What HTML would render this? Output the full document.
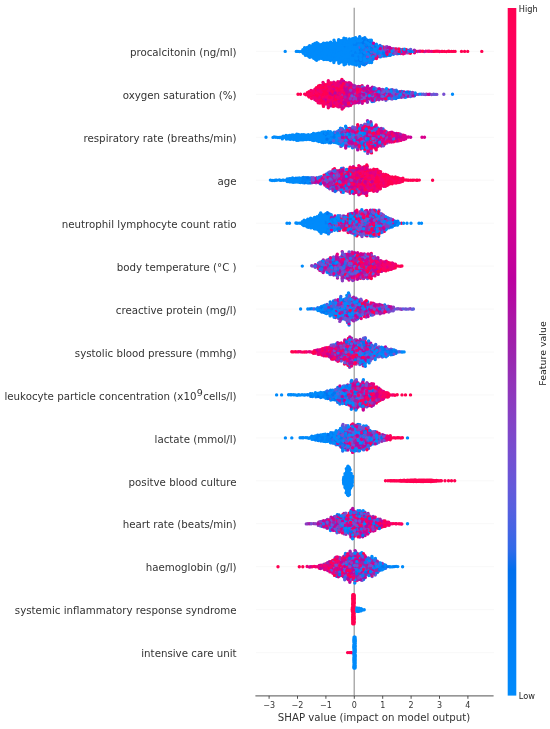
<!DOCTYPE html><html><head><meta charset="utf-8"><title>SHAP summary plot</title>
<style>html,body{margin:0;padding:0;background:#fff}svg{display:block;filter:blur(0.35px)}text{font-family:"DejaVu Sans","Liberation Sans",sans-serif;fill:#333}.yl{font-size:10.25px;text-anchor:end}.tk{font-size:8px;text-anchor:middle}.cb{font-size:8.2px;fill:#222}</style></head><body>
<svg width="550" height="729" viewBox="0 0 550 729">
<rect width="550" height="729" fill="#fff"/>
<g stroke="#f7f7f7" stroke-width="0.9">
<line x1="256" x2="494" y1="51.4" y2="51.4"/>
<line x1="256" x2="494" y1="94.3" y2="94.3"/>
<line x1="256" x2="494" y1="137.3" y2="137.3"/>
<line x1="256" x2="494" y1="180.2" y2="180.2"/>
<line x1="256" x2="494" y1="223.2" y2="223.2"/>
<line x1="256" x2="494" y1="266.1" y2="266.1"/>
<line x1="256" x2="494" y1="309.0" y2="309.0"/>
<line x1="256" x2="494" y1="352.0" y2="352.0"/>
<line x1="256" x2="494" y1="394.9" y2="394.9"/>
<line x1="256" x2="494" y1="437.9" y2="437.9"/>
<line x1="256" x2="494" y1="480.8" y2="480.8"/>
<line x1="256" x2="494" y1="523.7" y2="523.7"/>
<line x1="256" x2="494" y1="566.7" y2="566.7"/>
<line x1="256" x2="494" y1="609.6" y2="609.6"/>
<line x1="256" x2="494" y1="652.6" y2="652.6"/>
</g>
<line x1="354.2" x2="354.2" y1="7.8" y2="695.6" stroke="#999" stroke-width="1.2"/>
<g fill="none" stroke-width="3.4" stroke-linecap="round">
<path stroke="#d9008c" d="M391.9 53.0h0"/>
<path stroke="#008bfb" d="M379.5 49.9h0M328.5 48.7h0M328.8 45.9h0M327.3 45.8h0M359.9 54.1h0M320.5 51.7h0M361.3 56.5h0M356.2 63.7h0M360.9 53.0h0M327.1 55.5h0M330.0 45.2h0M321.9 57.2h0M345.7 57.0h0M352.3 64.0h0M332.0 46.2h0M357.5 46.3h0M374.6 55.6h0M308.0 53.1h0M369.9 45.8h0M308.3 56.0h0M357.9 47.5h0M352.8 52.7h0M371.2 44.5h0M337.6 55.5h0M349.1 54.0h0M314.8 47.6h0M320.5 48.2h0M407.0 49.9h0M363.0 62.0h0M345.9 47.3h0M329.0 50.2h0M342.5 54.0h0M354.4 39.6h0M376.7 57.3h0M354.2 50.4h0M311.9 54.3h0M366.4 47.6h0M354.3 53.9h0M322.1 48.5h0M337.7 56.8h0M335.4 45.5h0M347.3 41.1h0M337.1 51.4h0M335.6 48.5h0M327.2 48.7h0M352.7 51.4h0M369.7 58.4h0M316.8 52.8h0M354.5 56.5h0M354.2 43.6h0M328.3 59.6h0M334.2 43.1h0M326.4 54.1h0M329.1 43.3h0M314.9 53.7h0M383.3 48.3h0M315.3 51.4h0M363.1 38.4h0M335.3 54.6h0M342.6 59.3h0M316.6 60.2h0M368.1 48.7h0M315.3 59.3h0M308.0 51.2h0M357.7 50.1h0M393.3 51.4h0M314.8 57.7h0M335.6 57.1h0M340.5 44.4h0M347.5 59.0h0M337.4 45.9h0M354.5 55.6h0M349.7 58.3h0M340.9 50.1h0M347.4 57.7h0M320.2 45.0h0M388.5 55.4h0M344.1 52.8h0M362.9 48.4h0M333.8 52.9h0M327.0 42.9h0M364.6 43.8h0M352.4 57.1h0M320.4 46.4h0M383.2 51.3h0M354.3 51.4h0M318.4 57.5h0M302.9 49.6h0M360.7 42.1h0M339.5 54.0h0M318.6 54.7h0M318.2 43.6h0M340.2 62.2h0M342.4 43.4h0M313.7 58.2h0M366.5 43.3h0M352.2 50.1h0M334.0 40.3h0M354.6 63.2h0M338.9 63.2h0M325.0 43.4h0M356.1 47.3h0M376.5 49.9h0M347.2 46.1h0M361.3 39.5h0M359.3 58.3h0M305.3 55.3h0M334.0 58.4h0M352.8 47.5h0M342.6 50.4h0M297.9 51.4h0M371.5 42.9h0M334.2 50.2h0"/>
<path stroke="#ff0051" d="M442.6 51.4h0M383.3 46.9h0M436.1 51.2h0M428.0 51.2h0M455.1 51.4h0M385.1 52.7h0"/>
<path stroke="#0081f7" d="M359.5 43.7h0M367.8 55.2h0M386.2 55.9h0M366.8 51.5h0M355.9 59.5h0M376.6 48.6h0"/>
<path stroke="#0076f1" d="M357.6 59.5h0M362.7 39.7h0M367.8 45.9h0M364.4 63.7h0M376.3 54.1h0"/>
<path stroke="#e7007e" d="M386.7 49.9h0M403.4 53.8h0M414.5 52.7h0M405.3 53.1h0"/>
<path stroke="#f30070" d="M408.6 52.8h0"/>
<path stroke="#fc0061" d="M388.1 51.4h0"/>
<path stroke="#5b5ddd" d="M373.3 51.3h0M393.4 48.6h0M374.5 56.7h0"/>
<path stroke="#306ae9" d="M388.5 54.0h0M362.8 45.6h0M361.2 62.1h0M390.5 52.7h0M374.9 47.2h0M371.1 47.6h0"/>
<path stroke="#8a3cc0" d="M417.3 51.5h0M384.9 54.4h0M424.2 51.6h0M395.7 51.5h0M383.6 54.6h0"/>
<path stroke="#9d22ac" d="M400.8 51.4h0M409.3 50.1h0M400.3 53.5h0"/>
<path stroke="#764ed0" d="M368.0 47.3h0"/>
<path stroke="#306ae9" d="M373.1 52.7h0M366.1 55.6h0M371.5 45.7h0M366.3 40.6h0M376.7 55.9h0M366.0 56.9h0M378.2 55.0h0M364.3 47.0h0"/>
<path stroke="#e7007e" d="M402.2 53.6h0"/>
<path stroke="#5b5ddd" d="M410.7 49.4h0M391.3 54.1h0M378.4 49.7h0M381.4 48.4h0M383.2 49.7h0"/>
<path stroke="#0076f1" d="M369.9 55.9h0M380.0 54.0h0M366.1 63.5h0M390.3 55.3h0M381.8 51.2h0M376.4 47.1h0"/>
<path stroke="#fc0061" d="M384.7 48.5h0M371.2 54.0h0"/>
<path stroke="#d9008c" d="M388.7 48.8h0"/>
<path stroke="#008bfb" d="M329.0 51.3h0M358.0 39.3h0M342.2 42.2h0M371.3 58.3h0M409.0 51.5h0M351.2 44.0h0M350.9 54.4h0M357.9 44.8h0M350.8 45.5h0M324.2 45.9h0M342.8 46.2h0M333.4 48.7h0M371.0 56.7h0M334.1 54.1h0M316.8 47.2h0M335.6 60.1h0M323.4 56.7h0M362.9 49.9h0M354.6 52.5h0M346.0 45.7h0M285.2 51.4h0M337.5 49.9h0M369.6 51.4h0M330.5 60.5h0M306.7 55.0h0M335.6 51.5h0M313.1 54.3h0M342.5 52.7h0M327.2 57.2h0M349.2 64.1h0M339.5 52.7h0M355.7 40.3h0M361.2 63.5h0M315.1 45.0h0M337.4 52.7h0M347.7 48.6h0M311.9 48.4h0M346.1 38.8h0M349.2 40.2h0M364.8 56.7h0M338.9 56.6h0M364.4 62.0h0M311.6 56.9h0M325.7 52.6h0M343.9 38.2h0M364.6 46.0h0M335.5 50.0h0M332.4 52.8h0M343.9 46.0h0M321.6 51.6h0M332.2 55.5h0M321.7 44.4h0M369.3 54.1h0M313.0 45.9h0M340.9 40.6h0M328.5 47.4h0M342.7 44.7h0M364.7 39.1h0M338.8 61.7h0M355.7 37.7h0M325.5 57.7h0M334.1 55.5h0M333.9 47.1h0M347.3 61.7h0M316.8 42.6h0M356.0 51.2h0M354.7 48.7h0M359.2 63.5h0M340.9 51.4h0M357.7 52.6h0M338.4 51.3h0M332.1 59.6h0M308.8 49.8h0M334.1 57.0h0M337.3 47.5h0M359.3 56.7h0M369.7 57.0h0M345.7 44.6h0M406.9 51.5h0M368.5 41.7h0M333.7 44.4h0M349.5 55.7h0M352.3 44.6h0M351.1 51.6h0M351.0 48.6h0M332.3 54.0h0M349.5 42.9h0M332.1 56.7h0M315.2 49.8h0M339.2 46.0h0M371.4 42.1h0M359.6 55.5h0M324.1 44.4h0M332.3 43.5h0M326.9 51.5h0M334.0 59.4h0M330.2 50.2h0M312.0 55.6h0M328.5 58.2h0M321.8 54.1h0M303.3 51.2h0M337.2 58.0h0M307.1 53.3h0M345.7 61.5h0M325.5 49.0h0M308.2 48.1h0M335.3 42.6h0M309.8 55.9h0M359.8 44.4h0M347.5 60.4h0"/>
<path stroke="#0081f7" d="M364.4 64.7h0M402.2 51.6h0M355.9 56.6h0M344.0 47.4h0M366.4 54.1h0M373.2 48.9h0M362.5 59.9h0M362.5 51.7h0M356.4 65.0h0"/>
<path stroke="#8a3cc0" d="M379.8 47.2h0M387.9 52.8h0"/>
<path stroke="#764ed0" d="M371.7 55.3h0M407.2 52.8h0M371.2 59.6h0M396.6 49.0h0"/>
<path stroke="#ff0051" d="M405.7 49.5h0M433.1 51.4h0M386.7 54.6h0M402.5 49.4h0M467.7 51.4h0M415.7 51.1h0"/>
<path stroke="#9d22ac" d="M383.5 56.0h0"/>
<path stroke="#f30070" d="M378.3 56.4h0M429.3 51.3h0"/>
<path stroke="#b30aa3" d="M405.7 51.4h0M389.7 47.5h0M381.2 54.5h0"/>
<path stroke="#8a3cc0" d="M396.4 51.1h0M385.5 47.1h0M397.1 53.7h0"/>
<path stroke="#d9008c" d="M386.7 48.3h0M403.6 51.4h0M372.9 47.1h0"/>
<path stroke="#5b5ddd" d="M372.7 46.4h0M371.7 60.9h0M373.0 49.8h0"/>
<path stroke="#764ed0" d="M388.4 50.0h0M367.3 50.0h0M392.1 50.0h0"/>
<path stroke="#008bfb" d="M380.3 56.9h0M349.4 62.5h0M357.7 43.2h0M364.5 51.3h0M316.6 50.0h0M345.7 51.3h0M344.2 55.3h0M346.4 58.7h0M359.4 49.0h0M343.7 42.3h0M354.6 46.3h0M347.6 52.8h0M321.6 55.8h0M323.5 43.2h0M357.7 54.0h0M330.3 55.7h0M351.0 60.3h0M357.8 57.9h0M339.2 48.8h0M332.5 50.0h0M310.1 46.9h0M310.2 51.4h0M343.9 63.0h0M339.1 59.3h0M350.8 52.8h0M315.1 46.3h0M377.8 48.0h0M337.1 48.6h0M393.4 54.3h0M343.9 62.1h0M335.7 44.2h0M374.7 50.0h0M313.0 44.5h0M320.5 56.2h0M362.6 41.3h0M337.0 43.4h0M342.3 61.8h0M357.2 55.5h0M323.7 52.9h0M318.9 51.4h0M368.1 44.6h0M325.2 55.2h0M367.9 58.1h0M349.2 41.6h0M340.9 59.6h0M390.5 54.1h0M347.7 42.5h0M354.5 60.3h0M308.5 46.9h0M366.5 58.1h0M330.9 46.9h0M371.4 40.3h0M352.5 42.7h0M375.0 48.8h0M372.9 44.7h0M307.2 51.4h0M325.6 45.9h0M364.7 54.4h0M318.5 45.3h0M345.9 40.1h0M344.1 48.9h0M344.1 64.7h0M354.4 41.0h0M347.9 47.2h0M318.8 49.6h0M342.1 57.8h0M325.3 54.2h0M373.2 53.8h0M350.7 57.2h0M318.6 52.9h0M339.4 57.9h0M354.6 57.7h0M332.3 44.8h0M364.7 49.1h0M321.7 50.0h0M342.2 60.5h0M320.7 52.9h0M346.1 48.6h0M329.0 55.4h0M380.1 53.1h0M313.4 51.1h0M314.9 43.4h0M327.3 52.9h0M315.2 56.4h0M325.6 56.7h0M327.0 50.1h0M323.1 54.2h0M311.9 52.8h0M309.9 48.4h0M345.6 54.2h0M318.8 59.1h0M356.1 50.2h0M340.4 45.9h0M361.4 51.2h0M351.3 55.9h0M333.8 61.0h0M330.2 48.2h0M330.2 57.6h0M342.5 51.6h0M361.6 44.6h0M320.6 49.6h0M318.6 48.4h0M384.5 51.3h0M313.1 48.6h0M358.8 51.2h0M354.5 59.0h0M325.0 59.4h0M357.5 60.6h0M361.1 58.0h0M321.7 58.4h0M330.5 54.5h0M350.6 61.3h0M340.7 60.7h0"/>
<path stroke="#306ae9" d="M364.3 50.0h0"/>
<path stroke="#e7007e" d="M425.9 51.3h0M391.7 48.7h0"/>
<path stroke="#ff0051" d="M449.6 51.4h0M453.3 51.4h0M410.4 53.2h0M464.6 51.4h0"/>
<path stroke="#0076f1" d="M366.4 59.1h0M367.6 40.3h0M369.8 43.0h0M359.5 49.8h0M384.7 55.7h0M364.6 42.1h0M398.8 53.6h0"/>
<path stroke="#0081f7" d="M368.0 51.3h0M367.7 62.3h0M364.5 55.6h0M369.5 47.3h0M371.5 52.6h0M350.8 50.0h0M357.9 56.8h0M359.2 39.3h0M358.0 42.0h0M361.0 49.8h0M359.7 59.7h0"/>
<path stroke="#306ae9" d="M376.8 53.1h0M364.7 44.8h0M366.2 48.8h0M380.0 45.5h0"/>
<path stroke="#9d22ac" d="M414.0 51.4h0M378.5 51.2h0M393.4 52.7h0"/>
<path stroke="#8a3cc0" d="M387.0 46.6h0M376.4 45.8h0"/>
<path stroke="#e7007e" d="M386.9 52.9h0M431.3 51.4h0"/>
<path stroke="#008bfb" d="M360.0 62.0h0M326.9 44.4h0M340.5 43.5h0M349.1 47.1h0M310.4 50.0h0M330.8 52.8h0M356.1 54.2h0M304.4 53.1h0M353.1 45.8h0M366.4 50.0h0M315.2 48.8h0M352.6 61.3h0M321.9 52.8h0M349.6 60.0h0M328.8 54.0h0M350.7 47.0h0M344.1 53.8h0M347.3 43.6h0M355.8 62.4h0M369.9 49.9h0M357.5 48.8h0M342.5 56.7h0M323.7 48.6h0M320.2 54.4h0M349.4 39.0h0M356.3 38.9h0M354.6 64.5h0M344.2 39.7h0M340.8 58.0h0M374.8 44.4h0M349.4 44.6h0M339.2 47.4h0M349.5 48.6h0M352.8 60.1h0M317.0 44.2h0M303.3 53.2h0M323.6 47.3h0M342.4 40.8h0M344.1 44.8h0M349.0 52.7h0M344.1 59.3h0M316.9 54.3h0M351.0 58.6h0M330.8 43.9h0M349.4 49.8h0M359.6 46.0h0M313.9 56.7h0M313.2 50.0h0M412.5 51.6h0M340.6 48.6h0M363.3 55.7h0M335.7 47.0h0M343.9 57.8h0M327.0 59.5h0M336.1 52.5h0M323.8 50.2h0M345.8 41.8h0M331.9 47.6h0M313.6 47.2h0M309.9 52.9h0M361.3 54.0h0M354.6 38.3h0M352.5 38.6h0M338.7 39.6h0M370.1 48.6h0M331.8 51.8h0M361.3 43.3h0M311.7 49.9h0M340.7 55.5h0M348.9 51.1h0M314.7 55.4h0M317.2 58.6h0M365.7 39.1h0M338.5 40.8h0M308.4 54.6h0M339.2 60.8h0M332.2 57.8h0M345.7 43.1h0M362.8 44.3h0M360.9 47.5h0M352.1 48.7h0M381.5 52.8h0M379.5 51.3h0M338.6 50.2h0M328.8 44.6h0M340.7 47.5h0M345.5 52.9h0M340.7 56.7h0M381.7 56.0h0M334.0 46.2h0M352.5 54.2h0M351.1 39.9h0M400.3 49.5h0M350.5 63.1h0M331.7 48.6h0M310.3 54.3h0M352.7 39.9h0M376.4 51.5h0M325.4 50.2h0M330.3 51.4h0M356.1 45.9h0M327.2 47.1h0M354.4 62.0h0"/>
<path stroke="#ff0051" d="M461.5 51.4h0M399.1 51.5h0M444.5 51.4h0M434.4 51.4h0M398.9 48.9h0M395.3 49.0h0M446.4 51.6h0M437.9 51.2h0M420.8 51.3h0M481.8 51.4h0"/>
<path stroke="#f30070" d="M374.6 58.2h0"/>
<path stroke="#0076f1" d="M366.4 45.9h0M368.2 52.8h0M359.8 60.8h0M363.0 64.2h0M369.6 41.5h0M383.5 53.3h0M369.9 52.9h0M368.3 61.0h0M375.4 45.9h0M360.8 60.8h0"/>
<path stroke="#764ed0" d="M393.8 49.9h0M367.5 56.8h0M394.9 53.5h0M374.6 54.1h0"/>
<path stroke="#0081f7" d="M362.8 62.9h0M355.8 43.0h0M366.4 44.7h0M362.8 53.1h0M364.8 37.7h0M352.7 55.5h0M355.9 44.4h0M355.9 60.8h0M359.7 64.8h0M359.8 42.1h0M390.3 50.0h0M355.7 52.8h0"/>
<path stroke="#d9008c" d="M419.2 51.3h0"/>
<path stroke="#b30aa3" d="M386.9 51.5h0"/>
<path stroke="#5b5ddd" d="M360.1 47.2h0M372.9 57.8h0"/>
<path stroke="#0076f1" d="M410.5 51.6h0M363.1 54.5h0M371.4 48.6h0M359.7 36.8h0M363.1 42.8h0M364.7 40.7h0"/>
<path stroke="#ff0051" d="M390.1 51.2h0M451.6 51.4h0M422.8 51.3h0M441.6 51.4h0M448.4 51.2h0"/>
<path stroke="#8a3cc0" d="M385.2 49.7h0"/>
<path stroke="#5b5ddd" d="M371.4 51.5h0M379.7 55.5h0M370.1 61.1h0M381.2 50.1h0"/>
<path stroke="#fc0061" d="M439.6 51.5h0"/>
<path stroke="#306ae9" d="M381.7 46.8h0M366.3 62.0h0"/>
<path stroke="#f30070" d="M376.5 58.6h0"/>
<path stroke="#764ed0" d="M374.6 52.7h0M366.1 52.6h0"/>
<path stroke="#0081f7" d="M361.7 48.7h0M363.1 58.6h0M354.4 44.7h0M363.1 57.0h0M359.7 52.5h0M373.0 59.2h0M357.9 62.1h0M356.1 42.1h0M371.4 49.9h0M377.9 52.9h0M367.8 59.4h0"/>
<path stroke="#9d22ac" d="M414.3 50.1h0M372.9 55.5h0"/>
<path stroke="#c70098" d="M373.5 43.3h0M380.3 48.5h0M390.3 48.8h0"/>
<path stroke="#008bfb" d="M344.2 60.6h0M354.6 42.2h0M335.3 58.7h0M296.3 51.4h0M313.7 55.4h0M358.0 63.2h0M360.1 38.0h0M340.8 42.1h0M313.6 52.9h0M359.4 40.7h0M328.6 52.7h0M360.8 40.5h0M369.9 40.1h0M364.7 52.8h0M361.0 55.1h0M305.2 51.2h0M321.7 45.5h0M342.6 47.4h0M316.7 45.6h0M311.8 46.1h0M373.2 56.7h0M404.2 49.3h0M304.6 47.8h0M344.5 40.8h0M377.9 46.2h0M367.7 43.1h0M335.5 55.6h0M318.4 56.1h0M338.7 44.7h0M342.8 49.1h0M364.8 60.7h0M337.1 44.5h0M354.4 47.4h0M349.6 45.8h0M348.0 54.1h0M323.7 51.3h0M317.1 55.7h0M348.6 61.1h0M357.7 51.4h0M301.5 51.5h0M359.5 66.3h0M334.3 51.4h0M338.7 55.2h0M309.7 57.3h0M329.0 57.0h0M369.6 62.5h0M339.0 42.4h0M330.6 42.2h0M344.2 51.6h0M344.6 56.8h0M371.6 62.5h0M375.1 51.3h0M356.0 48.6h0M364.8 59.5h0M347.3 44.8h0M321.8 46.9h0M357.7 40.8h0M352.3 41.6h0M306.6 47.8h0M316.7 51.4h0M349.4 57.1h0M362.9 47.2h0M323.7 58.4h0M333.9 62.5h0M299.4 51.6h0M345.5 50.1h0M345.7 64.0h0M361.2 46.1h0M342.9 55.4h0M366.3 60.8h0M337.8 59.5h0M347.6 50.0h0M344.3 50.1h0M392.0 51.3h0M352.7 58.5h0M312.2 51.3h0M325.5 51.4h0M356.0 55.2h0M348.1 55.4h0M340.3 52.8h0M365.7 41.9h0M364.6 58.4h0M367.9 54.1h0M376.4 44.3h0M356.4 58.4h0M320.6 57.7h0M346.2 59.6h0M334.3 41.9h0M327.0 58.4h0M352.9 62.6h0M360.7 59.5h0M345.7 62.7h0M351.1 42.7h0M325.0 47.5h0M306.2 49.3h0M305.2 49.5h0M337.4 54.3h0M346.1 55.8h0M311.7 47.2h0M323.7 55.8h0M317.3 48.5h0M323.7 59.6h0M315.2 52.6h0M316.9 57.1h0M347.3 56.8h0M369.5 44.4h0M340.7 54.0h0M309.6 45.6h0M338.9 43.7h0M318.8 46.7h0M325.5 44.7h0M344.0 43.4h0M351.0 41.1h0M369.5 59.9h0M347.7 51.3h0M330.2 58.9h0"/>
<path stroke="#b30aa3" d="M388.4 47.6h0"/>
<path stroke="#0076f1" d="M415.1 94.2h0M392.9 93.1h0"/>
<path stroke="#306ae9" d="M409.5 94.5h0M356.8 102.0h0"/>
<path stroke="#8a3cc0" d="M347.1 105.3h0M370.4 98.7h0M401.2 92.7h0M352.1 98.2h0"/>
<path stroke="#b30aa3" d="M355.3 96.9h0M353.4 95.8h0M365.5 89.8h0M370.3 88.5h0M348.5 105.9h0M377.4 92.5h0M399.4 92.8h0M360.7 97.3h0M365.8 97.2h0M360.8 91.4h0M353.9 98.4h0M375.8 92.9h0M408.0 92.0h0"/>
<path stroke="#d9008c" d="M358.3 95.6h0M345.0 87.2h0M342.3 106.2h0M314.8 99.6h0M391.0 94.2h0M377.5 89.1h0M346.6 90.1h0M345.5 91.4h0M340.1 81.8h0M340.5 102.6h0M343.4 84.8h0M372.2 92.8h0M338.8 83.2h0M373.9 91.4h0"/>
<path stroke="#0081f7" d="M375.9 91.6h0M404.6 94.2h0M355.2 87.0h0"/>
<path stroke="#764ed0" d="M433.6 94.2h0M360.4 94.2h0M348.3 92.8h0M355.5 91.5h0"/>
<path stroke="#e7007e" d="M319.8 95.8h0M322.7 90.1h0M348.6 100.0h0M331.7 87.1h0M343.3 103.4h0M323.5 83.7h0M356.9 94.4h0M323.0 93.0h0M345.6 82.7h0M324.7 100.9h0M341.6 105.2h0M341.8 99.5h0"/>
<path stroke="#5b5ddd" d="M360.5 102.0h0M374.1 94.0h0M385.9 100.3h0M358.9 100.9h0M391.3 93.1h0M377.5 99.4h0"/>
<path stroke="#f30070" d="M328.3 80.7h0M320.0 98.7h0M343.5 107.6h0M331.6 104.3h0M333.0 93.2h0M332.1 100.2h0M314.9 89.2h0M321.8 91.5h0M319.7 89.9h0M319.7 88.8h0M318.3 98.7h0M327.3 87.4h0M340.4 101.2h0M338.4 91.5h0M341.7 83.7h0M331.8 84.4h0M326.7 98.4h0M343.3 94.6h0M330.2 91.4h0M328.1 97.0h0"/>
<path stroke="#fc0061" d="M324.8 95.7h0M311.3 92.3h0M323.3 105.2h0M321.6 90.0h0M318.2 102.8h0M365.5 99.1h0M338.7 88.8h0M338.4 104.1h0M323.0 86.2h0M362.1 97.2h0M336.5 85.7h0M316.4 89.3h0M343.8 98.4h0M360.4 88.4h0M338.6 105.5h0M324.7 97.0h0M335.4 91.5h0M309.9 95.9h0M340.3 95.6h0M340.2 106.5h0"/>
<path stroke="#c70098" d="M357.1 99.3h0M349.0 84.6h0M341.6 98.4h0M343.4 104.9h0M362.3 89.7h0M322.9 84.9h0M367.6 86.3h0M356.9 88.2h0M330.0 105.9h0M349.1 98.7h0M342.0 82.3h0"/>
<path stroke="#9d22ac" d="M401.5 91.4h0M358.5 94.1h0M386.0 95.8h0M370.0 96.7h0M384.4 97.1h0"/>
<path stroke="#008bfb" d="M383.7 95.6h0M406.2 96.9h0M381.1 92.7h0M408.0 94.4h0M402.7 91.8h0M411.6 95.8h0M452.5 94.3h0"/>
<path stroke="#ff0051" d="M363.8 93.0h0M330.9 85.6h0M328.3 107.7h0M321.4 95.8h0M330.4 90.1h0M335.3 87.5h0M331.8 101.6h0M311.2 96.0h0M314.6 95.9h0M349.0 90.1h0M341.8 88.8h0M333.4 99.6h0M324.9 102.4h0M324.9 90.1h0M330.1 87.2h0M354.3 94.4h0"/>
<path stroke="#0081f7" d="M372.1 101.6h0M392.6 91.3h0"/>
<path stroke="#008bfb" d="M392.5 94.3h0M394.8 96.1h0M405.0 97.3h0"/>
<path stroke="#ff0051" d="M348.8 97.4h0M336.8 104.7h0M309.5 93.1h0M318.5 85.9h0M345.3 93.0h0M331.9 95.5h0M336.5 90.1h0M323.5 106.4h0M323.0 99.4h0M352.0 89.0h0M341.9 79.4h0M309.0 91.6h0M342.0 84.9h0M344.6 88.8h0M323.1 101.0h0M330.2 82.9h0M318.2 87.5h0M328.4 95.9h0M316.3 94.2h0M333.3 91.8h0M328.5 94.5h0"/>
<path stroke="#f30070" d="M360.4 92.8h0M326.5 90.2h0M324.6 94.4h0M387.8 92.7h0M346.8 98.4h0M337.9 81.8h0M338.0 102.9h0M319.7 101.8h0M326.8 91.9h0M343.8 91.6h0M318.2 91.8h0M313.1 92.8h0M373.8 96.9h0M367.5 95.8h0M333.3 105.1h0M321.8 94.3h0M317.9 92.8h0"/>
<path stroke="#5b5ddd" d="M395.1 94.4h0M379.5 96.8h0M370.8 99.9h0"/>
<path stroke="#764ed0" d="M416.3 94.4h0M394.5 90.5h0M374.4 93.3h0M387.6 97.1h0"/>
<path stroke="#b30aa3" d="M355.1 95.5h0M340.2 93.1h0M369.3 98.6h0M387.7 89.9h0M355.3 90.2h0M367.6 98.5h0M360.4 100.0h0M332.9 84.8h0M392.8 96.9h0M367.5 90.1h0M358.6 102.7h0M384.2 94.6h0"/>
<path stroke="#9d22ac" d="M389.5 95.6h0M360.8 99.0h0M401.2 97.3h0M355.6 88.6h0M399.7 91.6h0M370.8 94.1h0M382.5 99.3h0"/>
<path stroke="#c70098" d="M369.4 89.8h0M345.5 101.6h0M348.4 101.4h0M380.8 97.4h0M364.1 97.1h0M372.6 96.8h0M359.1 93.1h0M347.3 94.4h0M370.6 95.8h0M343.9 99.9h0M375.7 97.2h0M345.2 94.3h0M352.3 99.8h0M340.3 83.5h0M333.3 98.4h0"/>
<path stroke="#fc0061" d="M330.3 102.9h0M327.9 85.1h0M318.6 94.4h0M336.4 101.5h0M330.0 104.3h0M320.0 94.5h0M324.6 88.8h0M350.5 88.8h0M333.6 86.2h0M318.3 99.9h0M351.8 102.5h0M338.3 98.3h0M321.4 88.4h0M319.8 100.2h0M326.4 84.7h0M324.8 92.9h0M342.1 109.0h0M345.5 85.7h0"/>
<path stroke="#8a3cc0" d="M412.9 94.3h0M369.2 91.6h0M389.7 92.9h0M392.3 89.7h0M343.2 106.3h0M343.4 101.0h0"/>
<path stroke="#306ae9" d="M363.9 87.6h0M373.9 101.3h0M351.9 86.4h0"/>
<path stroke="#e7007e" d="M340.1 87.4h0M335.6 86.2h0M328.4 91.7h0M335.1 88.8h0M367.5 89.0h0M358.3 90.2h0M351.6 100.9h0M338.3 86.2h0M348.7 96.0h0M362.1 85.7h0M336.6 87.2h0M333.4 97.2h0M345.0 84.4h0M327.9 93.2h0M338.7 87.6h0"/>
<path stroke="#d9008c" d="M350.4 83.3h0M388.8 90.1h0M374.4 98.3h0M391.0 96.9h0M342.3 107.8h0M342.2 91.7h0M328.3 106.4h0M343.8 90.4h0M352.3 103.5h0M351.0 95.7h0M333.2 83.3h0M340.4 91.7h0M352.1 85.0h0"/>
<path stroke="#e7007e" d="M353.7 89.7h0M335.2 84.9h0M341.8 102.5h0M357.3 91.1h0M355.5 94.2h0M348.4 86.9h0M326.3 103.9h0M362.3 93.1h0M323.5 89.2h0M353.9 93.0h0M315.0 92.5h0M367.4 94.5h0M330.2 95.7h0M339.3 84.6h0"/>
<path stroke="#8a3cc0" d="M411.4 94.1h0M392.4 98.7h0M362.6 91.6h0M378.7 92.9h0M387.9 98.7h0"/>
<path stroke="#fc0061" d="M304.6 94.1h0M336.9 95.6h0M333.2 101.1h0M333.8 94.4h0M312.8 91.0h0M323.3 95.7h0M319.4 87.3h0M330.1 98.4h0M308.5 96.1h0M356.8 97.1h0M311.6 98.6h0M348.7 94.4h0M326.4 86.2h0M316.4 99.3h0M326.6 102.2h0M357.1 86.6h0M325.1 99.7h0M350.3 86.2h0M387.7 94.5h0"/>
<path stroke="#d9008c" d="M403.3 94.3h0M353.7 101.6h0M334.5 98.5h0M338.5 93.1h0M375.7 95.7h0M333.4 95.8h0"/>
<path stroke="#0076f1" d="M414.5 95.8h0M410.0 92.2h0M396.0 91.5h0M395.9 98.5h0M377.7 90.9h0"/>
<path stroke="#f30070" d="M327.8 86.4h0M316.3 100.6h0M347.1 87.6h0M358.6 91.6h0M321.8 85.6h0M331.8 98.7h0M328.2 82.3h0M343.2 95.5h0M325.3 98.2h0M373.8 95.8h0M352.0 87.5h0M328.3 90.3h0M357.3 100.5h0"/>
<path stroke="#9d22ac" d="M397.8 94.3h0M371.4 93.0h0M386.1 91.6h0M374.5 90.4h0M429.8 94.3h0M377.1 96.2h0M336.6 100.1h0M362.4 98.5h0M381.1 98.5h0M381.1 89.8h0"/>
<path stroke="#b30aa3" d="M381.0 91.5h0M358.8 86.4h0M360.3 95.7h0M369.0 92.8h0M379.3 90.2h0M408.1 96.3h0M365.8 100.4h0M350.4 91.5h0M404.3 92.0h0M362.2 94.7h0M367.0 92.8h0"/>
<path stroke="#764ed0" d="M421.5 94.3h0M355.9 99.6h0M380.7 94.2h0M431.7 94.6h0M363.3 91.5h0"/>
<path stroke="#306ae9" d="M376.1 98.4h0M396.0 95.8h0"/>
<path stroke="#c70098" d="M326.3 99.9h0M382.6 91.1h0M331.7 105.8h0M334.8 104.1h0M350.4 101.4h0M379.2 88.7h0M358.8 99.7h0M352.2 92.7h0M367.6 96.8h0M362.3 103.2h0M347.4 104.0h0M332.1 94.2h0M353.8 88.7h0M350.8 92.9h0"/>
<path stroke="#ff0051" d="M333.1 103.8h0M323.1 104.0h0M340.3 88.7h0M348.7 88.5h0M350.3 94.2h0M336.9 88.5h0M340.3 96.9h0M333.5 87.4h0M318.1 97.1h0M335.4 95.8h0M329.9 93.8h0M335.2 97.3h0M333.0 90.0h0M360.3 86.8h0M309.2 97.0h0M315.1 94.4h0M343.6 92.9h0M321.8 98.6h0M318.1 88.8h0M298.0 94.3h0M321.7 97.3h0M323.1 91.8h0M319.8 93.0h0"/>
<path stroke="#5b5ddd" d="M386.1 90.1h0M384.1 90.0h0M396.4 92.6h0M423.4 94.2h0M392.1 96.2h0M404.4 93.4h0M354.2 97.3h0M411.6 92.9h0M410.4 96.6h0M362.2 86.9h0"/>
<path stroke="#0081f7" d="M398.8 97.4h0M386.1 97.2h0"/>
<path stroke="#b30aa3" d="M389.4 94.3h0M362.6 88.9h0M367.0 101.3h0M372.3 98.7h0M367.2 99.9h0"/>
<path stroke="#c70098" d="M364.4 95.8h0M355.7 102.7h0M403.9 95.7h0M372.3 91.7h0M328.6 103.4h0M346.9 93.1h0M367.2 87.6h0"/>
<path stroke="#9d22ac" d="M401.2 95.7h0M365.6 91.2h0M367.4 102.2h0M365.8 94.4h0M379.3 94.4h0M377.4 97.3h0M426.6 94.3h0M396.2 94.5h0M358.7 87.5h0"/>
<path stroke="#e7007e" d="M340.8 99.8h0M352.2 90.4h0M375.9 90.0h0M328.5 87.7h0M387.4 95.8h0M343.4 89.0h0M343.7 82.2h0M351.9 96.9h0M338.8 95.7h0M336.8 83.1h0M363.9 99.8h0M339.5 98.3h0M314.7 97.6h0M375.7 94.2h0M329.9 85.9h0M338.6 106.9h0"/>
<path stroke="#764ed0" d="M443.8 94.3h0M418.3 94.4h0M365.9 95.6h0M364.2 98.2h0M391.5 98.9h0"/>
<path stroke="#8a3cc0" d="M384.2 98.6h0M354.9 86.0h0M402.9 96.9h0M353.9 99.8h0M355.2 93.1h0M389.4 91.7h0M362.3 95.7h0M353.9 87.1h0"/>
<path stroke="#f30070" d="M337.0 84.2h0M341.9 101.0h0M369.3 94.4h0M325.0 103.9h0M342.3 103.9h0M309.9 94.4h0M321.8 101.3h0M328.7 89.0h0M328.3 105.2h0M345.7 95.8h0M311.0 90.4h0M321.8 92.9h0M375.5 100.0h0M334.5 105.5h0M345.3 98.5h0M336.6 106.0h0M363.8 90.5h0M314.6 91.0h0M327.1 95.7h0M335.5 90.5h0M313.0 94.6h0M348.3 104.5h0M360.4 89.7h0M316.2 97.6h0"/>
<path stroke="#008bfb" d="M394.4 98.3h0M386.5 88.8h0M415.2 92.9h0"/>
<path stroke="#d9008c" d="M329.9 101.3h0M331.5 103.0h0M341.7 80.8h0M369.5 97.3h0M326.9 101.1h0M372.1 90.1h0M333.5 89.1h0M382.7 94.5h0M382.2 97.8h0M355.2 101.4h0M358.5 97.0h0M350.7 85.1h0M347.0 97.0h0M346.7 99.8h0"/>
<path stroke="#306ae9" d="M374.2 100.0h0M396.2 90.1h0M380.7 95.8h0"/>
<path stroke="#5b5ddd" d="M375.8 88.7h0M386.1 94.3h0M362.2 100.1h0M435.1 94.4h0M372.6 95.8h0"/>
<path stroke="#0076f1" d="M386.1 92.8h0M397.6 97.3h0M390.9 89.9h0"/>
<path stroke="#ff0051" d="M326.6 93.2h0M332.0 92.7h0M321.9 102.8h0M326.4 88.7h0M316.4 87.7h0M307.3 92.6h0M300.5 94.3h0M320.0 85.5h0M328.0 102.1h0M340.5 103.8h0M333.4 106.4h0M385.7 98.7h0M338.6 90.2h0M340.4 89.9h0M306.0 94.7h0M336.3 94.5h0M346.9 102.7h0M335.7 94.4h0M312.7 96.3h0M325.1 86.1h0M326.4 94.2h0M324.9 84.6h0M328.3 100.9h0M316.5 91.0h0"/>
<path stroke="#fc0061" d="M364.1 100.9h0M333.4 102.5h0M311.4 94.3h0M335.0 101.3h0M317.8 95.8h0M338.5 100.2h0M323.1 102.4h0M308.1 94.4h0M357.2 92.5h0M341.9 92.9h0M329.6 84.4h0M316.4 92.8h0M331.8 97.4h0"/>
<path stroke="#d9008c" d="M353.7 91.5h0M362.1 101.5h0M354.1 102.9h0M343.5 97.1h0M332.1 89.9h0M334.9 102.7h0M340.1 105.2h0M350.4 102.4h0M384.2 92.9h0M349.0 82.8h0M365.5 88.2h0M341.8 94.4h0M343.5 86.3h0M346.6 101.0h0M323.3 98.5h0M333.8 82.3h0M345.5 100.2h0M338.5 101.3h0M378.8 98.2h0"/>
<path stroke="#764ed0" d="M341.4 95.7h0M382.5 92.6h0M436.8 94.4h0M393.8 92.6h0M425.2 94.5h0M350.4 103.9h0M406.2 94.6h0M397.8 95.9h0"/>
<path stroke="#306ae9" d="M399.8 94.3h0M396.0 97.1h0M365.8 93.0h0"/>
<path stroke="#fc0061" d="M341.7 97.0h0M328.6 83.6h0M328.6 100.0h0M342.1 90.1h0M321.2 87.2h0M336.8 91.4h0M350.6 87.7h0M325.1 87.8h0M323.1 97.0h0M337.1 98.7h0M320.0 103.1h0M347.0 85.7h0M331.3 82.9h0"/>
<path stroke="#e7007e" d="M350.6 105.4h0M318.0 90.1h0M349.8 97.2h0M357.0 95.9h0M331.3 88.4h0M336.7 97.3h0M347.1 83.3h0M338.2 84.5h0M319.1 97.3h0"/>
<path stroke="#c70098" d="M350.5 99.8h0M346.8 95.7h0M363.8 94.4h0M330.3 93.2h0M389.3 97.2h0M348.9 85.7h0M377.6 94.5h0M372.5 100.2h0M345.4 89.9h0M345.3 103.3h0M428.5 94.4h0M343.8 102.4h0M346.9 91.8h0M338.3 94.2h0M372.6 88.7h0M343.4 87.6h0M343.5 81.3h0"/>
<path stroke="#f30070" d="M370.7 91.8h0M326.9 97.0h0M358.3 89.0h0M313.1 97.6h0M330.1 100.0h0M319.9 91.5h0M330.2 88.6h0M345.4 105.9h0M323.0 82.4h0M335.1 83.2h0M328.4 98.6h0M318.0 101.2h0M339.9 94.3h0M340.6 86.3h0M337.9 97.1h0M336.7 92.9h0M336.7 103.0h0"/>
<path stroke="#9d22ac" d="M391.4 95.7h0M379.0 99.8h0M345.1 97.0h0M354.1 85.8h0M347.1 84.8h0M372.2 94.3h0"/>
<path stroke="#b30aa3" d="M345.5 104.4h0M348.7 91.7h0M379.0 95.5h0M372.4 87.2h0M359.0 98.1h0M366.8 91.5h0M352.0 94.3h0M371.1 90.0h0M335.1 93.0h0M346.9 88.7h0M351.9 91.8h0M364.0 88.9h0M413.0 95.9h0"/>
<path stroke="#0081f7" d="M399.3 95.9h0"/>
<path stroke="#8a3cc0" d="M382.6 89.4h0M355.5 98.4h0M412.6 92.5h0M350.3 98.7h0M350.6 90.3h0M397.8 92.7h0"/>
<path stroke="#5b5ddd" d="M384.0 91.6h0M351.9 95.9h0M382.5 96.4h0M387.5 91.5h0M374.4 87.7h0"/>
<path stroke="#008bfb" d="M400.7 94.4h0M378.9 91.7h0M391.0 91.2h0M369.4 95.7h0M389.3 98.3h0M419.9 94.1h0"/>
<path stroke="#ff0051" d="M341.7 87.6h0M329.8 97.3h0M357.5 89.7h0M325.1 91.6h0M323.0 87.7h0M348.8 103.2h0M342.0 86.2h0M317.1 95.9h0M332.0 91.4h0M343.4 83.6h0M321.5 100.4h0M323.2 94.2h0M335.4 99.8h0"/>
<path stroke="#0076f1" d="M397.5 91.6h0M373.9 89.0h0M406.6 92.1h0"/>
<path stroke="#e7007e" d="M356.1 134.6h0M376.1 134.3h0M384.8 142.1h0M364.4 129.4h0M361.1 137.1h0M391.8 137.2h0M340.3 138.7h0"/>
<path stroke="#fc0061" d="M376.2 149.9h0M398.4 135.7h0"/>
<path stroke="#9d22ac" d="M374.8 135.7h0M347.4 135.7h0M369.5 133.2h0M367.7 123.7h0M356.0 131.9h0M374.6 126.9h0"/>
<path stroke="#764ed0" d="M338.8 135.7h0M355.8 130.7h0M363.1 135.9h0M373.3 132.3h0M376.4 146.0h0"/>
<path stroke="#b30aa3" d="M383.4 134.4h0M363.1 146.6h0M389.5 142.0h0"/>
<path stroke="#306ae9" d="M335.2 139.3h0M345.9 131.7h0M342.3 128.6h0M345.6 138.4h0M364.2 141.3h0"/>
<path stroke="#f30070" d="M367.7 140.2h0M371.2 149.0h0M391.7 138.9h0M374.9 134.8h0M354.0 144.1h0"/>
<path stroke="#0081f7" d="M324.5 134.8h0M321.8 142.2h0M321.8 140.7h0M359.9 137.1h0M310.0 139.6h0M323.6 137.5h0M325.2 137.1h0M357.7 145.7h0M315.0 140.1h0M379.6 134.1h0"/>
<path stroke="#0076f1" d="M354.4 134.9h0M330.6 136.1h0M381.3 129.8h0M357.8 138.6h0M339.0 143.8h0M372.9 143.6h0"/>
<path stroke="#8a3cc0" d="M356.2 141.1h0M361.1 125.4h0M347.9 128.7h0M361.3 145.0h0M368.0 141.5h0M340.9 146.4h0M367.7 129.0h0"/>
<path stroke="#5b5ddd" d="M365.6 141.6h0M337.2 141.5h0M363.1 144.0h0M338.6 141.4h0M369.8 141.7h0M354.4 133.1h0M388.5 138.5h0M341.1 143.2h0M347.5 145.7h0M374.5 131.8h0"/>
<path stroke="#008bfb" d="M312.0 137.2h0M308.2 139.3h0M296.3 135.8h0M374.7 146.8h0M325.6 131.9h0M330.2 132.9h0M316.9 133.8h0M352.9 128.3h0M315.7 138.7h0M335.6 142.6h0M284.4 137.3h0M314.9 134.0h0M329.2 138.6h0M358.7 143.2h0M313.5 138.9h0M330.4 141.5h0M378.0 138.7h0M320.3 141.4h0M277.9 137.5h0M305.0 139.5h0M331.9 136.0h0M338.8 142.8h0M371.1 126.8h0M294.8 139.0h0M351.0 145.6h0M298.0 134.4h0M355.8 146.7h0M346.1 129.4h0M312.0 134.4h0M298.1 140.2h0M279.5 137.5h0M345.9 143.8h0M313.4 133.5h0M324.6 138.5h0M296.7 134.3h0M339.3 137.4h0M369.8 150.6h0M289.5 139.0h0M365.0 150.9h0M301.5 136.0h0M341.0 144.7h0M291.1 137.5h0M371.2 133.4h0M347.0 132.9h0M345.9 134.6h0"/>
<path stroke="#ff0051" d="M379.8 135.9h0M362.8 145.7h0M376.7 132.7h0M371.6 141.2h0M391.8 140.7h0M372.7 140.9h0M378.2 140.3h0M388.1 136.0h0M376.7 142.7h0M376.1 148.3h0M356.0 138.7h0M371.5 152.9h0"/>
<path stroke="#c70098" d="M400.2 139.0h0M410.7 137.3h0M393.7 133.2h0"/>
<path stroke="#d9008c" d="M342.4 141.2h0M390.3 132.5h0M347.5 144.4h0M369.3 125.3h0M396.6 133.4h0M357.8 133.1h0M408.6 137.0h0M391.9 132.1h0M366.3 134.4h0M403.9 139.6h0M363.1 138.7h0"/>
<path stroke="#c70098" d="M390.0 140.3h0M379.6 140.4h0M402.0 137.5h0M381.7 144.5h0M397.0 139.7h0M359.5 141.1h0"/>
<path stroke="#b30aa3" d="M376.4 139.8h0M365.9 135.8h0M388.2 137.4h0M350.8 136.0h0"/>
<path stroke="#764ed0" d="M344.2 141.8h0M355.7 128.2h0M364.4 125.2h0M364.6 142.7h0M376.4 127.5h0"/>
<path stroke="#0081f7" d="M357.8 126.3h0M330.4 137.0h0M330.5 138.5h0M325.5 135.9h0M361.0 131.1h0M361.2 146.5h0M360.7 133.2h0M342.6 130.1h0"/>
<path stroke="#d9008c" d="M356.1 133.5h0M343.7 140.1h0M376.0 126.0h0M383.8 144.5h0M424.5 137.3h0"/>
<path stroke="#8a3cc0" d="M366.0 148.7h0M338.8 140.0h0M370.2 129.3h0M381.6 140.1h0M348.8 135.9h0M368.1 134.4h0M368.2 130.4h0M364.6 148.2h0M376.0 141.4h0M373.3 129.5h0M384.5 134.0h0M342.0 143.4h0"/>
<path stroke="#f30070" d="M370.9 150.3h0M388.5 139.9h0M398.7 138.8h0M398.4 140.9h0M398.3 137.1h0"/>
<path stroke="#ff0051" d="M371.1 134.9h0M351.0 144.5h0M364.6 146.6h0M369.6 148.0h0M379.7 131.1h0M383.9 137.3h0M371.2 132.1h0M357.7 124.8h0"/>
<path stroke="#9d22ac" d="M381.5 146.1h0M344.4 137.3h0M354.6 138.6h0M384.6 137.4h0M350.7 128.5h0M371.1 129.4h0"/>
<path stroke="#fc0061" d="M374.6 142.7h0M386.7 138.9h0M364.5 137.2h0M385.2 132.3h0M388.4 141.6h0"/>
<path stroke="#008bfb" d="M325.4 140.0h0M335.5 134.0h0M341.2 134.4h0M299.7 135.0h0M332.1 141.6h0M345.7 146.7h0M381.7 135.8h0M320.2 133.3h0M310.0 137.3h0M330.4 131.7h0M330.4 134.6h0M324.9 141.1h0M354.3 130.4h0M313.9 140.5h0M373.3 136.0h0M303.2 139.7h0M299.8 137.3h0M308.3 134.8h0M354.2 141.5h0M372.7 130.4h0M337.3 143.1h0M338.9 130.5h0M323.7 132.0h0M331.9 138.5h0M286.4 137.5h0M340.7 140.5h0M342.3 145.5h0M335.8 135.2h0M300.9 137.4h0M296.6 140.2h0M296.5 137.2h0M304.5 137.5h0M328.3 137.0h0M322.6 134.1h0M306.1 135.3h0M288.3 137.6h0M366.1 137.2h0M333.8 142.4h0M306.7 137.6h0M275.9 137.2h0M351.0 132.9h0M301.8 134.8h0M328.9 142.8h0M290.7 139.3h0M318.0 135.9h0"/>
<path stroke="#e7007e" d="M368.0 147.0h0M376.4 136.0h0M361.1 142.6h0M393.7 141.7h0M369.4 126.6h0M390.4 137.3h0M403.5 135.1h0M359.3 127.4h0"/>
<path stroke="#5b5ddd" d="M381.2 134.3h0M360.8 139.9h0M359.4 130.3h0M372.8 145.3h0M357.8 139.9h0M349.2 132.5h0M347.3 143.3h0"/>
<path stroke="#306ae9" d="M378.3 135.6h0M383.1 128.9h0M376.9 130.5h0M345.9 135.8h0M376.4 138.7h0M355.4 142.7h0M340.5 135.7h0M340.8 132.8h0"/>
<path stroke="#0076f1" d="M352.6 129.9h0M362.9 126.3h0M371.0 137.5h0M374.9 140.2h0M339.2 133.2h0"/>
<path stroke="#9d22ac" d="M347.6 141.5h0M366.3 133.1h0"/>
<path stroke="#f30070" d="M360.9 149.1h0M376.1 124.9h0M378.2 134.3h0M398.6 133.7h0"/>
<path stroke="#5b5ddd" d="M360.8 127.8h0M352.7 127.0h0M364.3 132.0h0M371.2 124.4h0M381.7 138.6h0M337.1 131.6h0M350.9 131.6h0"/>
<path stroke="#e7007e" d="M349.4 128.4h0M342.8 135.9h0M391.6 142.0h0M376.2 147.4h0M352.1 144.5h0M379.7 137.3h0M364.5 145.3h0"/>
<path stroke="#0076f1" d="M346.1 137.2h0M377.8 142.8h0M323.6 133.4h0M327.0 135.6h0M381.3 143.1h0M325.3 134.5h0M332.0 140.0h0"/>
<path stroke="#fc0061" d="M396.8 135.9h0M379.6 145.0h0M400.8 140.4h0"/>
<path stroke="#0081f7" d="M332.3 137.2h0M337.5 135.7h0M357.7 130.6h0M323.5 142.5h0M369.6 145.4h0M334.2 135.8h0M357.4 137.5h0M323.3 140.0h0M328.9 134.2h0"/>
<path stroke="#d9008c" d="M357.5 129.3h0M379.5 132.8h0M422.0 137.3h0M385.1 138.9h0M364.5 130.8h0M369.8 149.1h0M342.8 131.6h0"/>
<path stroke="#ff0051" d="M361.2 136.0h0M357.6 141.5h0M371.4 147.8h0M367.2 137.4h0M371.2 146.6h0M368.2 126.5h0M364.6 149.3h0M374.8 148.0h0M352.2 135.9h0M361.0 134.9h0M389.9 135.8h0"/>
<path stroke="#008bfb" d="M349.1 146.1h0M300.0 139.9h0M287.9 138.8h0M359.5 136.1h0M301.6 138.9h0M353.9 145.5h0M331.8 133.1h0M338.6 134.5h0M371.5 135.8h0M320.4 136.0h0M304.9 135.2h0M311.5 138.9h0M316.9 135.6h0M349.0 129.8h0M352.5 147.8h0M325.6 142.3h0M316.5 137.1h0M361.4 147.7h0M283.2 136.2h0M312.4 140.2h0M337.1 134.5h0M366.2 143.1h0M357.5 148.5h0M293.5 139.6h0M286.0 135.5h0M313.7 135.7h0M347.7 140.2h0M330.7 139.7h0M333.8 138.8h0M293.0 134.9h0M343.7 143.4h0M335.3 140.9h0M318.4 133.2h0M306.5 139.5h0M320.2 139.9h0M340.2 137.2h0M298.5 137.5h0M371.4 125.5h0M342.2 144.6h0"/>
<path stroke="#306ae9" d="M361.4 141.0h0M378.2 128.3h0M354.2 137.2h0M343.7 133.0h0M382.9 130.2h0"/>
<path stroke="#8a3cc0" d="M354.0 146.9h0M378.2 144.7h0M359.8 134.5h0M357.5 147.1h0"/>
<path stroke="#b30aa3" d="M374.9 137.1h0M381.4 132.7h0M386.9 134.3h0M345.8 145.4h0M397.0 134.7h0M352.8 140.4h0M378.1 141.8h0M393.1 140.0h0M388.0 134.6h0"/>
<path stroke="#c70098" d="M354.3 131.9h0M367.8 132.9h0M364.6 134.7h0M362.8 131.8h0M373.2 137.0h0M396.8 141.1h0M374.4 127.9h0M376.3 144.3h0M369.7 139.8h0M363.1 139.8h0"/>
<path stroke="#764ed0" d="M371.1 151.4h0M352.6 146.1h0M367.7 149.7h0M367.9 148.5h0M374.5 141.4h0M362.5 141.1h0M359.4 138.7h0M355.9 129.5h0M349.5 144.2h0M383.4 131.8h0M360.9 126.5h0M339.0 132.0h0M364.6 139.6h0"/>
<path stroke="#f30070" d="M344.0 138.5h0M359.3 147.0h0M357.8 127.4h0M362.8 130.5h0M375.0 143.8h0M386.9 136.0h0M393.6 137.4h0"/>
<path stroke="#008bfb" d="M318.0 134.4h0M371.3 139.9h0M322.1 138.8h0M345.7 130.5h0M296.4 138.7h0M345.6 126.2h0M337.4 138.7h0M308.5 137.1h0M322.1 132.3h0M349.0 140.2h0M328.5 135.9h0M328.1 131.4h0M350.5 141.5h0M323.8 138.7h0M318.7 138.5h0M350.5 137.2h0M301.9 139.7h0M354.3 135.7h0M324.0 141.2h0M297.8 135.8h0M340.5 128.1h0M320.3 137.5h0M317.1 140.7h0M322.0 135.8h0M323.5 136.3h0M291.5 135.1h0M315.3 137.6h0M357.9 134.6h0M352.4 134.4h0M371.1 122.9h0M266.0 137.3h0M318.3 137.3h0M371.3 130.9h0M337.3 136.9h0M328.3 141.8h0M311.7 135.8h0M326.9 137.2h0M334.1 132.1h0M310.3 135.1h0"/>
<path stroke="#0081f7" d="M378.3 137.3h0M362.5 142.8h0M346.2 127.8h0M352.2 138.9h0M340.9 131.1h0"/>
<path stroke="#d9008c" d="M402.1 135.1h0M386.7 140.0h0M395.4 139.2h0M400.4 136.0h0M405.1 135.6h0M374.9 133.3h0M376.4 137.5h0M368.2 152.3h0"/>
<path stroke="#8a3cc0" d="M385.0 140.5h0M359.5 144.4h0M354.7 142.9h0M374.4 138.8h0M367.7 153.4h0M386.9 143.0h0M386.4 137.2h0"/>
<path stroke="#764ed0" d="M350.7 134.5h0M341.1 129.7h0M366.5 126.0h0M341.8 138.6h0M357.7 135.8h0M352.7 137.4h0M342.4 140.4h0M395.2 137.4h0M364.8 124.2h0M383.5 145.8h0M367.9 124.9h0M356.5 136.0h0"/>
<path stroke="#c70098" d="M367.6 135.8h0M396.1 138.9h0M385.1 135.7h0M383.4 138.7h0M370.0 144.0h0M389.6 138.5h0M345.7 148.1h0"/>
<path stroke="#ff0051" d="M362.6 128.8h0M370.9 144.9h0M369.7 142.7h0M349.3 142.9h0M369.5 128.1h0M369.5 138.8h0M369.6 135.9h0M373.1 140.2h0M368.0 145.3h0"/>
<path stroke="#e7007e" d="M361.0 132.1h0M367.9 151.2h0M386.8 133.0h0M366.5 146.2h0M383.4 132.9h0M372.9 134.6h0M373.0 128.2h0"/>
<path stroke="#0076f1" d="M347.1 131.5h0M383.3 142.9h0M366.2 140.3h0M334.0 134.0h0M374.8 145.4h0M345.4 141.0h0M365.8 130.2h0"/>
<path stroke="#306ae9" d="M362.5 137.3h0M359.4 131.6h0"/>
<path stroke="#9d22ac" d="M342.0 132.8h0M364.2 135.9h0M380.0 143.5h0M347.5 138.5h0M364.8 138.7h0M391.6 135.7h0M400.3 134.2h0M344.2 135.6h0"/>
<path stroke="#b30aa3" d="M342.3 137.4h0M395.0 133.6h0M357.8 144.2h0M351.0 140.1h0M376.2 131.5h0M364.6 143.7h0M347.3 137.4h0M366.5 127.2h0M368.1 131.8h0M350.3 142.9h0M349.2 131.4h0"/>
<path stroke="#5b5ddd" d="M335.5 132.4h0M339.1 138.4h0M345.8 142.9h0"/>
<path stroke="#fc0061" d="M378.5 133.0h0M378.1 131.4h0M364.8 126.5h0M347.4 130.3h0"/>
<path stroke="#c70098" d="M400.1 137.0h0M373.2 146.6h0M370.0 137.2h0M379.3 129.5h0M361.4 129.5h0M352.0 141.5h0M396.9 137.4h0M349.3 138.8h0M359.3 140.1h0M381.8 131.5h0M379.5 138.9h0"/>
<path stroke="#8a3cc0" d="M350.5 138.9h0M352.3 133.1h0M369.4 134.6h0M354.7 128.9h0M344.6 131.1h0"/>
<path stroke="#b30aa3" d="M389.8 134.2h0M349.1 141.8h0M352.9 143.3h0M367.5 120.8h0M362.8 127.9h0M356.0 139.8h0M357.7 149.9h0M345.7 133.4h0"/>
<path stroke="#764ed0" d="M369.5 123.8h0M354.8 127.6h0M374.4 130.5h0M370.1 130.2h0"/>
<path stroke="#9d22ac" d="M351.0 130.2h0M366.1 131.6h0M355.9 137.3h0M355.5 145.0h0M370.8 121.7h0M381.2 128.4h0M367.3 142.8h0"/>
<path stroke="#ff0051" d="M394.9 141.1h0M381.8 137.4h0M368.1 127.7h0M369.7 131.9h0M373.5 133.1h0M357.7 131.8h0M392.2 133.9h0"/>
<path stroke="#e7007e" d="M381.4 142.0h0M404.9 137.1h0M393.3 134.4h0"/>
<path stroke="#fc0061" d="M378.1 129.7h0M371.5 138.6h0M384.9 143.7h0M364.0 127.6h0"/>
<path stroke="#d9008c" d="M407.2 137.1h0M383.2 141.7h0M352.7 131.2h0M383.1 140.1h0M401.4 139.8h0M371.0 128.2h0M395.1 135.5h0M403.8 137.2h0M378.0 146.3h0M405.7 138.7h0"/>
<path stroke="#008bfb" d="M359.8 133.1h0M274.1 137.0h0M273.0 137.4h0M366.6 147.6h0M302.8 137.0h0M294.6 135.5h0M354.1 140.1h0M320.4 138.7h0M322.3 137.3h0M345.6 140.1h0M289.4 135.4h0M347.6 134.3h0M303.7 134.8h0M335.3 137.3h0M318.8 141.6h0M328.7 140.2h0M298.3 138.7h0M362.9 134.6h0M366.0 144.4h0M327.5 141.0h0M293.1 137.4h0M281.2 137.2h0M294.5 137.0h0M313.5 137.1h0M283.1 137.2h0M282.3 138.9h0M325.6 133.2h0M349.2 137.1h0M332.0 134.3h0M362.6 133.1h0M289.8 137.2h0M318.4 140.1h0M379.7 142.2h0M316.7 138.9h0M286.3 139.1h0M314.9 135.9h0M328.5 133.0h0M368.1 122.0h0M287.7 136.0h0M362.5 148.0h0M337.2 140.0h0M320.7 134.8h0"/>
<path stroke="#5b5ddd" d="M393.6 138.9h0M333.5 140.7h0M372.9 138.5h0M372.9 142.3h0M383.3 136.1h0M344.3 134.2h0M340.7 141.6h0"/>
<path stroke="#306ae9" d="M366.4 138.6h0M386.3 131.7h0M357.4 142.5h0M374.7 129.4h0M376.3 128.9h0M371.3 143.5h0"/>
<path stroke="#0076f1" d="M342.7 134.6h0M334.0 137.1h0M366.3 128.9h0M327.0 139.3h0M330.6 142.8h0M349.7 134.5h0M368.1 138.7h0M361.1 144.1h0"/>
<path stroke="#f30070" d="M359.7 145.6h0M371.2 142.7h0M369.8 146.9h0M361.1 138.8h0M393.2 135.8h0M367.6 144.0h0M355.9 143.6h0M388.4 132.9h0M386.6 141.6h0M384.9 130.9h0"/>
<path stroke="#0081f7" d="M327.3 133.4h0M337.6 133.1h0M359.5 128.8h0M364.6 133.4h0"/>
<path stroke="#c70098" d="M353.3 182.8h0M373.9 184.4h0M360.7 189.7h0M360.6 180.3h0M341.4 181.6h0M353.3 166.7h0M324.4 182.0h0M351.6 185.5h0"/>
<path stroke="#ff0051" d="M377.1 180.2h0M385.5 180.2h0M377.5 189.9h0M369.0 171.8h0M337.1 177.7h0M356.3 171.2h0M379.0 182.9h0M392.8 178.6h0M390.7 180.3h0M388.9 181.6h0M356.4 186.7h0M363.3 192.1h0M370.4 186.2h0M367.3 169.1h0M370.4 175.6h0M343.4 177.7h0M395.6 181.9h0M397.7 177.8h0M354.8 182.8h0M398.9 178.2h0M382.3 174.6h0M378.9 177.4h0M351.6 168.0h0M432.6 180.2h0M343.2 169.6h0M414.1 180.1h0M353.4 181.8h0M370.3 174.5h0M353.6 173.6h0M360.0 178.7h0M353.2 189.4h0M339.6 170.5h0M372.3 173.5h0M374.1 181.6h0M357.0 190.4h0"/>
<path stroke="#f30070" d="M355.1 173.6h0M358.1 175.0h0M375.3 180.3h0M356.5 182.7h0M377.2 172.0h0M326.2 181.5h0M375.4 174.2h0M365.0 180.5h0M364.0 172.2h0M377.3 174.7h0M366.9 177.4h0M363.6 182.9h0M378.7 180.4h0M376.7 182.9h0M370.6 189.0h0M343.6 174.9h0"/>
<path stroke="#e7007e" d="M362.2 191.2h0M358.3 180.3h0M346.5 190.9h0M366.9 183.1h0M365.6 188.4h0M361.9 184.4h0M375.7 177.2h0M334.9 185.8h0M383.6 184.5h0M367.3 166.4h0M353.7 185.4h0M382.6 178.7h0M351.6 188.4h0M331.3 186.9h0"/>
<path stroke="#8a3cc0" d="M339.7 173.5h0M331.6 179.0h0"/>
<path stroke="#0076f1" d="M341.6 190.8h0M342.9 189.7h0"/>
<path stroke="#5b5ddd" d="M350.2 186.0h0M316.1 182.8h0M311.3 177.7h0"/>
<path stroke="#0081f7" d="M336.4 181.6h0M327.9 187.4h0M299.3 180.2h0M304.3 181.6h0M306.3 182.3h0"/>
<path stroke="#9d22ac" d="M330.0 174.5h0M336.6 173.3h0M347.3 179.3h0M345.2 184.7h0M356.7 173.6h0M333.0 190.6h0M355.3 189.8h0"/>
<path stroke="#008bfb" d="M346.5 186.0h0M287.2 181.6h0M279.3 180.0h0M336.3 178.7h0M294.2 182.0h0M287.8 180.3h0"/>
<path stroke="#306ae9" d="M311.0 182.9h0M328.0 181.8h0"/>
<path stroke="#fc0061" d="M385.7 181.6h0M383.4 180.4h0M387.7 183.5h0M373.9 170.6h0M361.6 170.8h0M394.4 182.7h0M363.6 173.4h0M377.2 187.1h0M374.8 184.6h0M390.6 177.2h0M358.6 166.9h0M360.3 190.9h0M358.8 165.7h0M393.9 180.2h0M392.6 180.3h0M353.2 176.4h0M343.5 186.9h0"/>
<path stroke="#764ed0" d="M324.4 178.4h0M341.5 177.6h0M328.1 183.0h0M334.6 181.6h0M326.6 175.7h0M348.8 171.8h0"/>
<path stroke="#b30aa3" d="M353.1 172.4h0M323.3 180.2h0M360.5 172.2h0M336.8 190.0h0M363.5 181.5h0M353.6 192.2h0M367.0 180.3h0M351.6 176.0h0M360.2 169.2h0M337.9 181.9h0"/>
<path stroke="#d9008c" d="M348.3 177.5h0M358.6 173.9h0M345.1 187.2h0M353.2 186.9h0M363.5 176.3h0M355.4 177.4h0M334.7 184.4h0M349.9 189.0h0M376.7 184.6h0M335.1 188.5h0M339.9 188.6h0M323.3 181.7h0M338.4 177.2h0"/>
<path stroke="#ff0051" d="M387.0 181.9h0M402.9 178.3h0M417.4 180.3h0M365.6 190.9h0M320.0 181.9h0M358.4 181.4h0M385.4 178.6h0M363.6 174.9h0M363.8 177.5h0M359.7 177.4h0M378.9 184.6h0M394.0 177.7h0M374.0 174.8h0M382.0 182.9h0M390.6 181.7h0M377.4 170.6h0M402.5 181.4h0M392.2 183.8h0M355.0 170.9h0M389.1 176.4h0M364.9 176.3h0M377.1 169.5h0"/>
<path stroke="#d9008c" d="M368.6 184.4h0M363.8 169.5h0M375.7 187.7h0M353.7 188.4h0M357.2 172.5h0M373.7 179.0h0M353.3 191.1h0M345.2 174.7h0M375.4 172.9h0M361.9 177.2h0"/>
<path stroke="#5b5ddd" d="M336.6 182.9h0M326.0 183.5h0M336.8 180.3h0M343.3 182.7h0M329.5 175.9h0M326.2 185.0h0"/>
<path stroke="#b30aa3" d="M353.3 169.5h0M346.3 177.6h0M360.3 168.1h0M319.9 183.2h0M340.1 183.0h0M341.6 180.4h0M355.8 176.0h0"/>
<path stroke="#f30070" d="M338.2 174.3h0M380.5 184.4h0M368.7 181.7h0M374.2 182.9h0M358.7 185.5h0M347.0 184.5h0M365.1 192.3h0M368.9 170.6h0M366.4 185.8h0M363.2 186.8h0M329.8 180.2h0M355.0 172.2h0M353.3 178.8h0M380.6 178.5h0M386.3 177.0h0M367.2 181.8h0M399.4 180.2h0M382.1 177.6h0M355.2 174.8h0"/>
<path stroke="#764ed0" d="M338.1 189.2h0M321.4 182.1h0M350.5 168.7h0M348.5 170.6h0M324.7 180.3h0M326.4 180.1h0M338.0 184.7h0"/>
<path stroke="#0081f7" d="M328.1 175.8h0M302.6 180.4h0"/>
<path stroke="#008bfb" d="M283.8 180.2h0M270.4 180.1h0M282.5 180.1h0M274.2 180.5h0M289.1 180.4h0M293.8 180.1h0M300.5 182.5h0M297.7 180.3h0M341.4 171.0h0"/>
<path stroke="#8a3cc0" d="M362.1 180.1h0M336.4 172.1h0M329.7 188.8h0M340.2 175.7h0M331.2 185.7h0M351.8 181.7h0M311.4 180.2h0M315.8 181.4h0M350.1 187.5h0"/>
<path stroke="#e7007e" d="M372.2 187.4h0M345.2 188.6h0M360.4 182.9h0M371.9 179.8h0M380.6 177.4h0M361.8 188.5h0M349.9 184.9h0M333.2 177.4h0M333.0 169.7h0M370.3 169.9h0M363.4 178.8h0M350.0 183.0h0M343.1 171.9h0M358.6 170.7h0"/>
<path stroke="#c70098" d="M334.9 173.4h0M365.9 174.9h0M341.9 172.6h0M332.8 178.8h0M331.7 181.7h0M377.1 191.2h0M343.5 185.7h0"/>
<path stroke="#9d22ac" d="M331.4 174.5h0M350.1 193.3h0M329.7 185.7h0M338.4 186.4h0M358.8 188.2h0M335.2 176.0h0M329.3 177.4h0M331.6 184.1h0"/>
<path stroke="#306ae9" d="M333.4 174.3h0M326.2 174.3h0M334.9 182.8h0M316.7 177.7h0M340.1 187.0h0M319.9 178.6h0M326.0 178.8h0"/>
<path stroke="#0076f1" d="M305.9 177.8h0M320.7 183.9h0M333.2 180.2h0M345.0 185.8h0"/>
<path stroke="#fc0061" d="M386.1 184.9h0M350.3 176.0h0M363.2 170.9h0M371.8 170.5h0M351.8 177.7h0M373.7 176.0h0M324.1 175.1h0M383.4 178.7h0M385.6 174.5h0M356.7 185.4h0M396.0 183.1h0M368.6 189.9h0M341.7 178.6h0M382.4 176.0h0M366.9 184.4h0"/>
<path stroke="#5b5ddd" d="M318.2 180.3h0M354.7 179.2h0"/>
<path stroke="#9d22ac" d="M331.2 177.7h0M343.2 168.1h0M362.5 167.8h0M341.9 188.2h0M345.3 178.8h0M316.2 178.9h0M340.1 184.4h0M338.2 171.3h0M331.3 172.0h0M361.6 173.7h0"/>
<path stroke="#f30070" d="M349.6 177.2h0M346.7 173.5h0M361.8 192.8h0M342.0 175.1h0M369.9 190.4h0M367.3 191.2h0M380.3 180.2h0M368.4 187.2h0M363.8 167.0h0M374.2 185.7h0M351.3 169.3h0M337.9 183.1h0M377.5 173.3h0M359.1 193.5h0M381.1 181.4h0M346.4 180.5h0M380.8 183.0h0M361.9 174.9h0"/>
<path stroke="#e7007e" d="M350.2 170.1h0M341.6 192.1h0M343.3 176.1h0M345.0 181.6h0M358.2 176.1h0M324.8 185.0h0M372.1 178.6h0M350.2 181.9h0M368.8 188.5h0M358.5 184.2h0M336.8 170.6h0M367.5 178.8h0M374.9 189.0h0M368.6 180.5h0M360.2 184.4h0"/>
<path stroke="#ff0051" d="M349.9 171.6h0M365.6 170.9h0M365.4 172.3h0M366.7 195.5h0M355.2 186.0h0M368.5 178.6h0M391.6 181.9h0M390.8 183.5h0M354.7 184.2h0M372.2 184.3h0M341.4 184.5h0M348.5 180.3h0M353.0 168.4h0M358.4 182.9h0M353.6 184.4h0M365.7 184.5h0M397.4 180.2h0M388.8 184.2h0M380.4 188.7h0M356.8 179.9h0M365.2 166.7h0M370.7 178.8h0M378.4 186.1h0M348.4 188.5h0"/>
<path stroke="#c70098" d="M346.4 172.2h0M318.0 182.3h0M328.0 184.6h0M358.8 194.7h0M356.6 188.1h0M314.7 182.3h0M355.3 187.0h0M340.0 180.2h0M356.9 179.0h0M316.0 180.1h0M361.9 179.0h0M363.8 168.3h0M322.9 178.8h0"/>
<path stroke="#d9008c" d="M365.5 185.4h0M370.5 177.5h0M334.6 180.3h0M373.9 172.0h0M375.5 175.7h0M363.5 187.9h0M365.6 169.5h0M362.3 169.3h0M360.4 176.2h0M359.9 192.4h0M329.9 181.5h0"/>
<path stroke="#306ae9" d="M328.1 173.0h0M335.1 191.6h0"/>
<path stroke="#764ed0" d="M343.7 190.8h0"/>
<path stroke="#0076f1" d="M309.4 182.9h0M356.6 189.5h0M304.4 182.9h0M307.9 178.8h0M343.5 173.6h0M335.6 190.3h0M307.9 180.3h0M335.0 187.2h0"/>
<path stroke="#8a3cc0" d="M338.2 178.6h0M326.5 186.4h0M341.5 182.8h0M340.6 174.8h0M321.7 180.1h0M338.1 172.6h0"/>
<path stroke="#b30aa3" d="M329.5 187.3h0M347.2 187.1h0M348.4 175.8h0"/>
<path stroke="#fc0061" d="M379.0 178.8h0M372.1 177.2h0M389.0 177.7h0M373.6 188.7h0M377.4 176.1h0M371.8 183.1h0M373.6 191.2h0M368.3 174.6h0M375.5 169.8h0M349.8 190.1h0M400.8 180.1h0M343.1 184.4h0M400.6 182.0h0M384.3 177.4h0M356.9 168.5h0M366.6 193.9h0M374.0 186.8h0M387.3 180.1h0M358.6 172.1h0M380.4 173.1h0"/>
<path stroke="#008bfb" d="M297.7 178.1h0M301.4 178.1h0M336.7 185.6h0M299.2 178.0h0M318.0 178.5h0M340.0 177.3h0M294.0 178.7h0M272.1 180.5h0M321.3 176.6h0M304.2 180.2h0"/>
<path stroke="#0081f7" d="M304.7 179.0h0M295.9 178.2h0M307.7 182.9h0"/>
<path stroke="#fc0061" d="M377.3 188.6h0M383.6 181.5h0M388.9 178.8h0M345.0 173.4h0M348.5 169.3h0M380.8 176.1h0M382.2 184.3h0M350.1 167.3h0M390.9 178.6h0M395.8 180.6h0M340.1 185.6h0M365.4 168.2h0M371.8 174.4h0M371.7 188.6h0M359.0 169.5h0M372.0 176.0h0M401.0 178.7h0"/>
<path stroke="#d9008c" d="M373.5 190.0h0M347.9 183.4h0M374.8 186.0h0M323.5 183.0h0M364.9 193.5h0M370.1 182.9h0M356.6 184.2h0M333.1 172.9h0M339.5 178.7h0M341.7 176.4h0M314.6 178.1h0M366.7 167.8h0M367.4 170.7h0"/>
<path stroke="#764ed0" d="M362.2 181.7h0M345.0 171.9h0M340.0 190.0h0M328.5 178.8h0"/>
<path stroke="#5b5ddd" d="M326.2 177.1h0"/>
<path stroke="#9d22ac" d="M335.1 179.0h0M354.8 169.3h0M358.5 178.7h0M353.4 180.4h0M351.8 170.8h0M357.2 181.6h0M312.7 182.6h0"/>
<path stroke="#8a3cc0" d="M370.6 182.0h0M336.7 176.2h0M366.7 188.9h0M328.4 180.5h0M338.6 187.5h0M348.8 189.8h0M348.3 191.4h0M338.0 175.9h0"/>
<path stroke="#0081f7" d="M309.3 180.1h0M309.2 178.0h0"/>
<path stroke="#ff0051" d="M351.8 183.0h0M354.9 168.1h0M368.7 176.2h0M392.3 176.9h0M387.6 175.3h0M358.5 186.7h0M352.2 190.1h0M346.6 174.9h0M371.8 190.1h0M366.8 173.2h0M350.3 191.8h0M408.7 180.3h0M367.2 171.6h0M382.6 181.6h0M355.3 180.3h0M356.1 176.3h0M361.9 176.2h0M366.8 165.0h0M378.8 181.9h0M406.0 180.0h0M375.5 178.7h0M377.0 185.7h0M416.3 180.2h0M387.4 185.3h0M388.8 180.1h0M365.6 186.9h0M395.4 178.6h0M397.2 182.5h0M334.5 168.8h0M380.6 185.8h0M419.3 180.1h0M384.0 175.9h0M410.8 180.3h0"/>
<path stroke="#306ae9" d="M333.3 186.2h0"/>
<path stroke="#e7007e" d="M383.7 186.4h0M371.8 185.9h0M363.8 189.5h0M363.7 184.4h0M372.3 171.6h0M363.7 190.9h0M360.0 174.6h0M347.0 182.8h0M360.1 170.7h0M370.2 187.7h0M379.1 171.3h0M358.7 177.6h0M368.4 173.3h0M349.9 173.0h0"/>
<path stroke="#f30070" d="M362.1 172.0h0M382.3 180.2h0M366.8 190.1h0M380.6 174.3h0M368.6 183.3h0M378.9 189.0h0M323.2 177.4h0M379.4 175.8h0M334.8 174.7h0M365.7 177.6h0M373.6 177.6h0M375.8 183.0h0M344.5 182.8h0M358.7 190.6h0M351.8 184.3h0"/>
<path stroke="#008bfb" d="M293.0 182.3h0M286.1 180.3h0M302.7 182.6h0M290.7 178.6h0M303.8 177.7h0M287.2 178.9h0M341.5 168.4h0M333.3 187.8h0M352.3 192.6h0M292.7 180.3h0M300.8 180.1h0M333.4 175.8h0M290.9 181.8h0M275.5 180.2h0M276.8 180.3h0M292.6 178.0h0M328.1 174.6h0"/>
<path stroke="#c70098" d="M320.9 178.4h0M356.9 169.6h0M343.0 170.9h0M345.4 180.1h0M329.7 173.1h0M343.4 180.3h0M348.7 173.0h0M358.9 168.4h0M353.6 193.5h0M351.5 179.1h0"/>
<path stroke="#b30aa3" d="M324.9 183.8h0M333.4 181.9h0M336.1 186.9h0M351.6 187.1h0"/>
<path stroke="#e7007e" d="M366.8 187.2h0M368.6 177.6h0M384.0 183.1h0M378.9 174.5h0M355.2 188.1h0M368.6 185.8h0M375.4 171.4h0M343.3 188.5h0M353.6 177.5h0M327.8 186.1h0M373.4 173.4h0M351.9 174.7h0"/>
<path stroke="#f30070" d="M365.4 173.7h0M351.5 172.3h0M363.4 180.4h0M380.3 187.5h0M346.5 181.6h0M353.7 174.8h0M360.1 166.6h0M375.6 190.6h0M373.9 180.3h0M319.9 180.2h0M361.5 186.0h0M356.8 192.3h0"/>
<path stroke="#ff0051" d="M351.6 173.3h0M365.2 189.8h0M363.7 185.3h0M361.9 183.0h0M377.0 181.8h0M403.9 180.0h0M370.5 184.7h0M360.2 173.6h0M365.4 178.9h0M377.1 177.3h0M355.0 190.9h0M395.4 177.0h0M377.2 178.9h0M385.3 175.7h0M336.4 184.1h0M346.8 171.1h0M402.6 180.0h0M341.6 173.7h0M357.1 178.0h0M375.3 181.8h0M350.4 178.9h0M341.6 185.4h0M373.7 169.2h0M370.1 171.7h0M389.1 182.5h0M412.7 180.3h0M378.7 172.8h0M379.0 187.5h0M407.5 180.1h0"/>
<path stroke="#0076f1" d="M307.8 177.6h0"/>
<path stroke="#008bfb" d="M343.2 192.4h0M349.9 174.3h0M289.4 181.7h0M346.5 169.5h0M289.3 178.8h0M341.8 189.4h0M296.1 180.2h0M280.8 180.4h0M295.9 182.0h0M291.1 180.2h0M299.5 182.4h0M307.5 181.6h0M297.3 182.0h0"/>
<path stroke="#b30aa3" d="M363.0 193.1h0M348.5 178.7h0M314.4 180.1h0M333.2 184.7h0M329.9 183.1h0M345.2 177.4h0M343.6 178.8h0M355.0 181.3h0M348.6 187.1h0M344.9 176.1h0"/>
<path stroke="#8a3cc0" d="M332.6 183.3h0M358.6 189.5h0M334.7 177.4h0M324.7 176.9h0M350.3 180.0h0M351.4 180.3h0M331.2 180.3h0M346.5 189.7h0"/>
<path stroke="#fc0061" d="M383.3 174.1h0M382.0 185.6h0M387.2 176.9h0M385.7 183.3h0M370.0 180.1h0M398.9 182.6h0M367.2 174.6h0M360.1 185.4h0M385.5 186.3h0M367.3 175.9h0M359.9 188.5h0M360.3 193.8h0M380.6 171.7h0M387.6 178.8h0"/>
<path stroke="#d9008c" d="M336.9 188.5h0M355.1 192.5h0M348.6 185.9h0M357.0 175.2h0M327.9 177.3h0M365.2 183.0h0M360.2 186.9h0M338.6 180.3h0M361.9 187.3h0M370.4 172.7h0"/>
<path stroke="#5b5ddd" d="M313.4 180.0h0M330.1 178.8h0M333.1 171.5h0M329.7 171.9h0M330.9 188.3h0"/>
<path stroke="#0081f7" d="M303.1 178.8h0M306.2 180.1h0M352.2 191.4h0M302.2 181.7h0M346.4 176.2h0M303.3 177.5h0"/>
<path stroke="#c70098" d="M340.0 172.1h0M341.8 169.6h0M365.2 181.7h0M343.2 181.4h0M361.9 190.1h0M372.1 181.8h0M348.4 174.4h0M331.7 173.5h0M366.7 192.7h0M341.6 187.1h0M360.1 181.7h0"/>
<path stroke="#764ed0" d="M336.9 175.0h0M334.9 171.8h0M313.1 177.8h0M359.0 192.1h0"/>
<path stroke="#9d22ac" d="M353.2 170.9h0M348.6 181.5h0M331.5 182.9h0M331.4 176.0h0M330.0 184.7h0M332.8 188.9h0"/>
<path stroke="#306ae9" d="M319.3 177.2h0M348.9 184.3h0M339.4 181.6h0M346.5 188.3h0M334.9 170.5h0"/>
<path stroke="#764ed0" d="M370.6 221.9h0M382.4 215.6h0M379.0 210.3h0"/>
<path stroke="#0076f1" d="M393.9 223.2h0M343.1 217.5h0M327.4 212.7h0M354.9 220.4h0M350.3 213.7h0M327.3 223.4h0"/>
<path stroke="#0081f7" d="M355.0 226.1h0M378.7 236.2h0M361.8 209.8h0M338.0 217.2h0M325.9 227.3h0M356.9 223.2h0M327.9 229.9h0M333.0 220.7h0M368.7 217.5h0M390.8 220.4h0M336.7 223.0h0M352.2 233.1h0M379.2 231.8h0M378.9 224.5h0"/>
<path stroke="#9d22ac" d="M357.5 234.6h0M346.6 224.4h0M370.4 218.9h0M360.1 212.9h0M339.9 217.6h0M350.2 217.7h0"/>
<path stroke="#f30070" d="M346.3 227.4h0M363.6 224.8h0"/>
<path stroke="#5b5ddd" d="M346.7 217.7h0M382.2 223.1h0M360.4 220.5h0M387.6 217.8h0M328.0 216.8h0M352.1 231.8h0M348.6 224.6h0"/>
<path stroke="#008bfb" d="M333.2 219.1h0M311.0 227.9h0M319.5 214.9h0M302.3 221.8h0M326.6 228.7h0M324.3 221.7h0M368.9 220.1h0M365.7 225.7h0M340.2 227.6h0M377.7 223.3h0M319.6 226.0h0M320.7 227.5h0M312.6 220.4h0M307.4 221.8h0M369.0 228.7h0M315.6 224.7h0M362.0 219.1h0M326.5 232.4h0M379.2 226.1h0M363.9 219.1h0M355.5 214.4h0M392.6 224.6h0M386.1 221.4h0M321.1 221.8h0M421.5 223.2h0M337.9 230.5h0M317.6 218.3h0M389.2 227.8h0M312.4 223.1h0M341.8 220.4h0M306.1 223.0h0M355.4 229.0h0M312.6 227.2h0M326.2 230.0h0M319.3 216.6h0M365.4 213.5h0M363.7 212.3h0M331.4 216.3h0M380.4 217.7h0M339.9 221.6h0M373.7 221.8h0M319.1 221.8h0M370.3 228.8h0M312.7 218.9h0M351.9 220.5h0M369.9 217.4h0M373.7 218.9h0M322.3 219.0h0M329.6 217.8h0M325.9 213.8h0M327.5 232.2h0M321.1 233.2h0M339.6 218.8h0M334.7 221.7h0M326.1 215.2h0"/>
<path stroke="#306ae9" d="M336.7 220.2h0M359.9 217.3h0M345.1 227.4h0M396.1 221.4h0M367.1 213.2h0"/>
<path stroke="#ff0051" d="M353.3 225.8h0M384.3 231.4h0M363.5 223.2h0M369.1 224.3h0M339.6 230.3h0M345.3 224.6h0M378.9 234.3h0M358.5 228.4h0M356.8 235.9h0M372.0 233.2h0M370.5 227.4h0M380.3 221.7h0"/>
<path stroke="#c70098" d="M382.5 225.9h0M372.4 217.5h0M350.3 228.3h0"/>
<path stroke="#b30aa3" d="M391.1 226.0h0M373.4 217.5h0M378.5 219.0h0M361.7 232.5h0M355.1 212.6h0M358.4 226.1h0M375.4 217.8h0"/>
<path stroke="#8a3cc0" d="M370.8 212.9h0M377.2 224.6h0M373.8 224.5h0M385.5 228.1h0M381.0 223.1h0M333.2 223.1h0M348.7 227.2h0M353.8 217.4h0"/>
<path stroke="#d9008c" d="M384.1 216.5h0M392.5 222.9h0M375.9 227.3h0M352.0 227.4h0M331.1 224.3h0M376.0 211.9h0"/>
<path stroke="#e7007e" d="M380.4 216.2h0M343.2 227.4h0M365.2 231.5h0"/>
<path stroke="#fc0061" d="M381.9 230.6h0M354.9 223.0h0M374.0 231.6h0"/>
<path stroke="#8a3cc0" d="M368.6 231.6h0M343.2 218.8h0M363.4 231.2h0M353.5 221.5h0M348.4 228.4h0M332.9 228.6h0M382.6 232.1h0"/>
<path stroke="#ff0051" d="M361.9 228.4h0M340.8 219.1h0M346.5 223.3h0M375.6 232.9h0M377.2 230.4h0M371.7 234.4h0M365.3 214.8h0"/>
<path stroke="#e7007e" d="M384.3 229.9h0M335.0 215.9h0"/>
<path stroke="#0076f1" d="M344.9 220.4h0M379.2 220.5h0M365.8 235.3h0M336.5 218.9h0"/>
<path stroke="#0081f7" d="M353.2 228.9h0M346.9 229.8h0M370.4 233.1h0M343.7 224.7h0M348.4 216.7h0M389.2 219.9h0M353.5 215.9h0M343.2 228.8h0M361.9 211.1h0"/>
<path stroke="#c70098" d="M370.4 210.2h0M363.6 214.0h0M370.8 223.1h0M361.6 217.9h0"/>
<path stroke="#9d22ac" d="M372.4 218.9h0M360.2 214.6h0M360.3 224.7h0"/>
<path stroke="#008bfb" d="M316.1 222.0h0M324.2 216.2h0M327.4 225.8h0M311.0 220.1h0M331.5 228.4h0M313.9 220.3h0M307.5 220.3h0M324.6 220.4h0M372.4 236.1h0M356.6 228.5h0M314.2 227.4h0M319.8 220.4h0M309.2 225.7h0M304.1 223.2h0M336.4 221.6h0M312.2 224.5h0M365.3 228.7h0M378.7 217.3h0M351.8 222.0h0M334.3 227.3h0M316.2 217.4h0M295.9 223.0h0M321.0 224.5h0M365.9 223.1h0M307.5 227.0h0M325.7 220.6h0M381.0 220.3h0M350.0 216.5h0M323.0 217.5h0M314.2 223.1h0M324.5 231.7h0M367.2 221.8h0M339.7 223.2h0M356.8 217.4h0M353.8 213.4h0M321.0 220.2h0M362.4 234.0h0M299.1 223.1h0M387.3 222.7h0M319.7 223.2h0M323.1 227.5h0M302.7 222.9h0M382.3 224.6h0M310.8 226.5h0M381.2 232.6h0M319.6 217.6h0M321.5 228.7h0M318.1 229.7h0M289.5 223.2h0M322.9 220.4h0M380.6 231.4h0M354.8 224.5h0M319.6 229.9h0M305.4 225.8h0M309.2 220.5h0M308.6 227.3h0M356.4 220.3h0M377.1 225.9h0M382.5 229.1h0M333.1 224.6h0M316.2 218.8h0"/>
<path stroke="#b30aa3" d="M381.1 224.3h0M357.4 225.9h0M345.1 225.7h0M355.8 218.8h0M349.6 224.9h0M380.1 229.9h0M374.1 227.5h0M351.7 230.3h0M345.3 230.0h0M363.8 215.2h0"/>
<path stroke="#fc0061" d="M343.5 230.1h0M377.1 217.5h0"/>
<path stroke="#764ed0" d="M392.1 221.7h0M359.0 217.8h0M376.8 220.0h0M348.8 220.5h0"/>
<path stroke="#f30070" d="M377.2 233.0h0M372.5 222.9h0M360.1 230.4h0M375.5 224.6h0M365.5 219.3h0"/>
<path stroke="#306ae9" d="M375.7 219.0h0M348.4 221.9h0M373.8 236.0h0M372.3 210.2h0M367.0 227.8h0M362.0 225.8h0M354.6 215.9h0M380.5 219.1h0M343.1 223.1h0M343.5 220.4h0M330.1 229.6h0M341.3 224.3h0M368.8 230.2h0M386.2 224.9h0"/>
<path stroke="#5b5ddd" d="M367.2 214.6h0M341.7 222.0h0M340.2 224.9h0M361.5 227.1h0M357.3 227.5h0M346.9 216.5h0"/>
<path stroke="#d9008c" d="M371.9 215.8h0"/>
<path stroke="#9d22ac" d="M341.7 227.2h0M375.7 231.7h0M353.3 220.5h0M362.0 216.4h0M377.4 214.8h0M383.8 219.4h0M339.5 226.1h0"/>
<path stroke="#764ed0" d="M354.9 233.3h0M351.6 214.6h0M380.9 215.0h0M355.2 227.7h0M376.0 223.1h0M343.1 216.0h0M338.2 226.2h0M385.3 223.1h0"/>
<path stroke="#306ae9" d="M377.2 221.7h0M387.2 224.4h0M370.6 214.7h0M331.4 231.4h0M365.1 227.1h0M375.8 221.7h0"/>
<path stroke="#0081f7" d="M379.1 214.5h0M353.5 214.6h0M331.3 223.0h0M380.5 227.3h0M326.3 231.4h0M326.1 221.6h0M329.6 221.6h0M394.4 221.0h0M340.3 220.3h0M375.6 230.0h0M350.1 229.7h0M397.8 221.3h0"/>
<path stroke="#5b5ddd" d="M365.8 216.3h0M389.0 226.3h0M349.9 227.2h0M365.2 233.9h0M361.8 223.3h0M329.7 228.5h0"/>
<path stroke="#8a3cc0" d="M382.3 220.1h0M360.1 211.7h0M373.5 233.2h0M375.6 234.2h0M358.9 227.4h0M349.7 225.7h0M375.8 235.7h0"/>
<path stroke="#0076f1" d="M378.7 221.7h0M372.1 231.5h0M329.4 214.0h0M364.0 220.6h0M394.3 225.4h0M390.4 223.4h0M346.1 220.5h0"/>
<path stroke="#d9008c" d="M348.5 214.3h0M355.1 230.2h0M335.2 229.0h0M365.5 210.9h0M367.5 223.0h0"/>
<path stroke="#c70098" d="M382.6 227.5h0M367.0 235.9h0M356.1 214.6h0M372.1 226.0h0"/>
<path stroke="#ff0051" d="M354.8 217.3h0M351.6 224.4h0M348.6 225.7h0M358.7 216.0h0M344.8 228.7h0M370.4 231.9h0M348.1 232.5h0M358.8 231.6h0"/>
<path stroke="#fc0061" d="M375.8 220.4h0"/>
<path stroke="#b30aa3" d="M372.4 222.0h0M358.4 223.2h0M357.0 213.3h0M344.4 216.1h0M356.9 219.1h0M372.2 224.5h0M371.9 220.3h0"/>
<path stroke="#f30070" d="M363.4 232.4h0M357.1 211.8h0M360.0 223.2h0"/>
<path stroke="#008bfb" d="M316.2 226.0h0M355.1 235.0h0M329.6 231.4h0M324.7 227.4h0M328.4 233.9h0M324.3 224.5h0M321.2 226.0h0M316.1 229.0h0M324.4 218.7h0M307.1 226.1h0M373.6 216.2h0M321.0 218.9h0M314.3 221.6h0M315.9 220.2h0M326.4 217.9h0M348.2 217.8h0M387.6 221.8h0M392.4 226.8h0M309.1 223.1h0M390.7 221.9h0M329.5 220.5h0M322.9 223.3h0M309.3 221.7h0M324.6 223.3h0M384.1 220.5h0M329.3 216.7h0M336.5 228.7h0M326.1 219.2h0M338.1 221.4h0M362.1 220.1h0M311.1 223.0h0M357.1 215.8h0M329.6 223.3h0M375.5 213.3h0M314.3 228.8h0M322.8 216.5h0M307.8 223.0h0M311.2 224.9h0M307.6 224.7h0M367.2 220.1h0M363.7 225.9h0M326.2 224.3h0M317.2 224.7h0M346.6 219.0h0M378.4 216.2h0M321.1 217.2h0M367.1 234.4h0M338.2 227.9h0M317.9 221.3h0M375.7 226.0h0M411.0 223.2h0M334.5 230.3h0"/>
<path stroke="#e7007e" d="M368.3 213.2h0M366.7 210.5h0M345.2 222.9h0M383.7 224.9h0M382.0 214.3h0M358.2 220.3h0"/>
<path stroke="#8a3cc0" d="M366.8 233.2h0M366.8 230.0h0M362.0 236.5h0M387.7 227.2h0M384.5 223.3h0M358.5 215.0h0M382.1 219.0h0M365.4 217.8h0M350.5 232.5h0M338.6 223.0h0"/>
<path stroke="#d9008c" d="M341.6 223.1h0M359.6 231.6h0M392.7 219.7h0M331.5 229.8h0M352.0 213.4h0M351.7 218.8h0"/>
<path stroke="#306ae9" d="M389.0 218.5h0M353.3 224.6h0M365.5 222.1h0M346.8 221.9h0M386.9 228.4h0"/>
<path stroke="#0081f7" d="M326.2 223.0h0M338.4 220.3h0M329.6 219.3h0M356.6 230.4h0M328.1 224.6h0M327.6 215.3h0M328.1 219.1h0M327.9 228.3h0M333.0 217.4h0M323.1 229.9h0"/>
<path stroke="#c70098" d="M348.3 223.0h0M368.7 225.9h0"/>
<path stroke="#0076f1" d="M368.8 221.8h0M375.4 210.4h0M370.9 230.3h0M327.7 214.2h0M339.9 229.0h0M391.1 227.0h0M360.3 233.4h0"/>
<path stroke="#fc0061" d="M371.5 230.3h0"/>
<path stroke="#ff0051" d="M348.3 219.1h0M368.5 232.9h0M338.1 224.6h0M334.4 226.1h0M348.3 215.3h0M334.4 224.6h0M378.6 211.8h0M373.7 225.7h0M367.3 217.3h0M379.1 233.0h0"/>
<path stroke="#008bfb" d="M385.9 229.7h0M419.0 223.2h0M333.3 227.2h0M323.1 221.9h0M321.3 223.2h0M323.2 224.5h0M319.1 219.2h0M387.4 219.0h0M326.7 225.7h0M331.2 214.8h0M326.8 216.4h0M297.2 223.2h0M377.4 227.4h0M318.1 226.2h0M303.7 225.5h0M287.0 223.2h0M312.4 226.0h0M361.7 230.1h0M327.8 226.9h0M360.2 216.0h0M336.1 227.2h0M350.3 220.6h0M336.7 224.5h0M327.6 218.0h0M324.8 228.9h0M304.1 220.3h0M329.9 227.1h0M323.1 228.8h0M316.3 223.0h0M330.0 215.3h0M385.6 220.1h0M331.4 220.6h0M332.8 226.1h0M370.4 226.0h0M331.4 221.9h0M317.2 216.8h0M310.4 221.9h0M307.8 219.3h0M334.6 223.0h0M344.7 217.3h0M314.3 224.7h0M322.9 225.6h0M305.6 220.9h0M314.3 226.1h0M320.9 230.3h0M324.9 217.3h0M379.2 227.5h0M310.6 218.3h0M366.9 218.9h0M317.8 223.0h0M371.9 227.5h0M380.7 226.0h0M320.8 216.0h0M322.5 215.0h0M317.4 219.6h0"/>
<path stroke="#764ed0" d="M348.7 231.1h0M336.7 225.8h0M361.8 212.4h0M344.7 219.1h0M352.9 223.0h0M378.8 230.5h0M389.2 224.8h0M384.1 217.9h0M377.3 218.7h0M376.9 213.2h0"/>
<path stroke="#5b5ddd" d="M390.9 219.0h0M340.0 215.7h0M346.7 225.8h0M361.6 214.9h0M383.9 225.8h0M358.8 224.7h0M368.7 218.7h0"/>
<path stroke="#f30070" d="M375.5 216.2h0M374.0 210.1h0M373.6 223.3h0"/>
<path stroke="#b30aa3" d="M367.3 211.8h0M373.7 214.6h0M331.5 217.7h0M350.3 231.5h0M368.9 214.6h0"/>
<path stroke="#9d22ac" d="M351.9 226.0h0M370.8 211.5h0M380.7 228.7h0M378.9 222.8h0M358.7 221.7h0M341.6 226.1h0M354.9 221.4h0M343.0 226.1h0"/>
<path stroke="#b30aa3" d="M385.5 218.5h0M383.8 228.6h0M355.5 211.5h0M331.2 225.9h0M329.8 224.2h0M370.7 220.2h0M374.0 228.9h0M369.2 216.2h0M334.6 217.7h0M363.9 227.1h0"/>
<path stroke="#e7007e" d="M370.3 234.8h0"/>
<path stroke="#0081f7" d="M333.0 221.5h0M363.9 221.6h0M331.4 227.2h0M334.8 218.9h0M331.9 219.2h0M359.7 226.0h0M376.8 216.1h0M351.5 229.1h0M397.5 223.1h0M370.5 236.0h0"/>
<path stroke="#d9008c" d="M384.2 227.3h0M372.2 214.6h0M366.9 231.6h0"/>
<path stroke="#306ae9" d="M390.8 224.5h0M329.6 225.7h0M365.9 224.6h0M329.3 232.5h0M370.5 216.0h0M367.3 224.6h0"/>
<path stroke="#c70098" d="M374.0 230.2h0M353.5 233.1h0M361.7 231.3h0M344.8 221.9h0"/>
<path stroke="#fc0061" d="M374.2 211.8h0M356.8 210.3h0M361.9 213.9h0M378.7 228.8h0"/>
<path stroke="#ff0051" d="M378.7 213.4h0M401.5 223.2h0M373.9 234.5h0M357.3 231.8h0M346.5 228.7h0M363.8 217.8h0M365.2 232.9h0M367.3 215.9h0M372.1 228.8h0"/>
<path stroke="#0076f1" d="M350.1 214.9h0M396.2 224.9h0M375.3 228.6h0M352.2 217.4h0M372.2 213.2h0M338.0 228.9h0M350.0 219.0h0M396.0 223.2h0M360.4 218.7h0"/>
<path stroke="#8a3cc0" d="M387.4 220.6h0M353.3 227.5h0M387.6 225.9h0M369.1 227.4h0M386.1 226.3h0M369.0 223.3h0"/>
<path stroke="#f30070" d="M363.7 216.2h0M370.1 224.5h0M360.2 221.5h0M358.8 219.1h0M351.5 223.1h0"/>
<path stroke="#9d22ac" d="M367.3 226.0h0M364.2 230.1h0M353.7 230.5h0M356.8 224.6h0M365.5 230.0h0M366.9 228.9h0"/>
<path stroke="#5b5ddd" d="M382.2 217.6h0M382.3 221.6h0M361.9 235.3h0M380.9 213.6h0M377.5 229.0h0M360.2 228.8h0M389.4 221.7h0M353.7 231.9h0"/>
<path stroke="#008bfb" d="M314.1 218.8h0M338.4 218.7h0M334.8 220.3h0M343.2 221.6h0M336.8 217.6h0M302.5 224.5h0M319.4 231.3h0M309.0 224.4h0M338.0 215.7h0M355.2 231.9h0M324.6 214.7h0M327.6 220.2h0M309.2 219.4h0M385.7 216.6h0M356.3 221.7h0M399.3 223.3h0M317.8 227.7h0M350.0 221.8h0M328.1 221.8h0M328.3 231.0h0M353.6 219.0h0M376.0 214.8h0M348.2 229.6h0M397.6 225.0h0M322.8 231.4h0M300.6 223.2h0M324.6 226.1h0M377.3 231.5h0M384.0 221.8h0M319.3 227.2h0M314.5 217.4h0M363.6 228.7h0M319.6 224.1h0M324.7 230.3h0M403.6 223.2h0M316.2 227.6h0M320.7 213.0h0M388.9 222.9h0M351.3 216.2h0M349.9 223.0h0M321.2 214.7h0M320.8 231.7h0M407.0 223.2h0M318.8 228.8h0M312.9 221.7h0"/>
<path stroke="#764ed0" d="M365.3 212.3h0M372.4 211.7h0M357.0 233.1h0M383.6 215.2h0M358.8 229.8h0M360.4 234.6h0M362.1 221.6h0M374.3 220.3h0M373.6 213.0h0M363.7 233.8h0M365.3 220.5h0M360.4 227.4h0M361.9 224.6h0"/>
<path stroke="#ff0051" d="M369.5 258.9h0M389.8 264.5h0M386.7 269.2h0M379.9 270.3h0M352.4 267.1h0M342.5 276.6h0M354.1 262.2h0M351.1 267.4h0M369.8 255.9h0M388.1 268.0h0M384.8 265.7h0"/>
<path stroke="#9d22ac" d="M320.2 266.0h0M363.7 278.5h0M349.3 260.3h0M325.1 261.9h0M366.4 256.2h0M367.6 270.3h0M323.7 266.2h0"/>
<path stroke="#d9008c" d="M354.7 256.9h0M388.7 266.1h0M364.4 262.1h0M389.9 269.4h0M379.6 263.2h0M368.0 266.3h0M378.4 267.2h0M356.4 259.3h0M347.4 272.9h0M367.0 260.6h0M349.5 266.3h0M357.3 256.6h0M355.7 256.6h0M364.2 276.7h0"/>
<path stroke="#e7007e" d="M378.2 266.1h0M360.8 268.8h0M340.4 258.9h0M358.9 265.9h0M379.7 269.0h0M361.2 256.6h0M336.8 256.8h0M347.0 268.7h0M355.4 266.2h0M362.8 272.8h0"/>
<path stroke="#fc0061" d="M385.1 264.6h0M372.9 261.5h0"/>
<path stroke="#f30070" d="M374.7 268.7h0M374.4 264.9h0M383.2 266.2h0M362.4 267.1h0M388.4 264.3h0M346.1 273.5h0M377.8 259.2h0M386.3 261.3h0M371.2 274.5h0"/>
<path stroke="#008bfb" d="M335.3 260.3h0M332.2 257.9h0M327.0 262.7h0M321.9 261.4h0M330.3 260.2h0M318.5 263.2h0M350.7 278.1h0M342.2 264.6h0"/>
<path stroke="#5b5ddd" d="M335.2 261.7h0M335.6 264.6h0M337.2 260.6h0M357.8 268.8h0M350.8 266.2h0M328.5 264.7h0M330.1 274.6h0M349.3 274.3h0M357.6 260.8h0"/>
<path stroke="#306ae9" d="M338.9 263.3h0M359.2 273.8h0M345.5 264.8h0M321.6 265.9h0M359.4 264.8h0M350.4 259.2h0M330.0 263.3h0"/>
<path stroke="#8a3cc0" d="M336.9 274.3h0M352.5 276.6h0M333.4 269.0h0M364.4 260.8h0M362.3 258.3h0M349.1 257.9h0M348.7 273.1h0M372.4 269.2h0M367.6 274.1h0M376.1 261.0h0"/>
<path stroke="#c70098" d="M361.3 267.5h0M340.9 269.3h0M329.0 266.0h0M323.6 269.0h0M323.2 272.6h0M353.9 279.8h0M381.5 264.1h0M381.5 262.5h0M350.4 264.8h0M356.1 267.7h0M376.0 265.0h0M344.1 273.3h0M379.5 266.2h0"/>
<path stroke="#764ed0" d="M361.3 263.3h0M328.7 267.5h0M352.5 279.3h0M318.3 264.7h0M352.4 272.7h0M318.3 268.8h0M349.2 267.4h0M344.2 269.3h0"/>
<path stroke="#0076f1" d="M330.4 270.4h0M344.4 274.9h0M343.6 256.0h0"/>
<path stroke="#b30aa3" d="M361.1 260.5h0M345.9 267.6h0M323.3 259.9h0M315.3 264.6h0M369.8 270.4h0M325.4 263.5h0M354.0 264.9h0M349.4 269.0h0M355.8 258.1h0M347.2 265.9h0M343.7 263.3h0M345.6 254.4h0M331.9 273.1h0"/>
<path stroke="#0076f1" d="M346.0 255.8h0M328.7 259.4h0M333.7 266.1h0M347.0 271.6h0"/>
<path stroke="#5b5ddd" d="M374.6 256.6h0M362.5 269.0h0M362.9 260.6h0M338.8 261.7h0M335.9 270.4h0M362.8 262.0h0M342.3 260.5h0M340.8 260.1h0"/>
<path stroke="#f30070" d="M368.2 263.2h0M382.7 267.6h0M369.6 276.2h0M354.1 270.1h0M371.3 253.5h0M347.4 255.5h0M366.4 277.4h0M347.5 259.5h0M364.7 268.8h0"/>
<path stroke="#ff0051" d="M376.6 268.8h0M361.5 264.7h0M358.0 266.1h0M391.9 264.4h0M339.0 270.4h0M359.6 270.1h0M357.4 267.1h0M372.6 256.9h0"/>
<path stroke="#0081f7" d="M371.6 268.7h0M356.5 264.7h0"/>
<path stroke="#9d22ac" d="M367.5 255.3h0M331.9 263.5h0M357.7 259.5h0M333.7 275.0h0M371.6 256.5h0M371.1 271.8h0M360.8 274.4h0M359.4 262.0h0"/>
<path stroke="#8a3cc0" d="M332.4 264.8h0M371.2 255.0h0M376.7 266.2h0M352.6 265.9h0M357.3 263.3h0M335.5 273.3h0M330.8 267.7h0M363.0 278.2h0"/>
<path stroke="#306ae9" d="M320.0 264.8h0M355.8 275.6h0M340.9 264.7h0M336.8 264.8h0M326.7 264.5h0M356.1 270.3h0M324.8 270.1h0M332.1 266.1h0"/>
<path stroke="#c70098" d="M361.1 257.8h0M364.5 264.8h0M330.5 273.3h0M350.5 262.4h0M347.8 267.4h0M336.9 263.6h0M346.0 268.9h0"/>
<path stroke="#fc0061" d="M400.3 266.2h0M376.8 271.3h0M359.4 254.4h0M369.8 271.7h0M383.2 261.9h0M368.9 257.6h0M371.1 258.0h0M328.7 263.3h0M393.2 263.6h0M385.2 269.0h0M347.0 263.3h0"/>
<path stroke="#008bfb" d="M352.3 255.9h0M359.1 268.8h0M333.6 270.7h0M329.0 272.9h0M362.9 271.4h0M345.7 260.6h0"/>
<path stroke="#d9008c" d="M374.9 270.2h0M357.6 252.8h0M376.4 267.3h0M366.3 263.3h0M370.9 276.1h0M364.3 265.9h0M365.0 263.4h0M358.2 274.1h0M373.1 267.4h0M366.5 257.6h0M386.3 266.3h0M372.8 275.3h0M385.0 263.1h0"/>
<path stroke="#e7007e" d="M371.2 267.4h0M392.2 262.9h0M365.9 259.3h0M337.2 259.6h0M362.4 274.0h0M386.5 262.9h0M367.8 257.8h0M395.0 266.0h0M354.1 278.4h0M379.6 262.0h0"/>
<path stroke="#b30aa3" d="M347.4 277.0h0M368.0 273.1h0M342.0 265.9h0M338.7 260.6h0M337.5 278.1h0M375.0 272.9h0M378.1 272.7h0M340.8 266.3h0M335.4 257.4h0M354.4 257.9h0M328.6 271.6h0"/>
<path stroke="#764ed0" d="M323.6 262.9h0M357.5 277.9h0M321.7 271.0h0M369.7 273.3h0M332.0 274.3h0M364.8 275.6h0M345.7 257.3h0M328.7 262.2h0M352.8 268.5h0M342.4 256.9h0M340.7 263.4h0"/>
<path stroke="#b30aa3" d="M336.8 271.3h0M334.0 261.6h0M323.7 270.6h0M381.5 271.4h0M352.9 271.2h0M376.3 272.9h0M344.1 270.7h0M362.8 270.2h0M376.3 273.9h0M342.2 251.6h0M326.8 267.5h0M335.5 258.8h0M378.1 260.6h0M321.6 262.8h0"/>
<path stroke="#fc0061" d="M391.4 269.3h0M364.3 256.6h0M352.3 277.7h0M373.0 262.8h0M388.1 262.4h0"/>
<path stroke="#ff0051" d="M401.9 266.0h0M357.7 264.8h0M385.8 270.9h0M362.3 263.0h0M358.1 270.1h0M347.4 258.2h0M369.7 261.7h0M360.6 278.3h0M383.2 263.5h0M379.7 271.5h0M381.5 265.9h0M358.8 275.0h0"/>
<path stroke="#306ae9" d="M342.1 267.6h0M327.0 261.5h0M357.2 262.1h0M333.5 258.5h0M338.7 268.9h0"/>
<path stroke="#c70098" d="M366.2 268.8h0M327.3 270.9h0M352.1 263.5h0M333.6 264.4h0M358.9 258.4h0M364.3 255.6h0M377.9 257.8h0M353.6 267.3h0M371.2 263.3h0M364.2 259.2h0M372.9 270.8h0"/>
<path stroke="#e7007e" d="M367.9 264.5h0M361.1 270.2h0M379.5 267.5h0M374.9 259.5h0M366.0 273.2h0M391.7 267.7h0"/>
<path stroke="#764ed0" d="M354.3 275.9h0M360.8 271.6h0M348.8 270.3h0M319.9 262.1h0M359.4 260.8h0M362.6 256.5h0M354.3 268.7h0"/>
<path stroke="#d9008c" d="M339.0 267.8h0M323.6 267.7h0M359.3 256.8h0M371.5 264.6h0M351.4 275.4h0M374.6 260.5h0M369.5 254.5h0M375.0 262.0h0M325.0 264.7h0M349.0 280.1h0M344.0 262.0h0M378.2 274.4h0M354.1 277.1h0M386.9 267.6h0M364.4 254.0h0M320.1 267.4h0M333.3 267.5h0"/>
<path stroke="#5b5ddd" d="M364.4 257.9h0M359.5 267.2h0M344.2 257.6h0M354.2 265.9h0M367.6 256.5h0M367.5 278.6h0M330.2 264.5h0M357.6 272.7h0M313.0 266.1h0M354.2 255.1h0M356.0 271.5h0M342.2 271.4h0"/>
<path stroke="#008bfb" d="M343.8 276.3h0M366.1 265.9h0M331.9 260.6h0M323.5 264.5h0M338.8 274.6h0"/>
<path stroke="#8a3cc0" d="M339.0 264.6h0M351.2 261.0h0M361.1 259.1h0M373.5 272.2h0M311.7 265.8h0M367.9 275.9h0M362.3 255.2h0M374.6 257.8h0M339.1 271.8h0"/>
<path stroke="#0076f1" d="M333.6 263.1h0M343.9 264.4h0"/>
<path stroke="#0081f7" d="M354.2 253.8h0M350.5 257.0h0M345.5 258.8h0"/>
<path stroke="#9d22ac" d="M370.8 270.3h0M366.4 271.8h0M352.5 259.5h0M345.4 270.4h0M337.0 266.1h0M347.1 264.7h0M338.7 258.9h0M349.2 256.2h0M345.8 266.3h0M360.8 275.8h0M352.6 264.6h0M347.2 256.9h0"/>
<path stroke="#f30070" d="M318.4 267.7h0M386.0 264.5h0M351.0 272.8h0M344.2 260.6h0"/>
<path stroke="#fc0061" d="M389.9 262.9h0M398.6 266.1h0M385.1 270.4h0M361.6 266.2h0M362.5 275.6h0M376.3 259.6h0"/>
<path stroke="#c70098" d="M339.0 257.7h0M350.4 276.5h0M354.1 259.3h0M347.6 262.0h0M356.0 274.4h0M359.2 276.8h0M343.9 277.6h0M359.4 263.6h0M350.6 268.8h0"/>
<path stroke="#306ae9" d="M340.3 273.6h0M366.3 267.4h0M328.3 268.6h0M345.4 263.2h0M349.0 264.9h0M333.4 259.9h0M373.2 264.5h0"/>
<path stroke="#5b5ddd" d="M345.5 276.2h0M342.2 279.3h0M349.1 252.0h0M345.8 277.9h0M340.8 257.3h0M355.8 262.1h0M349.1 253.4h0"/>
<path stroke="#d9008c" d="M342.4 275.5h0M384.7 261.9h0M342.2 261.8h0M376.1 263.3h0M366.2 262.0h0M335.3 266.3h0M347.4 254.1h0M319.9 270.4h0M378.1 270.0h0"/>
<path stroke="#9d22ac" d="M380.3 260.7h0M364.4 270.2h0M327.3 266.1h0M354.5 274.2h0M349.1 259.0h0M337.3 267.4h0M374.5 263.3h0M356.0 260.6h0M376.5 258.5h0M350.3 254.5h0M342.1 278.1h0"/>
<path stroke="#0081f7" d="M327.1 272.3h0M335.7 263.2h0M337.2 275.5h0M342.3 274.1h0"/>
<path stroke="#0076f1" d="M337.2 270.2h0M322.0 267.4h0M332.2 268.6h0"/>
<path stroke="#8a3cc0" d="M338.7 266.2h0M352.0 251.9h0M331.9 270.0h0M367.9 268.6h0M328.7 270.3h0M328.6 260.8h0M369.4 260.6h0M330.8 271.6h0M369.6 266.0h0M352.7 280.5h0M330.6 268.8h0"/>
<path stroke="#008bfb" d="M342.6 258.2h0M344.1 271.9h0M354.4 271.4h0M343.7 267.7h0"/>
<path stroke="#e7007e" d="M356.4 268.8h0M377.8 268.7h0M339.1 273.4h0M378.4 263.6h0M381.2 260.9h0M367.5 261.9h0M379.7 264.6h0M367.6 277.1h0M359.3 272.7h0M393.6 266.2h0M381.3 267.8h0M360.9 253.8h0"/>
<path stroke="#b30aa3" d="M337.2 258.1h0M350.8 271.3h0M342.1 263.6h0M367.9 259.0h0M357.4 279.2h0M370.9 277.2h0M342.2 255.4h0M336.8 255.6h0M340.6 270.5h0M366.5 276.0h0M364.2 271.5h0M352.4 260.7h0"/>
<path stroke="#ff0051" d="M388.2 270.0h0M352.7 270.0h0M355.5 263.4h0M357.5 275.2h0M381.5 269.4h0M370.9 259.4h0M374.6 274.4h0M376.8 262.2h0"/>
<path stroke="#f30070" d="M333.6 272.1h0M352.5 254.4h0M373.1 260.0h0M366.0 270.3h0M368.2 267.8h0M391.8 266.1h0M385.0 267.4h0M369.8 274.9h0M374.5 266.2h0M349.1 261.7h0M377.6 262.2h0M383.5 264.6h0M343.7 259.0h0M393.5 268.2h0M390.0 266.1h0"/>
<path stroke="#764ed0" d="M366.2 274.7h0M351.0 274.0h0M320.2 263.1h0M349.4 278.8h0M373.0 258.5h0M335.5 267.5h0"/>
<path stroke="#f30070" d="M395.4 264.3h0M390.1 268.1h0M356.9 276.8h0M371.4 260.3h0"/>
<path stroke="#b30aa3" d="M362.4 259.2h0M349.2 255.2h0M369.6 265.0h0M340.5 272.0h0M357.8 253.9h0M348.9 277.4h0M373.0 266.3h0M354.6 252.7h0M376.6 269.9h0M352.7 275.1h0"/>
<path stroke="#0076f1" d="M330.5 266.1h0M359.4 271.3h0M359.4 255.6h0M331.7 262.0h0M352.7 256.9h0"/>
<path stroke="#008bfb" d="M332.1 259.4h0M323.1 261.3h0M349.1 271.9h0M302.3 266.1h0M336.9 262.2h0M331.8 267.5h0M320.3 269.0h0"/>
<path stroke="#c70098" d="M316.7 266.2h0M374.5 271.5h0M354.1 263.6h0M360.3 254.9h0M362.6 254.2h0M359.3 277.7h0M347.4 278.2h0M361.2 272.9h0"/>
<path stroke="#8a3cc0" d="M326.8 260.2h0M342.3 270.0h0M345.8 271.9h0M326.7 269.2h0M315.2 267.3h0M351.0 270.2h0M361.2 277.2h0M364.8 274.0h0M340.9 275.0h0M347.3 274.0h0M330.5 259.0h0M354.3 273.0h0M342.4 280.8h0"/>
<path stroke="#9d22ac" d="M337.4 272.9h0M318.2 266.2h0M357.5 258.2h0M348.9 276.1h0M362.9 265.9h0M352.7 258.1h0M330.4 262.0h0M325.0 268.7h0M369.7 263.1h0M354.4 260.7h0M364.5 272.8h0M350.8 255.4h0"/>
<path stroke="#306ae9" d="M344.2 266.1h0M350.6 258.3h0M337.9 268.8h0M321.7 269.3h0M345.5 261.8h0M335.2 271.7h0M331.9 271.7h0M315.3 266.0h0"/>
<path stroke="#fc0061" d="M352.7 262.1h0M383.6 270.4h0M371.2 261.9h0M369.7 267.4h0M383.6 268.8h0"/>
<path stroke="#ff0051" d="M364.0 267.3h0M378.0 271.5h0M359.6 259.3h0M367.5 271.7h0M357.4 255.5h0M371.3 278.5h0M369.7 277.8h0M371.5 273.1h0M371.1 266.1h0M374.4 267.4h0M395.2 267.9h0M345.5 274.6h0M361.1 262.0h0M396.9 265.9h0M369.2 268.8h0"/>
<path stroke="#5b5ddd" d="M325.2 265.8h0M352.4 273.9h0M373.2 274.0h0M357.3 271.6h0M365.9 254.8h0M335.6 269.0h0M351.1 263.8h0M355.7 273.1h0M342.2 268.8h0M322.4 264.5h0M347.2 275.7h0"/>
<path stroke="#e7007e" d="M342.0 259.4h0M330.4 257.7h0M374.9 275.9h0M347.6 270.1h0M362.6 264.9h0M352.4 252.7h0M368.0 254.0h0M337.3 254.2h0"/>
<path stroke="#0081f7" d="M342.9 254.3h0M335.6 274.8h0"/>
<path stroke="#d9008c" d="M333.9 273.7h0M366.4 264.4h0M366.0 260.4h0M340.7 261.6h0M325.4 267.6h0M378.1 264.6h0M363.0 276.8h0"/>
<path stroke="#764ed0" d="M333.6 257.0h0M349.3 263.5h0M342.6 252.7h0M340.5 267.5h0M344.1 254.8h0M337.5 276.8h0M342.6 272.6h0M347.1 260.7h0"/>
<path stroke="#fc0061" d="M360.8 310.5h0M347.4 318.7h0M357.8 314.3h0M357.6 312.1h0M357.3 302.3h0"/>
<path stroke="#306ae9" d="M406.7 309.1h0M317.8 307.7h0M385.2 310.3h0M332.0 313.4h0M333.8 314.5h0"/>
<path stroke="#0081f7" d="M314.6 308.9h0M328.7 306.3h0M349.1 325.1h0M340.6 298.1h0M349.3 303.6h0M330.2 306.1h0"/>
<path stroke="#e7007e" d="M347.5 305.1h0M381.6 309.3h0M373.0 303.3h0M352.2 298.2h0M342.6 301.3h0"/>
<path stroke="#c70098" d="M372.7 313.5h0M374.3 304.0h0M353.9 304.9h0M352.8 310.5h0M359.3 306.0h0M329.9 309.1h0M365.8 311.7h0M393.1 309.1h0M364.3 305.9h0"/>
<path stroke="#ff0051" d="M354.2 314.5h0M361.0 305.1h0M362.8 309.2h0M357.6 309.1h0"/>
<path stroke="#b30aa3" d="M381.5 305.3h0M360.6 314.5h0M355.7 313.3h0M355.6 308.6h0M386.4 311.6h0M350.8 309.0h0"/>
<path stroke="#5b5ddd" d="M342.1 304.8h0M345.9 312.0h0M313.2 308.9h0M337.0 303.4h0M335.6 302.1h0M384.6 307.6h0M359.4 303.4h0M371.6 313.5h0M347.5 297.1h0"/>
<path stroke="#764ed0" d="M327.0 309.1h0M362.5 305.1h0M359.0 316.0h0M376.3 306.3h0M376.2 309.0h0M349.1 318.5h0M327.0 312.0h0M405.3 309.0h0M342.1 314.0h0M338.4 303.7h0M359.2 317.5h0M339.0 302.5h0M366.4 314.5h0"/>
<path stroke="#9d22ac" d="M367.3 303.2h0M350.7 300.5h0M401.7 309.3h0M347.1 300.7h0M353.8 320.9h0M367.6 313.2h0M350.7 306.2h0M348.7 317.1h0M381.6 311.1h0M366.1 317.1h0"/>
<path stroke="#8a3cc0" d="M343.9 317.5h0M356.1 319.7h0M410.2 308.8h0M349.0 311.6h0"/>
<path stroke="#d9008c" d="M377.5 307.5h0"/>
<path stroke="#008bfb" d="M316.6 309.0h0M324.9 310.2h0M362.7 310.4h0M320.4 307.4h0M300.6 309.0h0M330.6 304.9h0M333.8 315.7h0M333.5 301.0h0M342.3 303.8h0M325.5 306.5h0M338.6 314.3h0"/>
<path stroke="#0076f1" d="M333.6 302.4h0M346.0 302.2h0M336.7 306.2h0M352.5 315.8h0M347.3 299.5h0M331.9 311.9h0M335.2 309.1h0M338.7 313.3h0M359.3 301.8h0"/>
<path stroke="#d9008c" d="M377.8 308.7h0M364.0 314.9h0"/>
<path stroke="#5b5ddd" d="M330.2 312.9h0M345.4 307.6h0M366.2 316.0h0M366.1 306.4h0"/>
<path stroke="#0076f1" d="M363.8 312.1h0M359.1 313.4h0M384.7 305.0h0M345.7 305.3h0M371.1 315.0h0M342.2 316.7h0M344.0 302.3h0M342.1 307.8h0"/>
<path stroke="#e7007e" d="M373.0 306.0h0M360.9 302.2h0M371.3 306.2h0"/>
<path stroke="#306ae9" d="M389.6 308.9h0M371.0 304.8h0M386.6 306.8h0M340.8 296.5h0M355.9 303.3h0M327.0 307.4h0"/>
<path stroke="#ff0051" d="M367.9 310.6h0M376.3 311.7h0M347.2 310.5h0M350.9 311.7h0M377.9 310.5h0"/>
<path stroke="#008bfb" d="M340.5 314.7h0M340.0 317.3h0M333.5 307.7h0M354.5 298.2h0M348.9 305.1h0M374.6 310.7h0M311.5 308.8h0M323.7 310.7h0M336.8 311.8h0M333.6 305.3h0M367.6 301.6h0M340.7 311.7h0M340.5 302.4h0M348.9 294.3h0M366.0 313.2h0"/>
<path stroke="#b30aa3" d="M384.5 309.2h0M336.9 308.9h0M331.6 304.6h0M344.0 314.4h0"/>
<path stroke="#764ed0" d="M333.2 313.0h0M379.8 312.0h0M361.5 300.6h0M369.5 313.4h0M353.8 316.0h0M328.8 311.8h0M340.9 304.9h0M359.2 310.6h0M335.4 307.8h0"/>
<path stroke="#c70098" d="M350.3 301.7h0M383.9 312.8h0M379.6 310.5h0M374.1 314.1h0M369.4 305.1h0M369.3 311.8h0M381.7 312.9h0"/>
<path stroke="#f30070" d="M382.7 305.9h0M347.5 306.5h0M378.0 306.3h0"/>
<path stroke="#9d22ac" d="M364.2 313.3h0M382.9 309.2h0M369.3 307.9h0M349.2 306.6h0M380.0 313.8h0M343.8 305.0h0M383.0 312.1h0M344.1 311.9h0M354.2 317.1h0M341.0 303.6h0"/>
<path stroke="#8a3cc0" d="M372.5 309.1h0M367.5 311.9h0M338.4 309.1h0M357.2 303.6h0M337.0 301.7h0M352.1 307.7h0M360.9 313.3h0M353.8 319.4h0M372.8 304.8h0M338.7 318.6h0M347.2 298.2h0M376.8 307.6h0"/>
<path stroke="#0081f7" d="M325.1 311.6h0M352.4 300.7h0M338.9 315.7h0M351.0 304.8h0M369.8 310.4h0M345.6 301.2h0M352.7 317.4h0M354.2 303.8h0M357.8 315.6h0"/>
<path stroke="#d9008c" d="M364.1 310.6h0M350.8 313.5h0M342.5 310.6h0"/>
<path stroke="#764ed0" d="M354.2 301.2h0M391.9 310.7h0M340.7 320.1h0M347.4 302.3h0M346.9 313.2h0M350.6 317.6h0M384.7 306.2h0M367.9 307.4h0M408.4 309.1h0"/>
<path stroke="#9d22ac" d="M379.5 304.4h0M335.5 317.6h0M352.6 302.2h0"/>
<path stroke="#f30070" d="M359.3 300.3h0M350.7 314.7h0M346.3 316.9h0M377.4 304.9h0M371.0 303.0h0M352.1 303.5h0"/>
<path stroke="#306ae9" d="M330.1 311.9h0M328.6 313.0h0M326.7 306.0h0M344.2 310.4h0M330.5 307.6h0M348.8 297.2h0M352.1 318.5h0M353.8 299.9h0M350.6 316.1h0M338.8 311.7h0M360.7 316.1h0"/>
<path stroke="#0081f7" d="M330.4 310.4h0"/>
<path stroke="#0076f1" d="M323.4 306.0h0M321.7 312.0h0M330.2 302.0h0M309.8 308.9h0M347.1 314.3h0"/>
<path stroke="#8a3cc0" d="M388.1 306.1h0M370.9 312.2h0M396.7 308.9h0M338.5 307.7h0M369.3 306.1h0M360.9 303.4h0M366.3 303.7h0M335.3 300.3h0M340.7 310.5h0"/>
<path stroke="#008bfb" d="M353.9 312.9h0M318.6 309.1h0M347.5 322.6h0M356.0 302.4h0M342.2 299.9h0M349.1 301.0h0M360.8 317.1h0M386.2 307.7h0M339.1 310.3h0M355.8 311.4h0M323.5 307.4h0M349.1 299.9h0M355.9 300.9h0M307.8 309.0h0M350.8 319.0h0M347.5 309.3h0M330.2 315.9h0M336.9 316.3h0M366.0 302.5h0M336.9 314.9h0M345.7 298.7h0M337.2 310.7h0M343.7 315.7h0M324.9 305.2h0M345.4 306.2h0M335.4 310.5h0"/>
<path stroke="#c70098" d="M344.0 309.0h0M358.8 312.0h0M374.2 307.3h0M335.6 314.8h0M371.0 310.8h0M338.8 300.9h0M361.1 306.4h0M388.1 310.5h0"/>
<path stroke="#5b5ddd" d="M354.2 318.1h0M333.4 310.6h0M351.9 299.4h0M354.2 307.9h0M340.3 309.3h0"/>
<path stroke="#b30aa3" d="M386.8 310.4h0M370.9 309.1h0"/>
<path stroke="#fc0061" d="M364.2 316.5h0M374.7 312.6h0M342.2 302.2h0"/>
<path stroke="#e7007e" d="M376.7 310.2h0M347.5 321.1h0"/>
<path stroke="#ff0051" d="M366.0 304.9h0M359.1 309.3h0M364.4 304.7h0M364.7 301.9h0"/>
<path stroke="#764ed0" d="M360.9 299.3h0M386.6 309.0h0M373.4 307.7h0M345.2 313.1h0M388.2 307.6h0M356.1 298.3h0M389.6 311.3h0M366.0 309.0h0M382.7 310.5h0M398.1 308.8h0M349.2 319.8h0M379.4 307.4h0M372.7 315.1h0M335.5 306.3h0"/>
<path stroke="#b30aa3" d="M364.3 303.1h0M355.6 318.3h0M376.3 304.9h0M336.7 304.8h0M360.7 309.0h0M366.2 307.7h0"/>
<path stroke="#0081f7" d="M355.8 314.6h0M338.6 317.1h0M331.6 307.5h0M321.8 310.6h0M320.3 310.9h0M326.6 313.6h0M319.9 309.0h0"/>
<path stroke="#306ae9" d="M358.7 314.7h0M357.7 318.8h0M357.5 299.6h0M346.7 317.2h0M342.0 311.7h0M388.1 309.2h0"/>
<path stroke="#d9008c" d="M364.6 307.4h0"/>
<path stroke="#fc0061" d="M384.8 311.7h0M335.0 316.3h0"/>
<path stroke="#008bfb" d="M321.5 306.4h0M353.9 302.2h0M340.3 316.0h0M344.1 299.5h0M343.5 318.9h0M342.1 315.5h0M346.9 303.4h0M333.4 309.0h0M368.1 308.8h0M328.3 305.3h0M325.3 313.1h0M328.5 308.9h0M349.0 322.3h0M337.5 313.6h0M332.2 310.4h0M352.2 314.4h0M367.6 306.1h0M348.4 315.7h0M332.2 314.6h0M345.8 314.2h0M321.5 308.9h0"/>
<path stroke="#9d22ac" d="M353.7 297.2h0M362.5 313.2h0M377.4 312.9h0M328.7 307.6h0M359.0 307.5h0M345.7 315.5h0M347.1 311.7h0M360.5 311.9h0"/>
<path stroke="#ff0051" d="M362.4 303.7h0"/>
<path stroke="#5b5ddd" d="M345.3 318.3h0M335.2 304.8h0M345.2 310.6h0M394.8 309.1h0M357.1 313.1h0M345.7 319.8h0M353.8 310.1h0M413.4 309.0h0M412.1 309.3h0M343.8 303.5h0"/>
<path stroke="#c70098" d="M369.6 309.2h0M391.4 307.0h0M379.8 305.9h0M349.0 323.8h0M338.0 299.6h0"/>
<path stroke="#e7007e" d="M340.1 313.3h0"/>
<path stroke="#8a3cc0" d="M400.1 309.0h0M340.2 300.7h0M383.3 307.3h0M339.8 321.4h0M355.3 317.1h0M342.1 318.0h0M354.1 311.7h0"/>
<path stroke="#0076f1" d="M349.1 310.5h0M326.8 310.5h0M331.8 309.0h0M323.6 312.2h0M321.8 307.8h0M353.0 309.0h0M349.1 313.3h0M343.9 300.8h0"/>
<path stroke="#8a3cc0" d="M362.8 311.8h0M388.7 312.0h0M381.1 306.9h0M356.1 306.4h0M393.5 307.2h0M331.9 306.0h0"/>
<path stroke="#d9008c" d="M367.5 315.0h0M340.8 306.2h0"/>
<path stroke="#0076f1" d="M345.7 308.9h0M357.4 304.9h0M357.2 310.4h0M340.4 307.6h0M379.7 309.0h0"/>
<path stroke="#0081f7" d="M352.2 312.0h0M362.7 306.5h0M328.7 310.2h0"/>
<path stroke="#e7007e" d="M354.2 306.4h0M361.2 318.5h0"/>
<path stroke="#c70098" d="M372.8 310.3h0M347.5 315.8h0M355.7 315.7h0M335.8 311.7h0M389.7 306.7h0M377.9 311.6h0M368.1 316.5h0M357.2 317.2h0M349.1 307.8h0M366.1 310.7h0M356.0 299.4h0M374.6 305.7h0"/>
<path stroke="#5b5ddd" d="M327.0 304.4h0M339.0 306.2h0M348.9 321.1h0M403.1 308.9h0M352.6 306.3h0M362.5 314.5h0M348.7 298.4h0M331.7 303.2h0M371.0 307.3h0M355.8 307.8h0M345.7 299.9h0M350.8 303.4h0"/>
<path stroke="#008bfb" d="M335.6 303.0h0M325.5 307.3h0M350.5 307.5h0M359.5 304.8h0M330.0 314.5h0M350.3 299.0h0M344.1 307.9h0M349.3 314.4h0M340.6 299.8h0M356.9 300.8h0M357.4 306.5h0M349.1 309.3h0M343.9 312.8h0M323.5 309.2h0M330.5 303.6h0M333.6 311.5h0M364.2 309.0h0M335.6 313.4h0M345.5 303.6h0M346.8 295.5h0M348.5 293.0h0M342.1 309.0h0M318.0 310.5h0M334.1 317.2h0M352.4 313.3h0M344.2 306.3h0"/>
<path stroke="#ff0051" d="M355.7 310.0h0M372.8 312.0h0M350.0 310.4h0M366.3 300.7h0"/>
<path stroke="#b30aa3" d="M357.8 307.5h0M361.3 307.7h0"/>
<path stroke="#306ae9" d="M325.3 309.0h0M353.9 308.8h0M362.4 307.9h0M333.5 303.6h0M333.8 306.3h0M336.9 307.6h0M349.3 302.0h0"/>
<path stroke="#9d22ac" d="M352.4 320.1h0M367.4 304.7h0M340.8 318.7h0M352.5 305.2h0M342.1 312.5h0M391.6 309.0h0M338.5 304.7h0"/>
<path stroke="#764ed0" d="M347.1 319.9h0M376.6 312.9h0M342.3 306.5h0M347.7 307.9h0M393.3 310.8h0M356.0 305.1h0M374.3 309.1h0M349.5 295.8h0"/>
<path stroke="#fc0061" d="M374.0 357.7h0M358.0 352.0h0"/>
<path stroke="#8a3cc0" d="M349.6 367.3h0M356.8 358.7h0M353.1 361.6h0M379.1 352.3h0M354.9 347.9h0M356.2 364.0h0M360.2 348.0h0"/>
<path stroke="#f30070" d="M344.8 341.1h0M342.8 356.9h0M342.5 344.4h0"/>
<path stroke="#5b5ddd" d="M348.5 343.9h0M351.5 355.7h0M373.3 347.8h0M359.6 350.6h0M359.8 364.6h0M354.6 358.8h0M348.3 362.8h0"/>
<path stroke="#b30aa3" d="M336.0 354.7h0M349.5 361.7h0M336.3 353.3h0M336.3 360.0h0M337.6 342.6h0M355.2 339.9h0M358.3 354.7h0M363.6 358.8h0M351.7 345.0h0M360.5 346.3h0M336.1 345.1h0M339.8 359.1h0"/>
<path stroke="#0081f7" d="M387.4 353.9h0M356.6 360.5h0M368.9 345.3h0M368.7 356.1h0"/>
<path stroke="#764ed0" d="M370.1 352.0h0M358.5 360.1h0M371.5 350.9h0M355.2 357.0h0M370.5 358.2h0M336.2 351.9h0M388.7 354.3h0M333.2 349.3h0M366.7 359.4h0M353.1 346.7h0M361.8 351.6h0"/>
<path stroke="#008bfb" d="M370.3 359.5h0M354.7 345.3h0M372.2 352.0h0M361.9 361.9h0M404.1 351.9h0M375.3 355.1h0M383.7 350.4h0M386.2 350.2h0M366.7 344.6h0M380.5 348.2h0M336.3 344.0h0M365.5 358.6h0M375.2 359.6h0M361.4 342.0h0M366.6 361.0h0"/>
<path stroke="#9d22ac" d="M344.5 349.0h0M329.5 356.8h0M361.8 349.1h0M345.1 361.5h0M355.0 356.0h0M349.6 342.3h0M368.4 350.9h0"/>
<path stroke="#c70098" d="M344.4 343.8h0M355.4 346.9h0M368.8 342.5h0M364.8 341.6h0"/>
<path stroke="#d9008c" d="M336.0 346.8h0M370.6 356.8h0M338.0 346.6h0M346.8 359.3h0M358.4 343.9h0M348.4 359.9h0M363.9 339.5h0M325.7 347.9h0M353.3 343.8h0"/>
<path stroke="#306ae9" d="M351.7 364.5h0M378.7 353.7h0M380.3 350.7h0M354.9 353.2h0M346.6 347.7h0M367.1 350.7h0M341.2 344.2h0M338.1 345.2h0"/>
<path stroke="#e7007e" d="M334.5 348.2h0M315.1 353.2h0M346.3 354.8h0M330.9 356.3h0M363.3 365.7h0M333.5 350.5h0M356.5 361.5h0M356.0 362.6h0"/>
<path stroke="#ff0051" d="M341.5 354.8h0M327.4 355.7h0M320.6 354.1h0M351.5 340.9h0M346.6 344.8h0M321.9 355.0h0M293.3 351.9h0M304.1 352.0h0"/>
<path stroke="#0076f1" d="M354.9 350.6h0M389.2 352.2h0M382.0 350.3h0M365.1 361.2h0M377.4 353.5h0"/>
<path stroke="#764ed0" d="M349.4 356.4h0M348.0 350.6h0M382.4 357.0h0M373.6 351.8h0M339.9 347.7h0M363.7 353.3h0M368.4 346.4h0"/>
<path stroke="#8a3cc0" d="M356.4 353.7h0M370.4 344.4h0M389.2 349.7h0M356.5 340.0h0M363.3 352.0h0M373.6 346.1h0M379.0 347.0h0M368.8 360.2h0"/>
<path stroke="#f30070" d="M359.1 362.8h0M361.6 356.1h0M334.4 352.0h0M337.9 361.2h0M348.4 351.9h0M354.3 354.9h0"/>
<path stroke="#9d22ac" d="M341.5 359.7h0M339.9 350.6h0M351.5 354.6h0M330.8 347.8h0M368.5 353.3h0M355.0 352.1h0M360.2 361.5h0M349.9 365.5h0"/>
<path stroke="#d9008c" d="M329.5 352.0h0M337.9 352.0h0M370.6 350.3h0M364.9 357.3h0M348.2 339.8h0M317.9 352.0h0"/>
<path stroke="#306ae9" d="M363.5 354.5h0M351.3 349.5h0M395.8 350.7h0M365.3 344.2h0M365.2 356.2h0M348.1 342.6h0"/>
<path stroke="#0076f1" d="M360.1 358.0h0M375.4 345.9h0M353.6 349.3h0M384.1 354.9h0M370.4 349.0h0"/>
<path stroke="#5b5ddd" d="M363.5 338.2h0M362.1 347.8h0M348.1 353.3h0M371.8 346.4h0M368.6 343.8h0M346.8 362.0h0M368.6 354.7h0"/>
<path stroke="#ff0051" d="M348.0 365.2h0M351.5 363.1h0M353.2 357.4h0M324.0 350.2h0M327.7 351.9h0M330.1 353.5h0M343.1 350.5h0M322.5 351.8h0M346.2 357.6h0M343.1 359.4h0M350.2 345.1h0M305.8 351.9h0M339.8 349.1h0M348.0 361.2h0M343.0 351.9h0"/>
<path stroke="#0081f7" d="M394.1 349.9h0M375.7 348.9h0M395.8 353.4h0M381.5 347.3h0"/>
<path stroke="#b30aa3" d="M332.8 357.7h0M325.7 350.2h0M372.2 353.4h0M339.6 343.5h0M353.3 363.1h0M344.7 346.6h0M360.1 342.6h0M358.8 350.5h0M370.7 343.1h0M366.9 343.0h0M344.4 354.7h0"/>
<path stroke="#008bfb" d="M380.6 354.4h0M365.4 351.9h0M391.3 353.5h0M383.4 353.4h0M358.3 346.3h0M387.6 355.6h0M373.9 355.1h0M386.1 356.8h0M392.3 349.6h0M375.8 347.6h0"/>
<path stroke="#e7007e" d="M346.8 360.6h0M337.8 350.7h0M341.6 352.1h0M331.6 359.0h0M345.2 351.9h0M354.3 341.6h0M334.3 356.5h0"/>
<path stroke="#c70098" d="M351.8 347.8h0M353.0 360.2h0M348.0 357.5h0"/>
<path stroke="#fc0061" d="M312.2 352.3h0M322.5 348.8h0M365.1 362.4h0M321.1 352.0h0M332.9 346.2h0M302.1 352.1h0M351.8 359.0h0"/>
<path stroke="#9d22ac" d="M344.9 350.6h0M345.0 360.1h0M366.9 357.9h0M363.9 360.2h0M360.0 340.9h0"/>
<path stroke="#0076f1" d="M378.8 348.7h0M361.7 340.9h0M373.3 350.3h0M392.6 351.9h0M397.7 352.0h0M365.3 349.4h0"/>
<path stroke="#764ed0" d="M360.2 343.7h0M353.1 342.1h0M330.5 353.5h0M351.6 339.4h0M376.9 347.2h0M391.0 349.1h0M353.5 341.0h0M375.5 353.4h0"/>
<path stroke="#f30070" d="M314.3 350.8h0M365.2 342.8h0M310.6 351.9h0M367.2 346.3h0M298.6 351.7h0M327.6 350.0h0M375.3 356.5h0M329.5 347.1h0M346.5 363.5h0M351.4 342.3h0"/>
<path stroke="#fc0061" d="M344.4 353.4h0M325.9 352.1h0M335.8 358.4h0M347.5 358.8h0"/>
<path stroke="#c70098" d="M331.3 346.4h0M365.2 345.6h0M343.0 348.6h0M361.5 358.9h0M341.5 358.1h0M350.2 357.4h0M362.9 350.8h0"/>
<path stroke="#5b5ddd" d="M367.2 353.2h0M359.6 354.8h0M348.0 345.1h0M361.9 343.4h0M361.5 345.0h0"/>
<path stroke="#0081f7" d="M363.7 356.1h0M348.1 348.1h0M392.8 354.5h0M385.8 349.0h0M384.1 347.6h0M366.5 347.8h0"/>
<path stroke="#ff0051" d="M337.9 357.4h0M344.5 364.1h0M330.9 349.2h0M339.5 352.0h0M339.8 360.6h0M324.1 354.0h0M322.7 350.5h0M327.1 347.8h0"/>
<path stroke="#008bfb" d="M363.5 346.8h0M373.8 349.2h0M361.6 353.5h0M378.5 355.2h0M356.8 343.6h0M359.7 360.4h0M351.8 346.7h0M374.2 353.3h0M368.6 341.0h0M358.6 353.4h0M368.9 347.9h0M384.1 352.0h0M361.5 355.0h0M372.3 349.2h0"/>
<path stroke="#b30aa3" d="M339.5 357.6h0M334.3 349.2h0M337.8 343.8h0M366.7 356.4h0M342.7 347.1h0M365.3 350.5h0M365.3 360.1h0"/>
<path stroke="#8a3cc0" d="M329.8 350.3h0M376.9 356.7h0M372.0 358.7h0M351.6 338.1h0"/>
<path stroke="#e7007e" d="M357.0 345.2h0M315.8 350.5h0M359.6 349.2h0M358.9 349.4h0M319.2 351.9h0M322.5 353.3h0M373.6 356.4h0"/>
<path stroke="#306ae9" d="M342.6 353.9h0M333.0 344.9h0M375.7 344.4h0M365.4 354.9h0M349.9 364.5h0M385.5 351.9h0M378.7 350.5h0"/>
<path stroke="#d9008c" d="M350.0 360.4h0M353.4 347.8h0M349.9 353.3h0M358.2 341.1h0M330.9 350.7h0M353.2 345.2h0M343.1 358.2h0M339.4 353.5h0M346.1 353.2h0M323.8 355.7h0M375.5 350.1h0M357.1 346.6h0"/>
<path stroke="#fc0061" d="M339.3 344.8h0M351.5 357.3h0M356.9 356.3h0"/>
<path stroke="#f30070" d="M306.8 351.9h0M364.9 340.1h0M297.0 351.9h0M317.9 354.1h0M353.0 358.9h0"/>
<path stroke="#ff0051" d="M315.3 351.9h0M348.4 338.5h0M344.8 342.2h0M295.3 351.8h0M335.9 356.0h0M341.4 350.2h0M313.4 353.3h0M334.7 353.1h0M330.6 352.0h0M339.4 356.4h0M291.8 351.8h0M344.6 358.7h0M313.8 352.0h0M363.7 343.8h0M343.0 345.9h0M325.9 355.9h0M331.0 354.6h0"/>
<path stroke="#764ed0" d="M371.9 348.3h0M370.2 353.5h0M351.5 360.5h0M344.6 347.7h0"/>
<path stroke="#c70098" d="M354.6 344.1h0M353.1 354.6h0M356.6 357.2h0M356.7 349.3h0M337.8 347.8h0M346.7 346.4h0M341.2 353.6h0M332.7 354.7h0M351.4 353.4h0"/>
<path stroke="#8a3cc0" d="M344.2 345.2h0M347.8 356.1h0M368.7 349.3h0M334.7 354.9h0M350.1 350.8h0M363.6 340.9h0"/>
<path stroke="#0081f7" d="M394.1 352.0h0M369.1 362.9h0M362.9 364.0h0M363.5 347.9h0M338.0 356.0h0"/>
<path stroke="#008bfb" d="M362.0 360.3h0M368.5 358.7h0M360.3 356.1h0M371.8 354.7h0M357.6 355.9h0"/>
<path stroke="#0076f1" d="M390.4 352.0h0M350.2 343.5h0M365.3 353.4h0M387.2 350.0h0M346.4 350.5h0M346.5 349.2h0M356.6 342.5h0M363.4 342.4h0M395.8 352.2h0"/>
<path stroke="#5b5ddd" d="M380.5 349.4h0M380.5 351.8h0M348.2 363.6h0M372.0 356.1h0M341.3 361.1h0M345.9 340.6h0M363.2 349.3h0M380.5 356.0h0M351.5 343.9h0M370.2 360.9h0M362.0 346.5h0M366.9 354.9h0M334.3 344.9h0M344.8 362.7h0M350.8 350.8h0M354.7 361.6h0M356.6 351.8h0"/>
<path stroke="#306ae9" d="M337.8 358.6h0M360.4 358.9h0M369.1 351.9h0"/>
<path stroke="#d9008c" d="M338.0 354.7h0M363.7 362.9h0M332.8 356.1h0M357.0 341.1h0M332.6 352.0h0"/>
<path stroke="#e7007e" d="M352.7 350.5h0M332.7 347.9h0M329.2 348.7h0M318.7 354.4h0M325.6 353.8h0"/>
<path stroke="#9d22ac" d="M332.6 353.5h0M340.9 348.7h0M358.6 357.2h0M337.8 359.6h0M360.2 339.4h0M348.3 349.3h0M349.9 354.6h0M336.0 347.8h0M346.7 343.1h0M349.3 346.4h0"/>
<path stroke="#b30aa3" d="M349.7 363.3h0M344.8 339.9h0M349.9 358.9h0M336.3 350.8h0M337.0 357.1h0M339.3 346.2h0M361.7 350.5h0"/>
<path stroke="#764ed0" d="M334.3 350.6h0M349.6 347.7h0M352.9 353.3h0M331.2 345.2h0M365.2 337.6h0M394.0 354.1h0M385.8 355.3h0M340.9 345.8h0M341.3 356.5h0"/>
<path stroke="#b30aa3" d="M349.8 336.9h0M365.3 346.9h0M333.9 359.1h0M351.5 362.1h0M361.6 363.3h0M329.3 355.2h0M339.8 354.9h0M385.5 346.9h0"/>
<path stroke="#5b5ddd" d="M358.4 358.9h0M371.8 357.1h0M360.2 351.8h0M399.2 351.7h0M360.4 353.6h0M358.4 344.9h0M378.7 356.8h0M348.4 341.5h0M345.9 352.2h0M387.0 348.6h0"/>
<path stroke="#9d22ac" d="M343.0 355.0h0M377.1 348.7h0M365.0 348.3h0M337.9 349.6h0"/>
<path stroke="#8a3cc0" d="M346.4 356.4h0M385.8 354.0h0M355.0 349.1h0M349.9 352.1h0M334.0 346.2h0M358.2 342.4h0M377.2 351.5h0M349.3 340.6h0M358.3 361.6h0M341.4 347.5h0"/>
<path stroke="#d9008c" d="M349.9 338.1h0"/>
<path stroke="#c70098" d="M368.4 357.3h0M361.9 357.7h0M327.7 353.9h0M317.4 350.0h0M370.0 346.1h0M331.0 357.4h0M353.3 351.9h0"/>
<path stroke="#0076f1" d="M382.2 355.2h0M383.9 349.2h0M346.5 342.0h0M365.3 366.3h0M391.0 350.5h0M370.1 347.6h0M355.2 360.0h0M364.0 345.0h0"/>
<path stroke="#ff0051" d="M358.5 347.6h0M363.4 357.4h0M332.7 359.1h0M356.6 355.1h0M353.2 356.0h0M355.0 362.7h0"/>
<path stroke="#fc0061" d="M348.6 354.7h0M354.5 363.9h0M334.7 358.0h0"/>
<path stroke="#306ae9" d="M349.7 349.2h0M355.2 343.1h0M338.1 353.1h0M400.9 351.9h0M365.4 338.6h0M371.8 345.1h0M356.3 347.9h0M367.0 352.0h0"/>
<path stroke="#008bfb" d="M360.2 362.9h0M375.1 358.1h0M382.1 353.8h0M380.0 353.5h0M365.3 363.8h0M368.2 361.5h0M383.8 356.2h0M364.7 365.1h0M375.0 352.0h0M402.3 352.0h0M376.7 350.2h0M349.7 339.7h0"/>
<path stroke="#f30070" d="M356.6 350.6h0M320.7 349.7h0M335.8 348.9h0M341.3 343.0h0M347.6 346.5h0M300.3 351.8h0"/>
<path stroke="#0081f7" d="M376.9 355.3h0M382.1 352.0h0M363.4 361.9h0M344.3 356.1h0M359.8 345.3h0M370.0 354.7h0M390.9 354.7h0M351.8 352.1h0M382.2 348.7h0M387.6 351.8h0"/>
<path stroke="#e7007e" d="M344.8 357.3h0M351.6 366.1h0M309.1 351.8h0M324.5 348.1h0M319.1 350.0h0M367.3 349.0h0M324.4 351.9h0"/>
<path stroke="#8a3cc0" d="M359.8 397.5h0M359.8 390.5h0M354.9 407.4h0M347.9 388.9h0M356.5 381.0h0M351.1 397.6h0M356.6 397.9h0"/>
<path stroke="#0081f7" d="M361.6 388.2h0M337.4 398.0h0M337.6 396.3h0M305.2 394.9h0M345.8 400.3h0M315.8 396.8h0M339.9 404.0h0M325.8 394.9h0M336.3 400.1h0"/>
<path stroke="#f30070" d="M359.8 400.0h0M373.7 395.0h0M388.4 396.8h0M351.5 405.3h0M384.1 394.9h0M348.2 390.7h0"/>
<path stroke="#c70098" d="M366.5 396.4h0M373.3 388.3h0M351.2 404.2h0M375.4 397.7h0M348.9 404.9h0M370.3 384.4h0M358.4 385.6h0M369.6 385.8h0M358.2 404.6h0"/>
<path stroke="#e7007e" d="M383.5 398.8h0M369.9 398.8h0M382.0 392.0h0M368.4 393.2h0M363.2 408.8h0M371.7 383.7h0"/>
<path stroke="#fc0061" d="M355.3 401.9h0M393.6 394.9h0M374.9 396.1h0"/>
<path stroke="#d9008c" d="M373.6 386.9h0M351.7 385.9h0M376.7 388.2h0M376.7 392.5h0M376.7 397.4h0M355.1 390.9h0"/>
<path stroke="#b30aa3" d="M363.1 397.6h0M364.8 384.6h0M371.6 406.2h0M369.6 395.0h0M380.2 396.4h0M351.5 393.7h0"/>
<path stroke="#306ae9" d="M349.4 390.7h0M355.4 389.3h0M361.6 406.6h0M346.3 389.4h0"/>
<path stroke="#ff0051" d="M353.0 406.3h0M366.7 399.1h0M410.5 394.9h0M379.0 389.9h0M361.0 403.5h0M380.2 400.2h0M361.5 385.0h0M381.7 395.0h0M355.0 393.9h0M356.2 388.3h0M371.4 399.1h0M397.2 394.7h0"/>
<path stroke="#0076f1" d="M358.0 393.9h0M329.2 397.0h0M356.4 395.0h0"/>
<path stroke="#764ed0" d="M349.6 400.4h0M344.2 397.7h0M359.7 392.3h0M341.0 390.8h0M353.8 402.0h0"/>
<path stroke="#9d22ac" d="M366.7 401.7h0M373.2 399.0h0M368.6 385.3h0M349.7 386.7h0M356.2 403.1h0M344.8 388.8h0M344.6 396.0h0"/>
<path stroke="#5b5ddd" d="M336.0 394.7h0M353.2 393.6h0M337.7 402.4h0M356.1 393.6h0M334.4 390.2h0M361.5 393.5h0M359.3 404.3h0"/>
<path stroke="#008bfb" d="M334.1 395.2h0M339.2 396.1h0M351.3 409.3h0M347.8 397.8h0M312.6 396.5h0M325.8 391.9h0M339.3 393.3h0M337.7 395.0h0M346.1 388.4h0M344.3 402.2h0M335.8 393.7h0M290.3 394.8h0M327.8 397.0h0M302.0 394.8h0M322.5 394.7h0M320.7 392.4h0"/>
<path stroke="#5b5ddd" d="M368.1 400.5h0M359.8 386.9h0M361.3 395.1h0M361.8 383.4h0"/>
<path stroke="#fc0061" d="M356.4 404.6h0M358.5 403.0h0M351.4 383.3h0"/>
<path stroke="#0081f7" d="M326.0 393.0h0M337.3 400.7h0M310.4 393.6h0M370.1 389.9h0M363.2 393.4h0M308.3 394.9h0M317.1 396.5h0M355.1 399.0h0M325.8 396.5h0"/>
<path stroke="#ff0051" d="M375.2 389.7h0M405.5 394.9h0M373.1 389.4h0M366.4 405.6h0M375.1 401.8h0M375.1 387.1h0M353.6 395.0h0M395.0 395.2h0"/>
<path stroke="#d9008c" d="M374.8 400.3h0M344.7 403.4h0M361.9 390.8h0M371.6 390.5h0M357.7 396.0h0M354.8 408.7h0"/>
<path stroke="#008bfb" d="M315.4 392.8h0M356.6 406.0h0M293.6 394.7h0M341.4 397.7h0M324.3 397.1h0M368.2 402.9h0M361.7 399.0h0M325.8 398.2h0M288.6 394.8h0M318.8 395.2h0M332.7 398.2h0M336.2 390.9h0M356.4 402.0h0M368.0 389.5h0M332.6 393.3h0M336.3 396.2h0M347.8 387.8h0M370.4 402.9h0M330.9 398.4h0"/>
<path stroke="#9d22ac" d="M340.7 402.2h0M356.4 386.6h0M343.1 402.2h0M378.8 397.9h0M349.6 399.4h0"/>
<path stroke="#764ed0" d="M372.1 389.3h0M351.7 387.2h0M365.1 394.7h0M366.6 406.9h0"/>
<path stroke="#c70098" d="M337.4 390.7h0M377.0 398.8h0"/>
<path stroke="#e7007e" d="M351.2 395.0h0M373.5 400.2h0M351.7 400.1h0M346.4 390.9h0M382.3 397.7h0M375.3 399.0h0M367.9 386.9h0M371.5 385.1h0M380.1 397.6h0"/>
<path stroke="#0076f1" d="M339.3 391.8h0M368.2 396.6h0M339.6 399.2h0M349.5 397.9h0M360.2 388.5h0M351.4 408.0h0M333.9 398.0h0"/>
<path stroke="#f30070" d="M354.4 397.6h0M392.2 395.0h0M383.5 396.8h0M385.2 397.1h0M378.4 401.3h0M376.8 387.0h0"/>
<path stroke="#b30aa3" d="M364.7 387.3h0M363.4 404.6h0M361.0 404.9h0M378.9 388.3h0M351.3 392.3h0M366.7 392.3h0M351.4 389.9h0"/>
<path stroke="#306ae9" d="M347.8 393.5h0M334.0 396.7h0M345.9 392.4h0M332.7 396.7h0M351.4 398.8h0M332.9 391.7h0M345.7 394.9h0"/>
<path stroke="#8a3cc0" d="M343.4 398.0h0M341.2 396.4h0M365.0 388.9h0M351.2 401.3h0M363.2 399.1h0M371.9 386.5h0M368.2 392.3h0M354.9 402.9h0M359.8 393.7h0"/>
<path stroke="#d9008c" d="M371.9 396.4h0M365.0 385.9h0M382.4 399.4h0M383.5 391.4h0M373.6 401.9h0M354.5 382.5h0"/>
<path stroke="#fc0061" d="M376.8 395.1h0M385.2 392.6h0M353.2 385.1h0M382.4 396.5h0"/>
<path stroke="#008bfb" d="M312.3 393.6h0M358.4 399.1h0M297.2 395.3h0M363.4 379.8h0M354.9 386.5h0M317.4 393.5h0M332.5 390.3h0M330.8 400.0h0M359.7 402.8h0M340.7 394.6h0M342.5 403.6h0M304.0 395.0h0M335.7 392.1h0M311.9 394.9h0M349.4 389.4h0M338.9 402.4h0M310.5 395.0h0M300.1 395.1h0"/>
<path stroke="#764ed0" d="M371.6 393.3h0M344.4 392.1h0M358.0 397.3h0M359.8 396.2h0M360.2 401.3h0M351.3 388.6h0"/>
<path stroke="#ff0051" d="M375.5 392.3h0M380.3 389.6h0M378.4 393.3h0M352.9 392.0h0M388.2 393.2h0M361.3 389.1h0M402.0 394.9h0M376.8 401.6h0M375.0 394.7h0M386.8 394.9h0M378.6 391.8h0M349.9 404.7h0M376.4 403.1h0"/>
<path stroke="#0076f1" d="M342.9 392.2h0M335.8 399.1h0M334.3 399.8h0M366.7 389.5h0M323.9 392.7h0M329.1 395.0h0M344.5 393.6h0M327.4 393.2h0"/>
<path stroke="#f30070" d="M368.8 401.7h0M385.0 395.0h0M352.6 396.2h0M351.5 384.3h0"/>
<path stroke="#9d22ac" d="M356.1 385.6h0M373.8 392.1h0M347.7 384.9h0M337.8 399.3h0M353.4 389.1h0M373.3 405.2h0M358.1 389.4h0M358.0 400.1h0M370.0 387.2h0"/>
<path stroke="#b30aa3" d="M357.8 391.0h0M368.0 390.8h0M370.2 403.9h0"/>
<path stroke="#e7007e" d="M380.4 398.5h0M373.1 385.4h0M363.3 391.7h0"/>
<path stroke="#0081f7" d="M365.0 403.8h0M332.4 399.6h0M346.4 393.6h0M322.6 396.9h0M361.1 396.5h0M348.2 396.3h0M317.5 395.0h0M329.0 391.4h0"/>
<path stroke="#5b5ddd" d="M364.5 397.6h0M370.2 401.5h0M356.5 407.4h0"/>
<path stroke="#8a3cc0" d="M329.2 398.4h0M354.9 404.4h0M361.2 397.5h0M356.0 396.3h0M366.6 402.9h0M366.4 400.4h0"/>
<path stroke="#306ae9" d="M362.9 381.4h0M339.4 395.1h0M334.7 391.7h0M330.6 391.5h0M354.5 384.0h0M348.2 402.1h0M347.8 386.4h0M339.3 388.9h0M330.9 395.1h0M350.1 393.6h0M327.2 391.0h0"/>
<path stroke="#c70098" d="M353.0 386.6h0M358.0 382.9h0M356.5 408.6h0"/>
<path stroke="#764ed0" d="M352.6 397.6h0M363.3 401.9h0M368.6 395.0h0M371.6 392.4h0"/>
<path stroke="#b30aa3" d="M368.7 405.8h0M368.4 388.2h0M351.1 406.6h0"/>
<path stroke="#008bfb" d="M364.9 400.5h0M341.0 399.5h0M356.3 383.9h0M298.7 394.7h0M342.7 389.0h0M331.4 393.3h0M336.3 397.6h0M315.4 394.8h0M361.6 402.1h0M344.4 395.0h0M355.9 410.0h0M295.4 394.9h0M276.6 394.9h0M337.9 392.0h0M291.6 394.8h0M346.2 401.4h0"/>
<path stroke="#8a3cc0" d="M363.3 391.0h0M353.2 390.6h0M366.9 382.7h0M359.5 389.5h0M354.4 405.9h0M362.4 396.4h0M376.8 400.2h0M340.9 387.9h0"/>
<path stroke="#9d22ac" d="M363.0 394.9h0M358.3 392.1h0M348.3 399.2h0M370.0 392.4h0M378.5 399.6h0M376.6 390.9h0"/>
<path stroke="#f30070" d="M369.8 397.6h0M358.3 405.4h0M363.5 407.2h0M358.2 387.0h0M365.1 391.9h0M363.0 383.9h0M371.6 402.0h0M380.2 390.9h0M366.2 388.0h0M357.7 401.6h0"/>
<path stroke="#d9008c" d="M380.3 394.7h0M354.8 387.9h0M364.9 399.3h0M352.8 383.6h0M366.6 386.7h0M377.0 389.7h0M371.3 397.7h0M342.7 390.5h0M378.4 394.9h0"/>
<path stroke="#306ae9" d="M339.0 397.8h0M363.2 385.4h0M365.0 393.7h0"/>
<path stroke="#5b5ddd" d="M341.4 393.3h0M365.4 390.6h0M359.8 399.0h0M368.2 404.5h0M349.7 392.3h0M352.9 400.5h0M341.3 391.9h0M344.4 385.9h0M356.4 379.8h0M339.5 390.4h0M339.6 387.5h0M345.0 399.3h0M346.5 397.6h0"/>
<path stroke="#fc0061" d="M390.2 395.0h0M362.9 386.7h0M366.9 404.2h0M378.6 396.2h0M386.9 392.6h0"/>
<path stroke="#e7007e" d="M381.3 390.4h0M381.9 393.2h0M373.5 384.0h0M359.7 384.4h0M368.3 397.3h0"/>
<path stroke="#0081f7" d="M340.8 388.7h0M310.8 396.4h0M341.0 400.4h0M307.3 394.7h0M330.6 390.1h0"/>
<path stroke="#c70098" d="M363.3 410.0h0M348.3 395.0h0M356.6 392.0h0M366.4 394.9h0"/>
<path stroke="#0076f1" d="M342.9 400.6h0M346.0 396.3h0M327.5 394.8h0M365.2 402.4h0M327.8 398.5h0M346.4 404.2h0M337.8 387.5h0"/>
<path stroke="#ff0051" d="M373.4 397.6h0M387.3 397.0h0M389.0 395.0h0M372.2 400.6h0M348.9 394.8h0M375.6 388.5h0M361.0 400.8h0"/>
<path stroke="#d9008c" d="M373.3 396.2h0M370.4 393.6h0M362.9 389.3h0M361.3 392.3h0M371.7 404.9h0M362.9 382.5h0"/>
<path stroke="#0076f1" d="M342.6 399.2h0M319.0 396.6h0M370.0 396.0h0M332.5 394.9h0M346.3 385.9h0M355.0 392.4h0M351.1 402.9h0M334.3 393.1h0M373.3 390.9h0"/>
<path stroke="#306ae9" d="M350.0 401.8h0M351.1 381.7h0M369.7 400.2h0M346.0 398.9h0M369.7 390.9h0M362.2 386.4h0M337.9 389.0h0"/>
<path stroke="#c70098" d="M344.4 400.5h0M373.5 404.2h0M359.9 385.6h0M376.9 396.1h0M375.4 393.6h0M362.9 388.2h0M365.0 396.4h0M350.7 396.1h0M348.2 403.4h0M339.9 385.9h0M354.7 385.2h0M377.3 393.8h0M367.9 383.9h0"/>
<path stroke="#5b5ddd" d="M337.8 393.8h0M343.1 386.3h0M335.9 389.4h0"/>
<path stroke="#ff0051" d="M368.1 399.4h0M364.7 405.1h0M371.7 394.7h0M369.8 388.4h0M371.4 387.9h0"/>
<path stroke="#764ed0" d="M344.5 387.9h0M366.4 385.5h0M359.9 395.0h0M366.6 384.0h0"/>
<path stroke="#fc0061" d="M366.4 397.4h0M373.4 393.8h0M383.8 393.0h0M370.1 405.1h0M363.0 400.4h0M379.9 392.1h0M358.4 395.2h0"/>
<path stroke="#0081f7" d="M320.7 397.5h0M345.8 386.7h0M324.1 394.9h0M330.6 396.6h0M356.3 390.9h0M348.0 400.4h0M359.8 405.3h0M349.5 388.0h0"/>
<path stroke="#e7007e" d="M351.5 391.3h0M363.2 403.3h0M366.6 391.0h0M366.6 393.6h0M355.9 382.3h0"/>
<path stroke="#008bfb" d="M363.2 406.2h0M349.7 403.0h0M342.7 387.4h0M342.8 394.7h0M358.1 384.0h0M313.7 395.1h0M318.9 393.1h0M322.4 392.9h0M281.6 394.9h0M329.4 393.2h0M356.4 399.2h0M354.9 395.1h0M351.6 380.5h0M353.1 404.9h0M350.0 385.1h0M352.7 403.3h0M320.7 394.7h0M346.3 402.7h0M342.8 393.3h0"/>
<path stroke="#f30070" d="M356.5 389.5h0M380.5 393.6h0"/>
<path stroke="#b30aa3" d="M344.3 390.5h0M374.6 403.0h0M342.3 396.4h0M358.1 407.0h0"/>
<path stroke="#9d22ac" d="M339.6 400.7h0M356.5 400.6h0M349.4 396.3h0M354.6 400.3h0M353.1 388.1h0M373.4 403.0h0M354.7 396.4h0"/>
<path stroke="#8a3cc0" d="M375.0 391.0h0M355.0 381.1h0M357.9 388.3h0M348.0 392.1h0M371.6 403.0h0M352.9 399.1h0"/>
<path stroke="#ff0051" d="M402.4 437.7h0M390.2 439.7h0M397.4 437.8h0"/>
<path stroke="#764ed0" d="M347.7 443.5h0M351.8 431.0h0M348.1 441.7h0M340.6 441.9h0M366.7 448.7h0M344.3 432.1h0M355.0 446.4h0M363.3 448.1h0M339.3 433.6h0M381.5 439.4h0"/>
<path stroke="#0081f7" d="M375.0 440.5h0M314.0 439.3h0M356.5 445.2h0M351.1 433.8h0M332.3 434.3h0M302.0 437.8h0M354.9 432.1h0"/>
<path stroke="#9d22ac" d="M344.3 430.8h0M341.0 440.5h0M351.0 445.1h0M373.6 441.3h0M382.3 434.7h0M363.4 431.4h0"/>
<path stroke="#d9008c" d="M361.2 436.6h0M349.7 447.6h0"/>
<path stroke="#f30070" d="M386.4 438.0h0"/>
<path stroke="#e7007e" d="M365.2 427.5h0"/>
<path stroke="#5b5ddd" d="M364.6 437.7h0M385.3 435.7h0M371.4 437.8h0M336.1 444.8h0M348.0 435.3h0M351.2 443.4h0M356.6 439.2h0M342.4 425.9h0M359.5 445.6h0M373.2 434.9h0"/>
<path stroke="#fc0061" d="M353.0 442.1h0M393.9 437.8h0M387.2 436.0h0"/>
<path stroke="#b30aa3" d="M356.9 425.1h0M350.9 440.8h0M366.2 435.2h0M359.5 436.7h0M384.8 440.2h0M357.7 444.5h0"/>
<path stroke="#c70098" d="M349.7 440.4h0M366.5 446.3h0M366.7 429.8h0"/>
<path stroke="#008bfb" d="M353.2 437.9h0M323.9 434.5h0M356.8 429.4h0M352.8 425.2h0M341.2 445.6h0M365.2 448.4h0M366.9 440.7h0M329.2 437.7h0M356.0 435.1h0M315.7 438.1h0M323.9 436.5h0M317.9 440.4h0M326.0 436.2h0M351.4 450.6h0M361.1 431.2h0M339.8 445.5h0M352.9 443.4h0M364.6 434.0h0M330.4 439.6h0"/>
<path stroke="#306ae9" d="M364.6 439.1h0M370.3 445.3h0M368.5 448.4h0M370.0 437.9h0M342.2 434.0h0M358.6 433.8h0M378.2 437.8h0M336.5 434.9h0M359.8 437.8h0M346.1 438.9h0M351.3 449.6h0M332.5 443.0h0M352.6 433.6h0M366.7 434.0h0M382.0 436.1h0"/>
<path stroke="#8a3cc0" d="M354.9 436.1h0M378.5 434.7h0M344.7 433.6h0M379.1 436.1h0M339.6 437.6h0M361.5 447.0h0"/>
<path stroke="#0076f1" d="M356.5 450.6h0M373.5 442.4h0M344.5 436.6h0M334.0 434.0h0M371.8 444.0h0M337.6 444.5h0M332.4 433.0h0M344.4 440.8h0M356.3 438.2h0M358.0 424.4h0"/>
<path stroke="#fc0061" d="M363.2 439.3h0M388.5 439.3h0"/>
<path stroke="#8a3cc0" d="M342.9 428.9h0M356.3 430.8h0M354.8 435.1h0M335.9 436.3h0M345.6 435.0h0M342.6 430.0h0M349.6 446.0h0M361.4 435.2h0"/>
<path stroke="#0081f7" d="M359.9 435.2h0M361.7 448.5h0M344.8 441.9h0M330.8 432.6h0M375.4 431.8h0M349.6 437.9h0M325.3 437.9h0M317.6 435.3h0"/>
<path stroke="#e7007e" d="M364.9 430.1h0M352.6 452.4h0M351.5 425.0h0M349.9 442.1h0M374.9 436.5h0"/>
<path stroke="#b30aa3" d="M351.3 446.6h0M383.6 435.2h0M358.0 431.2h0"/>
<path stroke="#c70098" d="M342.7 439.0h0M369.9 433.3h0M366.4 444.5h0M344.1 443.5h0"/>
<path stroke="#008bfb" d="M326.3 439.6h0M366.9 427.0h0M366.6 441.8h0M348.0 436.5h0M359.5 440.4h0M347.9 440.8h0M373.5 443.7h0M352.5 449.2h0M359.8 424.7h0M312.1 439.4h0M358.2 447.1h0M333.8 440.5h0M339.3 440.8h0M334.4 441.8h0M362.9 443.3h0M321.7 436.3h0M330.5 442.7h0M336.2 430.8h0M351.6 429.4h0M363.6 425.9h0M351.3 434.8h0M346.3 447.3h0M334.2 433.0h0M285.4 437.9h0M332.5 436.1h0M347.7 444.5h0M358.1 448.3h0M368.4 436.5h0"/>
<path stroke="#306ae9" d="M341.1 444.2h0M361.7 441.9h0M339.3 443.6h0M342.7 451.0h0M374.8 438.0h0M353.3 440.4h0M345.8 436.5h0M370.2 436.2h0M351.9 426.3h0M371.7 440.8h0"/>
<path stroke="#f30070" d="M388.7 436.5h0"/>
<path stroke="#d9008c" d="M355.1 443.8h0M354.6 440.6h0M348.2 433.8h0"/>
<path stroke="#0076f1" d="M347.9 431.0h0M331.1 437.9h0M355.0 445.3h0M359.5 431.0h0M337.5 436.7h0M356.2 433.5h0M345.6 438.0h0M361.4 445.9h0M372.0 436.4h0M378.5 439.3h0"/>
<path stroke="#5b5ddd" d="M361.1 438.0h0M354.5 433.4h0M367.9 432.2h0M336.0 442.0h0M368.4 430.3h0M359.8 433.7h0M371.7 431.8h0M350.1 433.7h0M354.7 447.9h0"/>
<path stroke="#9d22ac" d="M369.9 442.3h0M353.1 436.3h0M348.0 432.5h0M349.4 432.3h0M381.8 441.2h0M361.4 444.4h0M361.8 429.7h0"/>
<path stroke="#764ed0" d="M346.3 448.5h0M365.2 441.9h0M351.5 428.1h0M341.2 436.5h0"/>
<path stroke="#b30aa3" d="M356.0 446.4h0M354.8 427.5h0"/>
<path stroke="#0081f7" d="M311.8 436.1h0M350.8 436.3h0M364.9 436.5h0M320.1 436.3h0M359.8 446.9h0M318.4 440.5h0M340.8 434.0h0M342.2 447.0h0M329.2 434.6h0M329.6 439.6h0M320.6 438.0h0M327.1 437.7h0M362.8 433.9h0M346.3 431.1h0M371.9 433.4h0M348.0 448.8h0"/>
<path stroke="#764ed0" d="M359.5 426.1h0M357.8 427.4h0M362.9 435.1h0M353.3 445.1h0M380.0 437.7h0M349.9 436.6h0M380.1 435.3h0M356.1 442.0h0M360.0 429.9h0M373.8 431.8h0M343.0 424.4h0"/>
<path stroke="#306ae9" d="M366.1 447.4h0M370.0 440.9h0M343.0 427.2h0M344.2 429.4h0M373.6 436.3h0M353.0 450.5h0M363.3 444.5h0M342.2 437.5h0M344.0 437.8h0M346.0 444.6h0M366.8 436.4h0M370.0 435.0h0"/>
<path stroke="#fc0061" d="M390.3 435.8h0M352.8 424.0h0M366.9 449.8h0"/>
<path stroke="#9d22ac" d="M375.5 439.3h0M363.2 429.8h0M371.8 442.6h0"/>
<path stroke="#c70098" d="M346.4 443.2h0M373.1 439.4h0M359.8 439.1h0"/>
<path stroke="#0076f1" d="M354.7 426.2h0M363.4 432.4h0M361.5 433.8h0M362.9 437.7h0"/>
<path stroke="#008bfb" d="M337.9 431.4h0M337.2 439.4h0M315.5 436.0h0M323.7 441.2h0M358.0 437.7h0M340.5 428.5h0M318.5 438.0h0M320.5 435.0h0M342.5 441.8h0M366.2 426.0h0M339.4 430.4h0M354.3 430.6h0M325.5 441.5h0M327.4 441.4h0M331.1 436.4h0M314.1 436.5h0M332.5 441.1h0M322.3 434.8h0M308.9 438.2h0M345.8 427.0h0M348.0 439.4h0M368.1 437.8h0"/>
<path stroke="#5b5ddd" d="M365.0 428.7h0M346.3 446.0h0M366.7 437.9h0M376.8 442.2h0M361.4 428.5h0M357.7 449.6h0M347.7 447.3h0M373.6 433.1h0M374.6 435.1h0M356.6 427.8h0M356.5 447.9h0M379.8 440.3h0"/>
<path stroke="#8a3cc0" d="M344.6 439.4h0M363.4 428.6h0M348.1 428.3h0M368.8 443.5h0M368.0 433.4h0"/>
<path stroke="#e7007e" d="M354.7 439.2h0M359.8 449.7h0"/>
<path stroke="#f30070" d="M368.1 429.1h0"/>
<path stroke="#ff0051" d="M391.2 438.0h0M353.1 428.0h0"/>
<path stroke="#d9008c" d="M351.4 438.0h0M357.6 436.5h0M365.2 440.4h0M368.3 442.4h0"/>
<path stroke="#ff0051" d="M395.6 438.0h0M398.9 437.8h0M366.5 428.5h0M379.2 433.4h0M370.2 444.0h0"/>
<path stroke="#c70098" d="M359.7 448.1h0M366.7 432.4h0M346.1 432.3h0"/>
<path stroke="#fc0061" d="M359.5 442.0h0"/>
<path stroke="#008bfb" d="M323.9 439.8h0M352.8 426.5h0M341.0 431.2h0M346.1 450.0h0M348.0 425.7h0M347.8 429.6h0M320.4 439.2h0M322.7 440.7h0M354.7 451.0h0M313.6 437.6h0M337.3 432.5h0M371.6 439.3h0M336.2 443.6h0M356.1 432.3h0M300.1 437.7h0M307.2 437.8h0M354.5 429.3h0M364.6 447.0h0M345.8 433.5h0M305.6 437.6h0M352.8 434.8h0M330.5 434.6h0M324.8 438.1h0M343.2 440.6h0"/>
<path stroke="#306ae9" d="M338.9 434.7h0M378.4 440.8h0M360.0 428.5h0M342.6 436.7h0M346.1 440.7h0M340.7 439.1h0M376.9 433.6h0M368.0 440.7h0"/>
<path stroke="#f30070" d="M349.4 429.1h0"/>
<path stroke="#d9008c" d="M349.1 445.0h0M358.2 428.6h0M363.0 447.2h0M356.4 440.8h0"/>
<path stroke="#9d22ac" d="M340.9 447.0h0M363.3 440.5h0M354.8 425.2h0M354.8 442.0h0M335.9 437.9h0"/>
<path stroke="#0081f7" d="M318.8 435.5h0M337.6 440.6h0M377.0 443.2h0M315.5 440.1h0M329.2 441.0h0M322.5 437.8h0M317.1 437.8h0M338.9 442.5h0M354.2 449.5h0M362.9 442.0h0M344.7 434.9h0M331.0 441.1h0M328.8 435.8h0"/>
<path stroke="#8a3cc0" d="M364.8 435.3h0M353.1 439.3h0M367.0 439.4h0M358.0 429.8h0M358.0 426.0h0M340.9 435.5h0M348.4 438.2h0M373.7 437.6h0"/>
<path stroke="#b30aa3" d="M364.6 444.1h0M351.4 432.0h0M358.2 446.0h0M363.2 445.6h0M347.9 450.1h0M344.6 447.8h0M364.8 445.9h0"/>
<path stroke="#0076f1" d="M340.5 432.4h0M337.5 435.1h0M342.5 448.5h0M334.6 439.5h0"/>
<path stroke="#5b5ddd" d="M339.1 431.9h0M352.9 446.2h0M352.9 432.1h0M368.5 439.5h0M358.0 439.3h0M343.9 428.1h0M375.0 442.4h0M351.2 447.6h0"/>
<path stroke="#764ed0" d="M344.6 446.6h0M353.0 430.8h0M383.9 437.7h0M364.8 443.4h0M351.6 442.2h0M342.5 443.2h0M361.6 440.7h0"/>
<path stroke="#e7007e" d="M386.8 440.0h0M356.4 436.4h0M369.9 432.0h0"/>
<path stroke="#0081f7" d="M339.2 439.0h0M326.9 439.5h0M334.2 435.2h0M361.6 443.1h0M327.5 435.8h0M322.4 439.0h0M370.0 439.3h0M320.9 441.0h0M369.9 430.5h0"/>
<path stroke="#5b5ddd" d="M368.5 446.4h0M349.8 430.9h0M337.1 438.0h0M359.5 427.3h0M346.0 430.0h0M363.4 427.2h0M351.1 439.3h0"/>
<path stroke="#9d22ac" d="M383.2 439.1h0M360.3 432.6h0M368.2 434.7h0M352.6 429.5h0"/>
<path stroke="#b30aa3" d="M359.6 444.4h0M366.4 443.2h0M375.3 443.9h0M357.7 435.3h0M371.3 435.0h0M356.6 443.6h0M358.4 443.1h0M357.9 442.0h0"/>
<path stroke="#c70098" d="M349.7 428.2h0M377.1 439.2h0"/>
<path stroke="#e7007e" d="M388.5 437.7h0M361.5 432.7h0M385.2 437.8h0"/>
<path stroke="#ff0051" d="M366.5 431.0h0M391.8 437.9h0M400.8 438.0h0"/>
<path stroke="#fc0061" d="M349.7 443.6h0M377.0 432.2h0"/>
<path stroke="#d9008c" d="M356.6 426.6h0M361.6 439.2h0M337.7 443.3h0M352.6 447.7h0"/>
<path stroke="#8a3cc0" d="M375.3 433.7h0M368.0 427.4h0M346.5 441.7h0M354.6 437.7h0"/>
<path stroke="#0076f1" d="M327.8 434.5h0M365.4 431.5h0M341.1 437.7h0M342.4 444.5h0M332.3 437.9h0M381.8 437.8h0M336.0 440.9h0M340.9 443.2h0M344.1 445.1h0"/>
<path stroke="#764ed0" d="M361.6 427.5h0M342.4 435.2h0M383.7 436.4h0M337.3 433.9h0M384.0 440.5h0M358.2 450.9h0M346.0 425.8h0M342.7 432.4h0M378.9 442.3h0M376.7 436.7h0"/>
<path stroke="#306ae9" d="M346.3 428.3h0M368.2 445.5h0M342.6 445.6h0M365.5 432.6h0M332.7 439.7h0M363.6 449.9h0M363.5 436.6h0"/>
<path stroke="#008bfb" d="M376.5 440.7h0M334.4 438.0h0M335.8 433.6h0M312.1 438.0h0M334.2 443.2h0M341.0 430.0h0M342.7 431.3h0M350.2 439.2h0M376.5 435.2h0M310.2 437.7h0M356.2 449.1h0M291.8 437.9h0M349.2 435.0h0M358.7 432.7h0M303.4 437.7h0M376.9 437.9h0M343.1 449.9h0M348.3 446.1h0M360.3 443.0h0M334.4 436.4h0M338.1 441.7h0M336.1 432.3h0M338.8 436.4h0M348.4 427.0h0M407.5 437.9h0M325.3 434.3h0M358.2 440.4h0M359.5 450.8h0M336.2 439.2h0"/>
<path stroke="#008bfb" d="M363.3 522.3h0M342.3 530.3h0M345.6 516.4h0M329.0 522.6h0M361.2 534.3h0M353.1 518.3h0M407.5 523.7h0M364.7 518.5h0M349.5 532.9h0M327.2 525.2h0M342.4 529.0h0"/>
<path stroke="#ff0051" d="M387.1 523.7h0M375.2 517.1h0M354.1 526.6h0M378.3 526.8h0M359.6 526.7h0M328.9 527.8h0M350.5 518.4h0M354.4 532.2h0M376.5 528.1h0M369.5 527.6h0"/>
<path stroke="#e7007e" d="M395.6 523.7h0M387.3 522.2h0M381.6 523.6h0M368.4 526.4h0M364.5 527.7h0"/>
<path stroke="#8a3cc0" d="M334.0 529.5h0M359.7 529.4h0M345.7 522.5h0M357.7 515.2h0M338.9 516.6h0M369.4 515.9h0M339.2 532.3h0"/>
<path stroke="#5b5ddd" d="M328.8 526.3h0M362.9 523.9h0M361.5 523.9h0M351.3 514.4h0"/>
<path stroke="#d9008c" d="M359.7 519.3h0M381.7 522.1h0M357.5 528.3h0M374.9 530.6h0M376.6 521.2h0"/>
<path stroke="#f30070" d="M392.1 523.8h0M352.5 532.2h0M335.8 530.6h0M359.5 532.1h0M357.8 519.7h0M343.8 522.4h0M368.7 517.6h0M387.6 525.0h0"/>
<path stroke="#306ae9" d="M361.2 519.9h0M332.2 528.3h0M347.3 516.5h0M340.7 528.1h0M375.4 525.4h0M342.6 522.4h0M356.2 530.7h0M363.1 533.9h0M335.5 520.7h0M364.9 512.1h0M348.0 528.0h0"/>
<path stroke="#0081f7" d="M343.9 529.7h0M349.7 515.0h0M335.9 518.2h0"/>
<path stroke="#0076f1" d="M325.2 527.0h0M351.0 528.9h0M334.4 516.6h0M373.2 519.3h0M324.0 522.2h0M335.7 523.6h0"/>
<path stroke="#764ed0" d="M366.6 528.1h0M335.4 522.5h0M365.1 517.1h0"/>
<path stroke="#b30aa3" d="M374.9 523.9h0M369.6 525.0h0M350.6 519.6h0M331.1 517.2h0M362.7 536.7h0"/>
<path stroke="#c70098" d="M347.2 522.3h0M333.5 530.4h0M344.5 516.6h0M352.6 510.0h0M370.2 531.6h0M351.1 534.6h0M359.3 522.4h0M354.3 529.1h0M350.9 537.1h0"/>
<path stroke="#9d22ac" d="M378.2 519.1h0M368.1 513.5h0M346.0 534.3h0M330.3 523.7h0M380.1 519.1h0M359.8 537.0h0M320.0 524.0h0"/>
<path stroke="#fc0061" d="M325.5 525.2h0M363.0 530.8h0M349.5 520.9h0M366.5 515.5h0"/>
<path stroke="#b30aa3" d="M381.3 520.9h0M351.2 510.3h0M356.2 533.6h0M361.4 512.0h0M344.1 526.7h0M355.9 532.3h0"/>
<path stroke="#306ae9" d="M337.3 522.1h0M356.6 522.4h0M364.4 530.4h0"/>
<path stroke="#9d22ac" d="M369.7 523.8h0M313.4 523.6h0M364.4 526.1h0M349.4 523.7h0M344.0 513.4h0M347.5 520.9h0"/>
<path stroke="#f30070" d="M355.0 525.2h0M389.1 525.2h0M361.2 522.4h0M344.0 532.5h0"/>
<path stroke="#5b5ddd" d="M340.9 519.3h0M338.9 519.4h0M374.0 522.5h0M349.3 522.6h0M327.1 523.6h0M345.9 523.9h0M360.9 517.2h0"/>
<path stroke="#c70098" d="M354.5 521.1h0M367.9 528.2h0M345.9 518.2h0M328.5 521.1h0M371.6 528.9h0M364.9 513.2h0"/>
<path stroke="#8a3cc0" d="M344.0 533.8h0M326.9 521.0h0M342.3 519.7h0M327.3 519.5h0M366.7 529.2h0M347.0 518.3h0M363.0 520.9h0M330.0 522.5h0"/>
<path stroke="#e7007e" d="M378.8 522.4h0M353.1 536.1h0M331.8 522.4h0M378.8 525.3h0M369.7 519.8h0"/>
<path stroke="#d9008c" d="M369.7 529.3h0M375.0 518.9h0M363.0 515.0h0M351.2 515.7h0M358.3 531.1h0M373.3 531.0h0M359.5 512.3h0M357.9 532.3h0M347.1 523.7h0M332.2 519.2h0M356.1 528.0h0M366.2 517.9h0M354.2 534.9h0"/>
<path stroke="#fc0061" d="M383.3 523.9h0M376.9 526.8h0M401.8 524.0h0M368.4 531.1h0M364.4 524.9h0M342.6 527.7h0M338.8 528.1h0"/>
<path stroke="#008bfb" d="M364.8 522.4h0M368.5 532.7h0M328.7 525.0h0M340.8 526.8h0M340.3 520.7h0M357.9 526.6h0M353.1 537.3h0M368.2 525.2h0M349.4 526.9h0M359.9 510.7h0"/>
<path stroke="#764ed0" d="M331.7 526.6h0M330.8 527.7h0M349.7 534.0h0M371.8 527.0h0M347.6 529.1h0M354.3 533.2h0M337.0 532.8h0M363.0 525.3h0M345.6 514.9h0M366.4 522.6h0"/>
<path stroke="#0076f1" d="M362.7 527.8h0M334.0 520.9h0"/>
<path stroke="#0081f7" d="M352.5 525.2h0M337.5 525.2h0"/>
<path stroke="#ff0051" d="M383.8 526.5h0M371.6 525.4h0M376.9 523.7h0M375.3 526.8h0M393.7 523.6h0M356.3 526.5h0M352.6 533.5h0M371.8 523.6h0M371.9 517.2h0"/>
<path stroke="#0081f7" d="M360.9 526.4h0M344.0 519.4h0M342.3 517.2h0M340.6 523.8h0"/>
<path stroke="#f30070" d="M363.1 512.4h0M390.5 523.8h0M352.8 528.0h0M375.2 521.7h0M359.3 531.2h0M354.4 536.3h0M366.0 531.7h0"/>
<path stroke="#ff0051" d="M347.5 515.5h0M381.4 527.2h0M388.4 523.8h0M369.8 530.2h0M378.1 528.2h0M339.3 517.8h0M399.0 523.8h0M368.3 520.7h0M362.9 529.4h0"/>
<path stroke="#9d22ac" d="M380.1 526.6h0M379.8 520.9h0M340.8 531.4h0M328.9 523.6h0M362.8 513.9h0M324.9 521.9h0M354.3 519.6h0M349.4 517.9h0M372.9 527.9h0"/>
<path stroke="#fc0061" d="M396.6 523.7h0M349.2 516.4h0M327.0 526.5h0M342.8 514.6h0M349.2 513.1h0M333.3 525.0h0M321.6 524.0h0M349.5 519.4h0"/>
<path stroke="#c70098" d="M350.9 535.6h0M372.3 530.1h0M366.6 533.4h0M369.7 517.3h0M357.5 520.9h0"/>
<path stroke="#0076f1" d="M352.2 526.5h0M344.1 517.8h0M347.7 532.3h0M337.3 514.7h0M321.7 526.2h0"/>
<path stroke="#d9008c" d="M335.7 527.9h0M383.6 521.0h0M352.6 511.3h0M367.8 534.1h0"/>
<path stroke="#306ae9" d="M342.6 518.3h0M349.0 531.1h0M360.0 523.6h0M344.3 528.0h0M353.2 512.6h0"/>
<path stroke="#b30aa3" d="M349.3 529.6h0M347.2 519.3h0M323.8 525.1h0M329.8 521.3h0M352.7 508.5h0M325.7 520.7h0M359.2 535.2h0M373.4 525.3h0M309.8 523.7h0M325.2 523.9h0M344.3 531.1h0M342.1 526.1h0M353.2 515.4h0"/>
<path stroke="#764ed0" d="M337.0 529.7h0M345.8 513.2h0M357.6 535.2h0M363.4 517.9h0M350.5 523.5h0"/>
<path stroke="#5b5ddd" d="M330.3 519.6h0M339.3 524.0h0M339.0 525.3h0M332.1 524.0h0M353.3 521.0h0M352.7 530.7h0M321.7 521.5h0"/>
<path stroke="#8a3cc0" d="M358.1 512.3h0M362.9 526.8h0M357.9 529.7h0M318.3 525.4h0M330.9 518.7h0M373.1 516.4h0"/>
<path stroke="#008bfb" d="M355.9 519.6h0M364.9 514.4h0M334.3 523.8h0M357.6 525.4h0M330.6 526.3h0M363.4 516.4h0M357.7 534.0h0"/>
<path stroke="#e7007e" d="M367.8 522.4h0M328.5 519.9h0M352.7 519.5h0M347.5 526.7h0"/>
<path stroke="#0081f7" d="M345.5 529.6h0M345.9 526.8h0M344.0 521.0h0"/>
<path stroke="#008bfb" d="M361.1 514.6h0M350.5 521.0h0M357.9 510.7h0M345.7 520.6h0M363.1 510.8h0M352.5 534.8h0M330.5 530.6h0M356.0 523.7h0"/>
<path stroke="#8a3cc0" d="M359.7 533.7h0M356.2 515.2h0M342.3 531.4h0M361.1 515.8h0"/>
<path stroke="#b30aa3" d="M340.8 517.6h0M368.3 524.0h0M366.6 525.1h0M333.8 518.3h0M361.3 531.9h0M351.1 527.8h0M359.6 528.2h0M337.4 523.7h0M370.1 522.3h0"/>
<path stroke="#fc0061" d="M354.5 515.3h0M371.3 518.9h0M385.3 526.3h0"/>
<path stroke="#306ae9" d="M334.1 527.9h0M373.4 520.7h0M354.6 518.2h0M362.6 532.3h0M364.6 521.2h0"/>
<path stroke="#e7007e" d="M385.2 523.9h0M357.4 523.8h0"/>
<path stroke="#9d22ac" d="M318.8 522.1h0M356.0 514.0h0M317.4 523.7h0M364.9 519.7h0M374.8 528.6h0M371.7 520.7h0M308.0 523.8h0"/>
<path stroke="#ff0051" d="M335.8 526.5h0M359.8 525.1h0M358.0 536.7h0M352.6 523.4h0M384.9 525.0h0M361.2 518.4h0M362.7 519.2h0M357.7 516.6h0"/>
<path stroke="#5b5ddd" d="M350.8 526.4h0M367.8 515.0h0M345.6 532.5h0M335.5 519.7h0"/>
<path stroke="#f30070" d="M366.1 523.3h0M342.2 532.9h0M359.5 517.8h0M369.8 526.4h0M337.0 517.7h0M352.6 514.0h0M384.8 522.2h0"/>
<path stroke="#c70098" d="M354.4 522.4h0M379.7 525.4h0M334.1 526.6h0M379.9 522.3h0M373.5 517.6h0M323.6 526.8h0M361.9 521.4h0M359.8 515.2h0M364.4 516.1h0M344.5 525.2h0M332.4 517.9h0M357.9 518.2h0M359.6 513.9h0M354.2 511.3h0"/>
<path stroke="#0076f1" d="M355.8 529.3h0M337.2 528.3h0M379.4 528.5h0M366.1 516.8h0M376.9 525.2h0M337.4 519.4h0M357.7 513.6h0"/>
<path stroke="#d9008c" d="M354.2 528.0h0M337.5 516.3h0M347.4 525.1h0M346.3 519.1h0M364.6 531.8h0M354.6 514.0h0M361.2 535.6h0M340.8 529.4h0M350.9 532.8h0M330.2 525.0h0"/>
<path stroke="#764ed0" d="M352.2 517.1h0M332.2 520.6h0M352.6 522.5h0M337.4 526.4h0M335.5 529.3h0M311.3 523.8h0"/>
<path stroke="#008bfb" d="M340.4 525.2h0M349.2 528.5h0M350.9 517.1h0M350.7 511.8h0M359.7 516.5h0M342.7 515.8h0M330.3 529.1h0M352.6 538.8h0M345.8 528.2h0M341.1 516.1h0M340.9 522.2h0M356.1 516.6h0M337.5 531.2h0M345.7 530.9h0M342.8 525.2h0M364.7 523.9h0"/>
<path stroke="#c70098" d="M350.7 525.2h0M358.0 522.3h0M323.5 520.8h0M381.6 525.6h0M342.5 521.2h0M361.3 527.7h0M361.1 533.1h0M364.6 532.7h0M365.1 535.6h0"/>
<path stroke="#ff0051" d="M385.0 521.0h0M367.9 516.5h0M350.6 522.4h0M366.6 520.9h0M379.8 523.4h0M353.0 529.2h0M378.5 523.6h0"/>
<path stroke="#f30070" d="M355.9 518.3h0M388.7 522.3h0M354.1 516.7h0"/>
<path stroke="#764ed0" d="M375.1 520.6h0M356.3 525.3h0M351.2 530.7h0M344.3 523.6h0M359.6 521.0h0M368.1 529.7h0M354.3 523.7h0M320.0 525.8h0"/>
<path stroke="#e7007e" d="M371.6 522.3h0M337.2 520.7h0M361.6 530.1h0M366.6 519.7h0"/>
<path stroke="#0081f7" d="M347.8 530.7h0M373.7 523.6h0"/>
<path stroke="#d9008c" d="M345.5 525.1h0M333.8 519.8h0M368.3 519.1h0M369.4 520.8h0M376.5 522.3h0M366.4 530.3h0"/>
<path stroke="#fc0061" d="M361.1 525.2h0M339.1 531.0h0M400.6 523.9h0"/>
<path stroke="#5b5ddd" d="M342.3 523.8h0M332.1 525.0h0M343.9 515.1h0M354.5 530.8h0M327.2 522.3h0M361.3 513.4h0M355.9 521.0h0"/>
<path stroke="#8a3cc0" d="M339.2 522.3h0M320.2 521.7h0M366.5 514.5h0M315.1 523.7h0M364.7 528.8h0M373.2 529.5h0M306.3 523.9h0M356.1 535.1h0M378.0 520.6h0M372.7 526.7h0M338.8 521.0h0M338.8 529.7h0M339.1 526.6h0M355.9 512.3h0M335.4 516.8h0"/>
<path stroke="#b30aa3" d="M366.3 526.4h0M335.7 525.1h0M332.1 529.7h0M349.2 525.3h0M318.3 523.9h0M327.1 528.2h0"/>
<path stroke="#9d22ac" d="M364.5 534.1h0M333.7 522.5h0"/>
<path stroke="#306ae9" d="M377.3 519.7h0M323.4 523.9h0M350.7 513.3h0M361.4 529.0h0M354.0 512.6h0"/>
<path stroke="#0076f1" d="M339.1 514.9h0M351.2 531.9h0M362.8 535.4h0M369.7 518.5h0"/>
<path stroke="#0081f7" d="M363.5 579.5h0M367.2 566.6h0M363.5 572.0h0"/>
<path stroke="#5b5ddd" d="M347.9 562.9h0M341.5 559.5h0M368.6 572.4h0M343.4 561.3h0M375.8 572.2h0M358.4 556.8h0"/>
<path stroke="#8a3cc0" d="M358.3 564.2h0M337.6 562.2h0M350.2 552.5h0M355.4 577.4h0M369.2 559.3h0M346.5 572.0h0M363.1 557.5h0M363.8 561.3h0M374.0 570.8h0"/>
<path stroke="#f30070" d="M358.5 553.9h0M312.2 566.7h0M307.1 566.5h0M343.5 556.8h0M353.0 555.2h0M357.1 580.2h0M348.2 566.7h0M317.2 566.7h0M351.5 557.0h0"/>
<path stroke="#d9008c" d="M377.3 570.8h0M339.9 568.0h0M337.9 568.0h0M319.3 565.5h0M334.4 572.3h0M333.2 565.1h0M336.0 563.8h0M370.5 566.9h0"/>
<path stroke="#764ed0" d="M376.1 565.5h0M351.4 569.6h0M337.9 558.2h0M334.5 573.8h0M369.0 563.7h0M360.2 560.9h0M372.1 576.6h0"/>
<path stroke="#306ae9" d="M382.5 565.1h0M331.3 565.3h0M363.7 556.1h0M367.2 563.7h0"/>
<path stroke="#e7007e" d="M346.4 557.3h0M310.8 566.7h0M332.9 569.7h0M351.9 568.3h0"/>
<path stroke="#0076f1" d="M353.3 556.9h0M367.3 560.8h0M342.7 562.6h0M377.7 572.3h0M361.6 565.3h0"/>
<path stroke="#ff0051" d="M332.5 566.8h0M352.0 576.4h0M347.0 573.2h0M343.6 568.2h0M343.2 574.9h0M350.1 561.1h0M340.9 560.6h0M340.0 570.9h0M302.8 566.7h0M339.6 566.8h0M372.0 575.2h0M278.0 566.7h0"/>
<path stroke="#fc0061" d="M324.2 568.1h0M336.0 559.5h0M319.4 568.2h0M334.6 571.3h0"/>
<path stroke="#9d22ac" d="M360.0 572.4h0M364.1 565.4h0M346.8 576.0h0M375.4 559.6h0M331.2 569.3h0M354.4 573.6h0M362.2 577.4h0M363.2 568.0h0"/>
<path stroke="#008bfb" d="M377.4 565.3h0M360.1 559.6h0M360.2 558.0h0M363.7 555.0h0M379.0 568.2h0M360.3 577.9h0M378.7 565.2h0M402.6 566.7h0M345.0 578.6h0M384.1 564.8h0"/>
<path stroke="#b30aa3" d="M327.7 570.6h0M355.1 550.6h0M343.1 571.1h0M356.8 577.5h0M328.3 569.4h0M334.7 562.5h0M348.1 561.6h0M344.9 574.5h0M351.3 556.0h0"/>
<path stroke="#c70098" d="M360.1 562.4h0M334.6 565.4h0M358.6 559.6h0M321.0 565.1h0M338.0 563.8h0M343.6 569.5h0M346.7 558.6h0M373.7 569.3h0"/>
<path stroke="#306ae9" d="M353.2 575.1h0M370.0 564.1h0M375.7 561.3h0M353.7 566.3h0M359.0 572.3h0M363.4 566.5h0M353.2 563.9h0M377.6 568.2h0"/>
<path stroke="#b30aa3" d="M331.4 561.5h0M344.7 558.7h0M360.2 568.1h0M372.2 569.8h0M356.6 567.9h0M336.4 558.4h0M339.7 563.8h0M344.6 562.7h0M368.5 569.6h0M336.3 570.8h0M372.4 565.0h0M359.9 569.7h0"/>
<path stroke="#9d22ac" d="M331.0 568.1h0M358.9 555.2h0M336.2 574.9h0M343.4 576.8h0M327.8 565.2h0M322.9 568.1h0M329.5 568.1h0M355.1 574.8h0M355.6 551.6h0M356.3 555.9h0M341.5 572.7h0"/>
<path stroke="#5b5ddd" d="M361.9 558.4h0M341.5 566.7h0M344.9 565.7h0M365.3 566.6h0M357.4 574.7h0M365.0 576.4h0"/>
<path stroke="#c70098" d="M368.4 574.0h0M333.5 568.1h0M338.1 559.6h0M360.1 573.7h0"/>
<path stroke="#764ed0" d="M350.5 554.0h0M355.3 567.9h0M350.0 565.3h0M375.7 566.7h0M345.3 564.1h0M348.6 575.7h0M355.4 562.8h0M355.1 572.1h0M356.6 572.4h0M356.9 566.8h0"/>
<path stroke="#d9008c" d="M353.4 573.7h0M339.6 558.7h0M362.2 561.3h0M344.6 561.4h0"/>
<path stroke="#0081f7" d="M355.2 578.7h0M356.6 553.2h0"/>
<path stroke="#e7007e" d="M366.8 571.2h0M329.5 566.6h0M355.0 581.5h0M353.7 568.4h0M355.2 564.0h0M353.5 559.4h0M344.8 571.9h0"/>
<path stroke="#fc0061" d="M329.9 568.9h0M336.2 561.2h0M369.0 568.1h0M341.7 571.2h0"/>
<path stroke="#0076f1" d="M336.6 576.3h0M358.3 562.5h0M377.4 564.2h0"/>
<path stroke="#008bfb" d="M375.4 558.4h0M367.3 569.6h0M350.3 569.3h0M363.8 570.8h0M391.0 566.9h0M351.6 565.2h0M363.7 574.7h0M361.8 552.8h0M374.0 567.9h0M354.8 583.1h0M352.2 558.4h0M362.1 566.9h0"/>
<path stroke="#8a3cc0" d="M352.1 559.6h0M346.7 559.8h0M361.6 557.2h0M351.9 574.7h0M374.0 566.6h0M374.2 562.5h0M373.5 561.3h0M348.3 569.2h0M378.9 570.8h0M336.1 572.2h0"/>
<path stroke="#ff0051" d="M369.0 571.4h0M346.2 561.2h0M365.3 558.5h0M346.7 568.0h0M327.5 566.6h0M332.7 560.4h0"/>
<path stroke="#f30070" d="M334.9 561.0h0M322.7 565.3h0M358.9 573.9h0M358.5 575.1h0M374.0 572.1h0M364.9 555.7h0M361.7 573.7h0"/>
<path stroke="#9d22ac" d="M360.6 563.9h0M365.7 569.4h0M348.7 568.2h0M356.9 576.3h0M348.5 563.8h0M360.5 556.8h0M358.6 579.5h0M371.8 559.2h0"/>
<path stroke="#f30070" d="M339.9 561.4h0M365.5 561.2h0M350.1 580.8h0M346.5 566.9h0"/>
<path stroke="#764ed0" d="M349.8 555.6h0M339.9 559.7h0M346.5 577.7h0M379.1 566.7h0M375.5 569.4h0M370.2 562.6h0M365.3 573.2h0M379.1 563.9h0"/>
<path stroke="#306ae9" d="M343.2 558.0h0M335.1 557.9h0M385.7 566.5h0M361.7 578.8h0M348.2 557.5h0M380.6 566.7h0M362.1 575.0h0M356.9 563.7h0M355.4 557.2h0M361.7 564.2h0M385.6 568.2h0"/>
<path stroke="#8a3cc0" d="M348.7 565.5h0M329.8 562.8h0M341.3 568.2h0M348.4 554.8h0M382.3 563.4h0M342.9 573.7h0M368.3 565.2h0M378.7 562.6h0M337.9 575.3h0M341.1 564.0h0M367.0 574.2h0"/>
<path stroke="#008bfb" d="M363.7 562.8h0M365.4 559.9h0M355.2 554.6h0M380.7 564.8h0M370.3 569.4h0M363.1 559.1h0M397.8 566.6h0M383.8 568.7h0M365.1 570.8h0M346.4 575.0h0M375.2 562.7h0M345.5 553.5h0"/>
<path stroke="#b30aa3" d="M331.1 571.8h0M329.0 564.0h0M361.4 559.8h0M349.8 582.3h0M353.6 572.4h0M366.8 572.6h0M362.1 572.0h0"/>
<path stroke="#e7007e" d="M332.8 573.2h0M355.3 570.6h0M327.9 564.1h0M325.9 566.3h0M377.4 569.4h0"/>
<path stroke="#fc0061" d="M337.7 574.0h0M346.3 554.7h0M351.6 564.0h0"/>
<path stroke="#0081f7" d="M348.4 560.2h0M376.9 562.6h0M372.6 568.0h0M375.4 568.1h0M358.4 558.3h0"/>
<path stroke="#c70098" d="M365.3 577.6h0M344.6 560.1h0M371.8 560.6h0M354.9 566.7h0M348.2 577.2h0M365.4 563.9h0M341.8 569.8h0"/>
<path stroke="#0076f1" d="M363.7 578.6h0M362.1 554.6h0M344.8 569.3h0M373.7 565.5h0M356.8 573.7h0M356.5 570.9h0M370.6 559.9h0"/>
<path stroke="#d9008c" d="M372.0 563.5h0M325.9 569.5h0M365.8 557.2h0M360.1 566.8h0M337.6 571.1h0"/>
<path stroke="#ff0051" d="M334.5 566.6h0M327.7 568.3h0M343.1 572.4h0M357.3 557.4h0M363.5 553.6h0"/>
<path stroke="#5b5ddd" d="M368.6 566.8h0M365.4 568.0h0M349.8 562.5h0M361.9 568.1h0M372.0 566.5h0M334.6 568.1h0M348.6 572.1h0M353.4 553.8h0"/>
<path stroke="#fc0061" d="M338.3 561.0h0M341.0 574.0h0M341.3 558.1h0M314.2 566.4h0"/>
<path stroke="#c70098" d="M363.5 577.2h0M346.4 569.5h0M338.3 576.7h0M355.2 561.2h0M322.9 566.7h0M372.1 570.8h0M344.5 556.2h0M345.2 573.3h0"/>
<path stroke="#d9008c" d="M343.3 559.6h0M329.2 565.6h0M356.6 558.6h0M358.5 565.4h0M370.6 558.7h0M337.9 569.6h0M337.9 566.9h0"/>
<path stroke="#ff0051" d="M326.1 563.8h0M346.4 565.4h0M343.3 565.4h0M336.4 569.3h0M299.3 566.7h0M343.0 566.9h0M344.9 557.5h0"/>
<path stroke="#0081f7" d="M384.2 566.7h0M380.7 570.1h0M367.2 559.2h0M346.6 564.2h0"/>
<path stroke="#e7007e" d="M341.4 565.2h0M358.0 566.7h0M360.0 555.4h0M339.4 562.6h0M333.3 571.4h0M358.9 560.8h0M342.0 575.5h0M356.7 553.9h0M366.6 565.2h0M351.8 561.5h0M352.1 579.1h0"/>
<path stroke="#8a3cc0" d="M332.9 561.9h0M363.5 573.3h0M370.6 561.1h0M368.6 562.1h0M351.8 554.4h0M370.2 573.5h0M349.9 559.6h0M334.6 563.7h0"/>
<path stroke="#b30aa3" d="M348.4 556.0h0M331.7 563.8h0M336.2 568.1h0M350.3 568.0h0M362.3 570.7h0M350.1 556.9h0M351.3 566.8h0"/>
<path stroke="#0076f1" d="M353.4 565.3h0M379.0 569.4h0M360.2 575.3h0M365.7 572.4h0"/>
<path stroke="#f30070" d="M347.9 553.7h0M335.9 562.9h0M321.0 566.6h0M329.6 570.8h0M360.4 565.3h0"/>
<path stroke="#9d22ac" d="M337.9 572.4h0M346.4 578.6h0M354.5 576.0h0M349.9 563.8h0M370.3 570.4h0M351.9 570.8h0M358.4 569.5h0M363.6 564.1h0M348.2 558.8h0M377.3 561.3h0M365.6 574.9h0M361.9 562.5h0M376.0 570.5h0M358.2 568.2h0M327.5 562.8h0M372.1 562.1h0M357.0 578.9h0"/>
<path stroke="#764ed0" d="M345.7 576.0h0M367.1 562.1h0M351.3 577.5h0M350.0 566.8h0M361.5 576.2h0"/>
<path stroke="#306ae9" d="M345.2 555.1h0M382.3 568.0h0M361.9 555.9h0M344.9 577.4h0M374.3 560.0h0"/>
<path stroke="#008bfb" d="M353.4 558.2h0M369.3 560.7h0M354.7 569.2h0M375.7 573.8h0M392.9 566.8h0M372.2 557.9h0M389.6 566.7h0M360.4 553.6h0M385.7 565.2h0"/>
<path stroke="#5b5ddd" d="M359.7 571.0h0M372.3 572.4h0M350.0 578.0h0M350.0 572.1h0M344.8 570.7h0"/>
<path stroke="#d9008c" d="M324.2 566.6h0M309.4 567.0h0M339.4 575.9h0M334.8 569.4h0M353.5 576.8h0M373.9 563.6h0M336.4 566.8h0M353.2 579.4h0M339.7 573.6h0M346.5 570.8h0M339.6 569.3h0"/>
<path stroke="#5b5ddd" d="M342.9 563.8h0M350.1 579.2h0M350.3 575.1h0M375.9 563.8h0M372.0 573.9h0M375.2 575.0h0M355.0 558.7h0M357.0 565.6h0M331.2 570.6h0M344.7 579.7h0"/>
<path stroke="#e7007e" d="M324.5 569.5h0M351.5 573.8h0M325.9 565.5h0M326.5 568.4h0M355.4 559.7h0M329.9 571.9h0M318.9 566.6h0M336.1 557.3h0M348.3 579.8h0"/>
<path stroke="#9d22ac" d="M370.5 568.0h0M356.8 562.5h0M336.4 573.3h0M373.6 573.5h0M365.8 565.2h0M350.1 551.2h0M358.5 576.4h0M367.0 568.1h0"/>
<path stroke="#306ae9" d="M368.4 557.9h0M339.6 572.1h0M356.6 569.4h0"/>
<path stroke="#764ed0" d="M354.7 565.4h0M353.1 571.2h0M336.2 565.3h0M344.6 567.8h0M360.2 576.8h0M346.1 562.4h0M361.9 580.4h0M370.8 565.5h0"/>
<path stroke="#b30aa3" d="M329.4 561.6h0M353.5 561.1h0M360.4 579.6h0M370.6 574.7h0M352.9 562.4h0M348.2 578.4h0M355.3 555.8h0M351.4 572.2h0M320.6 568.6h0M363.7 560.0h0"/>
<path stroke="#8a3cc0" d="M338.4 565.1h0M339.7 557.4h0M324.2 564.1h0M358.7 577.9h0M351.5 562.6h0M348.7 573.0h0"/>
<path stroke="#0076f1" d="M339.6 574.8h0M382.7 566.8h0M349.7 558.2h0M387.9 566.6h0"/>
<path stroke="#c70098" d="M349.6 573.5h0M341.4 562.2h0M353.4 569.9h0M356.8 559.9h0M344.6 566.6h0"/>
<path stroke="#ff0051" d="M350.0 570.7h0M348.2 574.8h0M350.4 576.7h0M331.0 562.5h0M339.7 565.5h0M347.9 570.4h0M334.5 575.4h0M334.7 559.4h0"/>
<path stroke="#008bfb" d="M354.9 579.8h0M355.1 553.2h0M356.8 561.6h0M396.1 566.4h0M377.3 566.4h0M368.9 575.6h0M382.3 569.8h0M371.9 556.5h0M380.4 563.0h0M362.1 569.5h0"/>
<path stroke="#fc0061" d="M346.9 556.1h0M353.7 578.0h0M363.5 569.4h0M332.7 563.4h0"/>
<path stroke="#0081f7" d="M370.5 571.8h0M380.8 568.5h0M362.9 575.7h0M394.4 566.6h0M358.2 570.9h0M365.6 562.6h0"/>
<path stroke="#f30070" d="M324.5 565.2h0M315.5 566.8h0M331.4 566.6h0M337.5 556.9h0"/>
<path stroke="#008bfb" d="M349.1 493.1h0M345.1 485.4h0M343.8 484.0h0M345.4 476.0h0M348.1 486.0h0M349.1 475.6h0M350.7 477.1h0M349.6 479.8h0M349.8 485.7h0M349.5 494.5h0M348.4 495.5h0M350.9 480.9h0M346.6 471.6h0M348.2 472.5h0M351.0 481.9h0M352.2 480.6h0M345.4 484.6h0M346.7 491.3h0M346.3 478.1h0M351.1 479.7h0M348.1 483.3h0"/>
<path stroke="#008bfb" d="M350.5 488.0h0M348.0 484.3h0M346.6 475.5h0M348.1 486.9h0M350.5 483.3h0M350.1 469.7h0M351.2 473.5h0M346.5 476.8h0M347.0 474.3h0M344.9 479.3h0M348.0 492.1h0M350.8 485.6h0M351.2 478.6h0M345.0 482.1h0M349.5 480.4h0M346.1 492.8h0M348.1 473.5h0M348.0 466.1h0M349.3 477.2h0M352.4 477.8h0M348.9 478.2h0"/>
<path stroke="#008bfb" d="M346.7 490.1h0M349.2 492.0h0M346.6 487.5h0M345.0 487.1h0M351.1 486.8h0M348.9 474.4h0M346.1 484.7h0M346.2 483.7h0M347.6 478.3h0M350.7 474.8h0M347.7 467.2h0M346.3 468.8h0M348.1 489.2h0M348.4 493.1h0M344.9 478.5h0M346.3 479.4h0M345.4 477.0h0M345.0 480.9h0M349.4 482.3h0M349.3 489.4h0M343.5 480.7h0"/>
<path stroke="#008bfb" d="M346.8 470.1h0M352.5 476.2h0M348.4 488.3h0M345.4 475.0h0M349.5 468.7h0M351.8 483.7h0M352.2 485.4h0M349.0 483.6h0M348.0 482.1h0M346.4 480.8h0M346.1 485.8h0M348.0 470.9h0M347.5 494.7h0M347.9 477.3h0M349.2 473.6h0M349.3 490.6h0M350.9 484.4h0M348.4 468.5h0M346.3 482.1h0M343.8 477.3h0M347.7 490.6h0"/>
<path stroke="#008bfb" d="M348.2 469.8h0M349.7 488.5h0M349.4 484.7h0M347.9 475.7h0M346.6 472.7h0M347.6 480.8h0M343.6 482.6h0M343.5 479.2h0M347.9 474.4h0M352.3 482.3h0M345.3 488.0h0M347.7 479.5h0M350.8 476.3h0M352.1 479.4h0M346.5 488.9h0M345.8 483.0h0M349.3 472.1h0M345.0 473.7h0M349.3 486.7h0M349.0 470.7h0M349.2 467.4h0"/>
<path stroke="#ff0051" d="M405.4 481.1h0M419.8 480.8h0M451.5 480.8h0M394.6 480.7h0M419.8 480.2h0M385.5 480.8h0M439.0 480.9h0M430.6 480.1h0M440.2 480.7h0M436.6 480.5h0M409.0 481.0h0M430.6 481.5h0M429.4 480.9h0M428.2 481.4h0M411.4 480.1h0M434.2 481.0h0M427.0 480.9h0M429.4 481.4h0M403.0 481.1h0M400.6 481.1h0"/>
<path stroke="#ff0051" d="M410.2 480.3h0M407.8 480.3h0M391.0 480.8h0M421.0 480.1h0M431.8 481.5h0M397.0 480.8h0M388.0 480.8h0M403.0 480.4h0M410.2 480.7h0M418.6 480.1h0M441.4 480.7h0M423.4 480.2h0M398.2 480.9h0M445.0 480.8h0M454.7 480.8h0M415.0 480.0h0M423.4 480.8h0M424.6 481.4h0M419.8 481.3h0M428.2 480.8h0"/>
<path stroke="#ff0051" d="M422.2 480.1h0M392.2 480.7h0M425.8 481.1h0M434.2 480.7h0M413.8 480.2h0M437.8 480.7h0M418.6 480.8h0M416.2 480.8h0M413.8 480.8h0M421.0 481.5h0M433.0 480.5h0M436.6 481.1h0M429.4 480.1h0M393.4 480.8h0M435.4 480.6h0M401.8 480.6h0M404.2 481.1h0M415.0 481.4h0M390.0 480.8h0M409.0 480.4h0"/>
<path stroke="#ff0051" d="M427.0 481.3h0M417.4 480.9h0M413.8 481.5h0M407.8 481.2h0M405.4 480.6h0M416.2 481.5h0M425.8 480.3h0M395.8 480.9h0M400.6 480.5h0M430.6 480.8h0M417.4 481.3h0M424.6 480.2h0M406.6 480.5h0M418.6 481.4h0M448.5 480.8h0M399.4 480.8h0M416.2 480.2h0M428.2 480.2h0M422.2 481.5h0M431.8 480.2h0"/>
<path stroke="#ff0051" d="M417.4 480.4h0M423.4 481.6h0M411.4 480.8h0M422.2 480.7h0M433.0 481.2h0M412.6 481.4h0M425.8 481.3h0M411.4 481.4h0M412.6 480.9h0M404.2 480.3h0M421.0 480.8h0M406.6 481.2h0M410.2 481.4h0M424.6 480.8h0M431.8 480.9h0M435.4 481.1h0M412.6 480.2h0M415.0 480.8h0M427.0 480.3h0M401.8 481.0h0"/>
<path stroke="#ff0051" d="M352.9 601.7h0M352.8 603.7h0M354.2 621.7h0M354.1 610.7h0M352.3 611.1h0M354.2 598.7h0M352.8 599.7h0M354.0 617.7h0M353.9 620.7h0M352.6 598.7h0M352.9 614.7h0M354.0 611.7h0M353.0 597.7h0"/>
<path stroke="#ff0051" d="M354.0 608.7h0M354.0 606.7h0M354.2 595.7h0M352.9 620.7h0M352.2 609.6h0M354.0 599.7h0M352.9 615.7h0M352.7 609.7h0M354.0 619.7h0M352.3 608.1h0M352.7 616.7h0M352.8 623.7h0M354.1 612.7h0"/>
<path stroke="#ff0051" d="M354.1 600.7h0M354.1 614.7h0M354.0 613.7h0M352.8 619.7h0M354.2 601.7h0M354.1 622.7h0M354.0 623.7h0M352.9 608.7h0M352.8 617.7h0M352.9 621.7h0M354.0 596.7h0M352.9 606.7h0M354.1 615.7h0"/>
<path stroke="#ff0051" d="M352.8 612.7h0M354.2 618.7h0M352.9 613.7h0M352.9 594.7h0M352.7 604.7h0M354.0 607.7h0M353.0 600.7h0M352.9 602.7h0M354.0 594.7h0M352.9 605.7h0M352.8 618.7h0M354.1 602.7h0"/>
<path stroke="#ff0051" d="M354.0 616.7h0M352.9 607.7h0M354.1 597.7h0M354.0 609.7h0M353.0 622.7h0M353.0 611.7h0M354.1 605.7h0M354.0 604.7h0M352.8 610.7h0M354.2 603.7h0M352.8 595.7h0M352.7 596.7h0"/>
<path stroke="#008bfb" d="M359.0 609.8h0M361.2 610.7h0M356.8 607.9h0M359.0 611.3h0M361.2 608.7h0M359.0 608.1h0M362.8 609.9h0M356.8 609.6h0M364.2 609.7h0M356.8 611.3h0"/>
<path stroke="#ff0051" d="M347.6 652.6h0M350.8 652.6h0M351.6 652.6h0M349.2 652.6h0"/>
<path stroke="#008bfb" d="M355.0 667.1h0M355.1 639.1h0M354.2 638.1h0M354.0 645.1h0M355.0 662.1h0M354.0 652.1h0M354.0 659.1h0M355.0 660.1h0M355.0 658.1h0M354.0 640.1h0M355.1 651.1h0M355.1 646.1h0M354.1 651.1h0"/>
<path stroke="#008bfb" d="M355.2 647.1h0M355.1 645.1h0M355.1 648.1h0M354.0 641.1h0M354.0 648.1h0M355.1 640.1h0M355.2 650.1h0M354.1 637.1h0M355.1 652.1h0M355.0 644.1h0M355.0 637.1h0M353.9 667.1h0M353.9 654.1h0"/>
<path stroke="#008bfb" d="M353.9 665.1h0M354.0 666.1h0M354.1 658.1h0M354.2 650.1h0M354.0 646.1h0M354.1 664.1h0M354.1 643.1h0M354.1 663.1h0M355.1 655.1h0M355.0 661.1h0M354.1 644.1h0M354.0 660.1h0M355.0 668.1h0"/>
<path stroke="#008bfb" d="M354.0 656.1h0M354.1 642.1h0M354.0 655.1h0M355.2 656.1h0M355.0 666.1h0M355.0 663.1h0M355.1 642.1h0M354.1 649.1h0M354.2 653.1h0M354.1 661.1h0M355.0 649.1h0M355.2 643.1h0M354.0 657.1h0"/>
<path stroke="#008bfb" d="M355.1 659.1h0M353.8 647.1h0M355.0 657.1h0M354.9 638.1h0M355.1 665.1h0M355.0 653.1h0M354.0 668.1h0M355.0 654.1h0M355.0 664.1h0M354.0 639.1h0M355.2 641.1h0M354.1 662.1h0"/>
</g>
<g stroke="#333" stroke-width="0.85"><line x1="255.4" x2="493.6" y1="695.9" y2="695.9"/>
<line x1="269.1" x2="269.1" y1="695.9" y2="698.8"/>
<line x1="297.5" x2="297.5" y1="695.9" y2="698.8"/>
<line x1="325.9" x2="325.9" y1="695.9" y2="698.8"/>
<line x1="354.3" x2="354.3" y1="695.9" y2="698.8"/>
<line x1="382.7" x2="382.7" y1="695.9" y2="698.8"/>
<line x1="411.1" x2="411.1" y1="695.9" y2="698.8"/>
<line x1="439.5" x2="439.5" y1="695.9" y2="698.8"/>
<line x1="467.9" x2="467.9" y1="695.9" y2="698.8"/>
</g>
<text class="tk" x="269.1" y="708.1">−3</text>
<text class="tk" x="297.5" y="708.1">−2</text>
<text class="tk" x="325.9" y="708.1">−1</text>
<text class="tk" x="354.3" y="708.1">0</text>
<text class="tk" x="382.7" y="708.1">1</text>
<text class="tk" x="411.1" y="708.1">2</text>
<text class="tk" x="439.5" y="708.1">3</text>
<text class="tk" x="467.9" y="708.1">4</text>
<text x="374" y="720.6" style="font-size:10.2px;text-anchor:middle">SHAP value (impact on model output)</text>
<text class="yl" x="236.6" y="56.1">procalcitonin (ng/ml)</text>
<text class="yl" x="236.6" y="99.0">oxygen saturation (%)</text>
<text class="yl" x="236.6" y="142.0">respiratory rate (breaths/min)</text>
<text class="yl" x="236.6" y="184.9">age</text>
<text class="yl" x="236.6" y="227.9">neutrophil lymphocyte count ratio</text>
<text class="yl" x="236.6" y="270.8">body temperature (°C )</text>
<text class="yl" x="236.6" y="313.7">creactive protein (mg/l)</text>
<text class="yl" x="236.6" y="356.7">systolic blood pressure (mmhg)</text>
<text class="yl" x="236.6" y="399.6">leukocyte particle concentration (x10<tspan dy="-3.3" dx="0.3" style="font-size:9.5px">9</tspan><tspan dy="3.3" dx="0.5">cells/l)</tspan></text>
<text class="yl" x="236.6" y="442.6">lactate (mmol/l)</text>
<text class="yl" x="236.6" y="485.5">positve blood culture</text>
<text class="yl" x="236.6" y="528.4">heart rate (beats/min)</text>
<text class="yl" x="236.6" y="571.4">haemoglobin (g/l)</text>
<text class="yl" x="236.6" y="614.3">systemic inflammatory response syndrome</text>
<text class="yl" x="236.6" y="657.3">intensive care unit</text>
<defs><linearGradient id="cb" x1="0" y1="1" x2="0" y2="0">
<stop offset="0.000" stop-color="#008bfb"/>
<stop offset="0.030" stop-color="#0086fa"/>
<stop offset="0.061" stop-color="#0082f8"/>
<stop offset="0.091" stop-color="#007ef6"/>
<stop offset="0.121" stop-color="#0079f3"/>
<stop offset="0.152" stop-color="#0074f0"/>
<stop offset="0.182" stop-color="#006fed"/>
<stop offset="0.212" stop-color="#306ae9"/>
<stop offset="0.242" stop-color="#4664e4"/>
<stop offset="0.273" stop-color="#575fdf"/>
<stop offset="0.303" stop-color="#6459da"/>
<stop offset="0.333" stop-color="#6f52d4"/>
<stop offset="0.364" stop-color="#794cce"/>
<stop offset="0.394" stop-color="#8244c7"/>
<stop offset="0.424" stop-color="#8a3cc0"/>
<stop offset="0.455" stop-color="#9233b9"/>
<stop offset="0.485" stop-color="#9829b1"/>
<stop offset="0.515" stop-color="#a01fab"/>
<stop offset="0.545" stop-color="#aa17a7"/>
<stop offset="0.576" stop-color="#b30aa3"/>
<stop offset="0.606" stop-color="#bc009f"/>
<stop offset="0.636" stop-color="#c5009a"/>
<stop offset="0.667" stop-color="#cd0095"/>
<stop offset="0.697" stop-color="#d40090"/>
<stop offset="0.727" stop-color="#db008a"/>
<stop offset="0.758" stop-color="#e10084"/>
<stop offset="0.788" stop-color="#e7007e"/>
<stop offset="0.818" stop-color="#ec0078"/>
<stop offset="0.848" stop-color="#f10072"/>
<stop offset="0.879" stop-color="#f6006c"/>
<stop offset="0.909" stop-color="#fa0065"/>
<stop offset="0.939" stop-color="#fd005f"/>
<stop offset="0.970" stop-color="#ff0058"/>
<stop offset="1.000" stop-color="#ff0051"/>
<stop offset="1" stop-color="#ff0051"/>
</linearGradient></defs>
<rect x="507.7" y="8" width="8.6" height="687.6" fill="url(#cb)"/>
<text class="cb" x="518.8" y="11.6">High</text>
<text class="cb" x="518.8" y="699.3">Low</text>
<text transform="translate(546.2,353.5) rotate(-90)" style="font-size:9.45px;text-anchor:middle;fill:#222">Feature value</text>
</svg></body></html>
